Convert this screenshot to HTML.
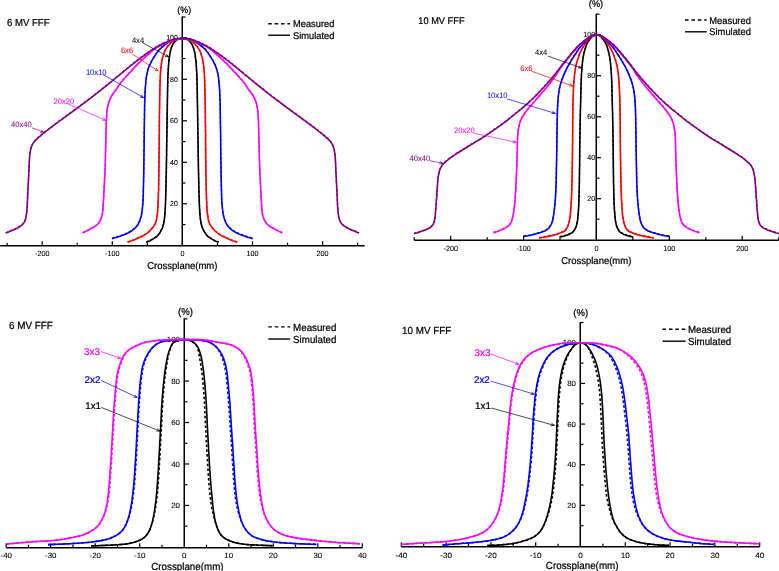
<!DOCTYPE html>
<html><head><meta charset="utf-8"><title>Beam profiles</title>
<style>
html,body{margin:0;padding:0;background:#fff;}
body{width:779px;height:571px;overflow:hidden;}
svg{display:block;}
text{font-family:"Liberation Sans", Arial, Helvetica, sans-serif;text-rendering:geometricPrecision;}
</style></head><body>
<svg width="779" height="571" viewBox="0 0 779 571">
<rect width="779" height="571" fill="#fff"/>
<line x1="182.25" y1="245.75" x2="182.25" y2="16.55" stroke="#000" stroke-width="1.5"/>
<line x1="182.25" y1="224.55" x2="185.5" y2="224.55" stroke="#000" stroke-width="1.2"/>
<line x1="182.25" y1="203.8" x2="187" y2="203.8" stroke="#000" stroke-width="1.2"/>
<line x1="182.25" y1="183.05" x2="185.5" y2="183.05" stroke="#000" stroke-width="1.2"/>
<line x1="182.25" y1="162.3" x2="187" y2="162.3" stroke="#000" stroke-width="1.2"/>
<line x1="182.25" y1="141.55" x2="185.5" y2="141.55" stroke="#000" stroke-width="1.2"/>
<line x1="182.25" y1="120.8" x2="187" y2="120.8" stroke="#000" stroke-width="1.2"/>
<line x1="182.25" y1="100.05" x2="185.5" y2="100.05" stroke="#000" stroke-width="1.2"/>
<line x1="182.25" y1="79.3" x2="187" y2="79.3" stroke="#000" stroke-width="1.2"/>
<line x1="182.25" y1="58.55" x2="185.5" y2="58.55" stroke="#000" stroke-width="1.2"/>
<line x1="182.25" y1="37.8" x2="187" y2="37.8" stroke="#000" stroke-width="1.2"/>
<line x1="182.25" y1="17.05" x2="185.5" y2="17.05" stroke="#000" stroke-width="1.2"/>
<text transform="translate(177.9 206.3) scale(1 1.05)" font-size="7.0" fill="#000" stroke="#000" stroke-width="0.08" text-anchor="end">20</text>
<text transform="translate(177.9 164.8) scale(1 1.05)" font-size="7.0" fill="#000" stroke="#000" stroke-width="0.08" text-anchor="end">40</text>
<text transform="translate(177.9 123.3) scale(1 1.05)" font-size="7.0" fill="#000" stroke="#000" stroke-width="0.08" text-anchor="end">60</text>
<text transform="translate(177.9 81.8) scale(1 1.05)" font-size="7.0" fill="#000" stroke="#000" stroke-width="0.08" text-anchor="end">80</text>
<text transform="translate(177.9 40.3) scale(1 1.05)" font-size="7.0" fill="#000" stroke="#000" stroke-width="0.08" text-anchor="end">100</text>
<line x1="0.14" y1="245.75" x2="364.66" y2="245.75" stroke="#000" stroke-width="1.5"/>
<line x1="42.2" y1="245.75" x2="42.2" y2="241.2" stroke="#000" stroke-width="1.2"/>
<line x1="112.3" y1="245.75" x2="112.3" y2="241.2" stroke="#000" stroke-width="1.2"/>
<line x1="252.5" y1="245.75" x2="252.5" y2="241.2" stroke="#000" stroke-width="1.2"/>
<line x1="322.6" y1="245.75" x2="322.6" y2="241.2" stroke="#000" stroke-width="1.2"/>
<line x1="7.15" y1="245.75" x2="7.15" y2="242.7" stroke="#000" stroke-width="1.2"/>
<line x1="77.25" y1="245.75" x2="77.25" y2="242.7" stroke="#000" stroke-width="1.2"/>
<line x1="147.35" y1="245.75" x2="147.35" y2="242.7" stroke="#000" stroke-width="1.2"/>
<line x1="217.45" y1="245.75" x2="217.45" y2="242.7" stroke="#000" stroke-width="1.2"/>
<line x1="287.55" y1="245.75" x2="287.55" y2="242.7" stroke="#000" stroke-width="1.2"/>
<line x1="357.65" y1="245.75" x2="357.65" y2="242.7" stroke="#000" stroke-width="1.2"/>
<text transform="translate(42.2 255.8) scale(1 1.05)" font-size="7.2" fill="#000" stroke="#000" stroke-width="0.08" text-anchor="middle">-200</text>
<text transform="translate(112.3 255.8) scale(1 1.05)" font-size="7.2" fill="#000" stroke="#000" stroke-width="0.08" text-anchor="middle">-100</text>
<text transform="translate(182.4 255.8) scale(1 1.05)" font-size="7.2" fill="#000" stroke="#000" stroke-width="0.08" text-anchor="middle">0</text>
<text transform="translate(252.5 255.8) scale(1 1.05)" font-size="7.2" fill="#000" stroke="#000" stroke-width="0.08" text-anchor="middle">100</text>
<text transform="translate(322.6 255.8) scale(1 1.05)" font-size="7.2" fill="#000" stroke="#000" stroke-width="0.08" text-anchor="middle">200</text>
<text transform="translate(184.2 12.9) scale(1 1.05)" font-size="8.9" fill="#000" stroke="#000" stroke-width="0.22" text-anchor="middle">(%)</text>
<text transform="translate(182.35 268.8) scale(1 1.05)" font-size="9.5" fill="#000" stroke="#000" stroke-width="0.22" text-anchor="middle">Crossplane(mm)</text>
<text transform="translate(6.9 25.9) scale(1 1.05)" font-size="9.6" fill="#000" stroke="#000" stroke-width="0.22" text-anchor="start">6 MV FFF</text>
<line x1="268.2" y1="23.7" x2="290" y2="23.7" stroke="#000" stroke-width="1.4" stroke-dasharray="3.6,2.8"/>
<text transform="translate(293 27.1) scale(1 1.05)" font-size="9.3" fill="#000" stroke="#000" stroke-width="0.22" text-anchor="start">Measured</text>
<line x1="268.2" y1="35.2" x2="290" y2="35.2" stroke="#000" stroke-width="1.4"/>
<text transform="translate(293 38.6) scale(1 1.05)" font-size="9.3" fill="#000" stroke="#000" stroke-width="0.22" text-anchor="start">Simulated</text>
<path d="M146.1,242.2 147.5,241.7 148.8,241.3 150.2,240.7 151.3,240.1 152.5,239.4 153.6,238.7 154.8,237.9 156.1,237.1 157.2,236.2 158,235.3 158.8,234.3 159.5,233.3 160.2,232.2 160.8,231.1 161.5,229.9 162.1,228.7 162.5,227.6 162.9,226.4 163.3,225.1 163.6,223.8 163.9,222.5 164.1,221.2 164.3,219.8 164.5,218.4 164.6,216.9 164.8,215.3 164.9,213.7 165,212.1 165.1,210.7 165.2,209.4 165.3,207.9 165.3,206.5 165.4,205.0 165.5,203.4 165.5,201.9 165.6,200.3 165.6,198.7 165.7,197.1 165.7,195.5 165.8,194.1 165.8,192.7 165.8,191.2 165.9,189.8 165.9,188.3 166,186.8 166,185.3 166,183.8 166.1,182.2 166.1,180.7 166.1,179.1 166.2,177.5 166.2,175.9 166.2,174.3 166.3,172.7 166.3,171.2 166.3,169.8 166.4,168.3 166.4,166.8 166.4,165.2 166.4,163.7 166.5,162.1 166.5,160.6 166.5,159.0 166.5,157.4 166.6,155.8 166.6,154.2 166.6,152.6 166.6,151.0 166.6,149.4 166.7,147.9 166.7,146.3 166.7,144.7 166.7,143.1 166.8,141.6 166.8,140.0 166.8,138.4 166.8,136.8 166.9,135.3 166.9,133.7 166.9,132.1 166.9,130.5 167,128.9 167,127.4 167,125.8 167,124.2 167.1,122.6 167.1,121.1 167.1,119.5 167.1,118.0 167.2,116.4 167.2,114.9 167.2,113.4 167.2,111.9 167.3,110.4 167.3,108.8 167.3,107.1 167.3,105.5 167.4,103.8 167.4,102.2 167.4,100.6 167.4,99.0 167.5,97.4 167.5,95.8 167.5,94.3 167.5,92.7 167.6,91.2 167.6,89.7 167.6,88.3 167.6,86.9 167.7,85.5 167.7,83.9 167.8,82.3 167.8,80.8 167.8,79.3 167.9,77.8 167.9,76.4 168,75.0 168,73.6 168.1,72.3 168.2,71.0 168.3,69.4 168.4,67.8 168.4,66.3 168.6,64.9 168.7,63.5 168.8,62.1 168.9,60.7 169.1,59.3 169.3,58.0 169.5,56.7 169.6,55.4 169.8,54.1 170.1,52.9 170.3,51.6 170.6,50.5 171,49.1 171.4,47.7 171.9,46.5 172.5,45.2 173.1,44.0 173.8,43.0 174.6,42.0 175.4,41.1 176.2,40.4 177.1,39.7 178.1,39.3 179.2,38.9 180.3,38.7 181.4,38.6 182.4,38.6 183.4,38.6 184.5,38.7 185.6,38.9 186.7,39.3 187.7,39.7 188.6,40.4 189.4,41.1 190.2,42.0 191,43.0 191.7,44.0 192.3,45.2 192.9,46.5 193.4,47.7 193.8,49.1 194.2,50.5 194.5,51.6 194.7,52.9 195,54.1 195.2,55.4 195.3,56.7 195.5,58.0 195.7,59.3 195.9,60.7 196,62.1 196.1,63.5 196.2,64.9 196.4,66.3 196.4,67.8 196.5,69.4 196.6,71.0 196.7,72.3 196.8,73.6 196.8,75.0 196.9,76.4 196.9,77.8 197,79.3 197,80.8 197,82.3 197.1,83.9 197.1,85.5 197.2,86.9 197.2,88.3 197.2,89.7 197.2,91.2 197.3,92.7 197.3,94.3 197.3,95.8 197.3,97.4 197.4,99.0 197.4,100.6 197.4,102.2 197.4,103.8 197.5,105.5 197.5,107.1 197.5,108.8 197.5,110.4 197.6,111.9 197.6,113.4 197.6,114.9 197.6,116.4 197.7,118.0 197.7,119.5 197.7,121.1 197.7,122.6 197.8,124.2 197.8,125.8 197.8,127.4 197.8,128.9 197.9,130.5 197.9,132.1 197.9,133.7 197.9,135.3 198,136.8 198,138.4 198,140.0 198,141.6 198.1,143.1 198.1,144.7 198.1,146.3 198.1,147.9 198.2,149.4 198.2,151.0 198.2,152.6 198.2,154.2 198.2,155.8 198.3,157.4 198.3,159.0 198.3,160.6 198.3,162.1 198.4,163.7 198.4,165.2 198.4,166.8 198.4,168.3 198.5,169.8 198.5,171.2 198.5,172.7 198.6,174.3 198.6,175.9 198.6,177.5 198.7,179.1 198.7,180.7 198.7,182.2 198.8,183.8 198.8,185.3 198.8,186.8 198.9,188.3 198.9,189.8 199,191.2 199,192.7 199,194.1 199.1,195.5 199.1,197.1 199.2,198.7 199.2,200.3 199.3,201.9 199.3,203.4 199.4,205.0 199.5,206.5 199.5,207.9 199.6,209.4 199.7,210.7 199.8,212.1 199.9,213.7 200,215.3 200.2,216.9 200.3,218.4 200.5,219.8 200.7,221.2 200.9,222.5 201.2,223.8 201.5,225.1 201.9,226.4 202.3,227.6 202.7,228.7 203.3,229.9 204,231.1 204.6,232.2 205.3,233.3 206,234.3 206.8,235.3 207.6,236.2 208.7,237.1 210,237.9 211.2,238.7 212.3,239.4 213.5,240.1 214.6,240.7 216,241.3 217.3,241.7 218.7,242.2" fill="none" stroke="#000000" stroke-width="1.6" stroke-linejoin="round"/>
<path d="M146.1,241.7 147.5,241.2 148.8,240.8 150.2,240.2 151.3,239.6 152.5,238.9 153.6,238.2 154.8,237.4 156.1,236.6 157.2,235.7 158,234.8 158.8,233.8 159.5,232.8 160.2,231.7 160.8,230.6 161.5,229.4 162.1,228.2 162.5,227.1 162.9,225.9 163.3,224.6 163.6,223.3 163.9,222.0 164.1,220.7 164.3,219.3 164.5,217.9 164.6,216.4 164.8,214.8 164.9,213.2 165,211.6 165.1,210.2 165.2,208.9 165.3,207.4 165.3,206.0 165.4,204.5 165.5,202.9 165.5,201.4 165.6,199.8 165.6,198.2 165.7,196.6 165.7,195.0 165.8,193.6 165.8,192.2 165.8,190.7 165.9,189.3 165.9,187.8 166,186.3 166,184.8 166,183.3 166.1,181.7 166.1,180.2 166.1,178.6 166.2,177.0 166.2,175.4 166.2,173.8 166.3,172.2 166.3,170.7 166.3,169.3 166.4,167.8 166.4,166.3 166.4,164.7 166.4,163.2 166.5,161.6 166.5,160.1 166.5,158.5 166.5,156.9 166.6,155.3 166.6,153.7 166.6,152.1 166.6,150.5 166.6,148.9 166.7,147.4 166.7,145.8 166.7,144.2 166.7,142.6 166.8,141.1 166.8,139.5 166.8,137.9 166.8,136.3 166.9,134.8 166.9,133.2 166.9,131.6 166.9,130.0 167,128.4 167,126.9 167,125.3 167,123.7 167.1,122.1 167.1,120.6 167.1,119.0 167.1,117.5 167.2,115.9 167.2,114.4 167.2,112.9 167.2,111.4 167.3,109.9 167.3,108.3 167.3,106.6 167.3,105.0 167.4,103.3 167.4,101.7 167.4,100.1 167.4,98.5 167.5,96.9 167.5,95.3 167.5,93.8 167.5,92.2 167.6,90.7 167.6,89.2 167.6,87.8 167.6,86.4 167.7,85.0 167.7,83.4 167.8,81.8 167.8,80.3 167.8,78.8 167.9,77.3 167.9,75.9 168,74.5 168,73.1 168.1,71.8 168.2,70.5 168.3,68.9 168.4,67.3 168.4,65.8 168.6,64.4 168.7,63.0 168.8,61.6 168.9,60.2 169.1,58.8 169.3,57.5 169.5,56.2 169.6,54.9 169.8,53.6 170.1,52.4 170.3,51.1 170.6,50.0 171,48.6 171.4,47.2 171.9,46.0 172.5,44.7 173.1,43.5 173.8,42.5 174.6,41.5 175.4,40.6 176.2,39.9 177.1,39.2 178.1,38.8 179.2,38.4 180.3,38.2 181.4,38.1 182.4,38.1 183.4,38.1 184.5,38.2 185.6,38.4 186.7,38.8 187.7,39.2 188.6,39.9 189.4,40.6 190.2,41.5 191,42.5 191.7,43.5 192.3,44.7 192.9,46.0 193.4,47.2 193.8,48.6 194.2,50.0 194.5,51.1 194.7,52.4 195,53.6 195.2,54.9 195.3,56.2 195.5,57.5 195.7,58.8 195.9,60.2 196,61.6 196.1,63.0 196.2,64.4 196.4,65.8 196.4,67.3 196.5,68.9 196.6,70.5 196.7,71.8 196.8,73.1 196.8,74.5 196.9,75.9 196.9,77.3 197,78.8 197,80.3 197,81.8 197.1,83.4 197.1,85.0 197.2,86.4 197.2,87.8 197.2,89.2 197.2,90.7 197.3,92.2 197.3,93.8 197.3,95.3 197.3,96.9 197.4,98.5 197.4,100.1 197.4,101.7 197.4,103.3 197.5,105.0 197.5,106.6 197.5,108.3 197.5,109.9 197.6,111.4 197.6,112.9 197.6,114.4 197.6,115.9 197.7,117.5 197.7,119.0 197.7,120.6 197.7,122.1 197.8,123.7 197.8,125.3 197.8,126.9 197.8,128.4 197.9,130.0 197.9,131.6 197.9,133.2 197.9,134.8 198,136.3 198,137.9 198,139.5 198,141.1 198.1,142.6 198.1,144.2 198.1,145.8 198.1,147.4 198.2,148.9 198.2,150.5 198.2,152.1 198.2,153.7 198.2,155.3 198.3,156.9 198.3,158.5 198.3,160.1 198.3,161.6 198.4,163.2 198.4,164.7 198.4,166.3 198.4,167.8 198.5,169.3 198.5,170.7 198.5,172.2 198.6,173.8 198.6,175.4 198.6,177.0 198.7,178.6 198.7,180.2 198.7,181.7 198.8,183.3 198.8,184.8 198.8,186.3 198.9,187.8 198.9,189.3 199,190.7 199,192.2 199,193.6 199.1,195.0 199.1,196.6 199.2,198.2 199.2,199.8 199.3,201.4 199.3,202.9 199.4,204.5 199.5,206.0 199.5,207.4 199.6,208.9 199.7,210.2 199.8,211.6 199.9,213.2 200,214.8 200.2,216.4 200.3,217.9 200.5,219.3 200.7,220.7 200.9,222.0 201.2,223.3 201.5,224.6 201.9,225.9 202.3,227.1 202.7,228.2 203.3,229.4 204,230.6 204.6,231.7 205.3,232.8 206,233.8 206.8,234.8 207.6,235.7 208.7,236.6 210,237.4 211.2,238.2 212.3,238.9 213.5,239.6 214.6,240.2 216,240.8 217.3,241.2 218.7,241.7" fill="none" stroke="#000000" stroke-width="1.2" stroke-linejoin="round" stroke-dasharray="2.5,2"/>
<path d="M127.5,242.2 129,241.7 130.4,241.3 131.9,240.8 133.3,240.3 134.7,239.7 136,239.1 137.4,238.5 138.7,237.8 139.9,237.3 141.1,236.7 142.3,236.2 143.4,235.6 144.5,234.9 145.8,234.2 146.9,233.4 148,232.5 149.1,231.6 150.2,230.5 151.3,229.3 152.4,228.1 153.3,226.8 154.1,225.7 154.7,224.6 155.3,223.4 155.8,222.1 156.2,220.9 156.5,219.7 156.7,218.4 156.9,217.0 157.1,215.6 157.3,214.2 157.5,212.8 157.6,211.3 157.7,209.8 157.8,208.3 157.9,206.7 158,205.1 158.1,203.4 158.1,201.7 158.2,200.3 158.3,198.9 158.3,197.4 158.4,195.9 158.4,194.3 158.5,192.8 158.5,191.2 158.6,189.6 158.6,188.0 158.6,186.4 158.7,184.7 158.7,183.1 158.7,181.6 158.8,180.1 158.8,178.7 158.8,177.2 158.8,175.7 158.9,174.1 158.9,172.6 158.9,171.0 158.9,169.5 158.9,167.9 159,166.3 159,164.7 159,163.1 159,161.5 159,159.8 159.1,158.2 159.1,156.7 159.1,155.2 159.1,153.6 159.1,152.1 159.1,150.5 159.1,148.9 159.2,147.4 159.2,145.8 159.2,144.1 159.2,142.5 159.2,140.9 159.2,139.3 159.2,137.6 159.2,136.0 159.2,134.4 159.3,132.8 159.3,131.2 159.3,129.6 159.3,128.0 159.3,126.5 159.3,125.0 159.4,123.4 159.4,121.8 159.4,120.2 159.4,118.6 159.4,117.0 159.4,115.4 159.5,113.9 159.5,112.3 159.5,110.7 159.5,109.2 159.6,107.6 159.6,106.1 159.6,104.6 159.6,103.1 159.6,101.6 159.7,100.2 159.7,98.7 159.7,97.3 159.8,95.9 159.8,94.2 159.8,92.6 159.9,90.9 159.9,89.3 159.9,87.7 160,86.1 160,84.6 160.1,83.1 160.1,81.6 160.1,80.2 160.2,78.8 160.3,77.5 160.3,76.2 160.4,74.4 160.5,72.7 160.6,71.1 160.8,69.6 160.9,68.2 161,66.8 161.2,65.4 161.4,64.1 161.6,62.8 161.8,61.5 162.1,60.0 162.4,58.4 162.8,56.9 163.3,55.4 163.7,54.1 164.2,52.8 164.7,51.5 165.3,50.2 165.9,49.1 166.6,48.1 167.3,47.0 168,46.1 168.8,45.2 169.5,44.4 170.3,43.6 171.1,42.7 172,41.9 172.9,41.1 173.9,40.4 175,39.9 176.2,39.4 177.5,39.1 178.9,38.8 180.1,38.7 181.2,38.6 182.4,38.6 183.6,38.6 184.7,38.7 185.9,38.8 187.3,39.1 188.6,39.4 189.8,39.9 190.9,40.4 191.9,41.1 192.8,41.9 193.7,42.7 194.5,43.6 195.3,44.4 196,45.2 196.8,46.1 197.5,47.0 198.2,48.1 198.9,49.1 199.5,50.2 200.1,51.5 200.6,52.8 201.1,54.1 201.5,55.4 202,56.9 202.4,58.4 202.7,60.0 203,61.5 203.2,62.8 203.4,64.1 203.6,65.4 203.8,66.8 203.9,68.2 204,69.6 204.2,71.1 204.3,72.7 204.4,74.4 204.5,76.2 204.5,77.5 204.6,78.8 204.7,80.2 204.7,81.6 204.7,83.1 204.8,84.6 204.8,86.1 204.9,87.7 204.9,89.3 204.9,90.9 205,92.6 205,94.2 205,95.9 205.1,97.3 205.1,98.7 205.1,100.2 205.2,101.6 205.2,103.1 205.2,104.6 205.2,106.1 205.2,107.6 205.3,109.2 205.3,110.7 205.3,112.3 205.3,113.9 205.4,115.4 205.4,117.0 205.4,118.6 205.4,120.2 205.4,121.8 205.4,123.4 205.5,124.9 205.5,126.5 205.5,128.0 205.5,129.6 205.5,131.2 205.5,132.8 205.6,134.4 205.6,136.0 205.6,137.6 205.6,139.3 205.6,140.9 205.6,142.5 205.6,144.1 205.6,145.8 205.6,147.4 205.7,148.9 205.7,150.5 205.7,152.1 205.7,153.6 205.7,155.2 205.7,156.7 205.7,158.2 205.8,159.8 205.8,161.5 205.8,163.1 205.8,164.7 205.8,166.3 205.9,167.9 205.9,169.5 205.9,171.0 205.9,172.6 205.9,174.1 206,175.7 206,177.2 206,178.7 206,180.1 206.1,181.6 206.1,183.1 206.1,184.7 206.2,186.4 206.2,188.0 206.2,189.6 206.3,191.2 206.3,192.8 206.4,194.3 206.4,195.9 206.5,197.4 206.5,198.9 206.6,200.3 206.7,201.7 206.7,203.4 206.8,205.1 206.9,206.7 207,208.3 207.1,209.8 207.2,211.3 207.3,212.8 207.5,214.2 207.7,215.6 207.9,217.0 208.1,218.4 208.3,219.7 208.6,220.9 209,222.1 209.5,223.4 210.1,224.6 210.7,225.7 211.5,226.8 212.4,228.1 213.5,229.3 214.6,230.5 215.7,231.6 216.8,232.5 217.9,233.4 219,234.2 220.3,234.9 221.4,235.6 222.5,236.2 223.7,236.7 224.9,237.3 226.1,237.8 227.4,238.5 228.8,239.1 230.1,239.7 231.5,240.3 232.9,240.8 234.4,241.3 235.8,241.7 237.3,242.2" fill="none" stroke="#FF0000" stroke-width="1.6" stroke-linejoin="round"/>
<path d="M127.5,241.7 129,241.2 130.4,240.8 131.9,240.3 133.3,239.8 134.7,239.2 136,238.6 137.4,238.0 138.7,237.3 139.9,236.8 141.1,236.2 142.3,235.7 143.4,235.1 144.5,234.4 145.8,233.7 146.9,232.9 148,232.0 149.1,231.1 150.2,230.0 151.3,228.8 152.4,227.6 153.3,226.3 154.1,225.2 154.7,224.1 155.3,222.9 155.8,221.6 156.2,220.4 156.5,219.2 156.7,217.9 156.9,216.5 157.1,215.1 157.3,213.7 157.5,212.3 157.6,210.8 157.7,209.3 157.8,207.8 157.9,206.2 158,204.6 158.1,202.9 158.1,201.2 158.2,199.8 158.3,198.4 158.3,196.9 158.4,195.4 158.4,193.8 158.5,192.3 158.5,190.7 158.6,189.1 158.6,187.5 158.6,185.9 158.7,184.2 158.7,182.6 158.7,181.1 158.8,179.6 158.8,178.2 158.8,176.7 158.8,175.2 158.9,173.6 158.9,172.1 158.9,170.5 158.9,169.0 158.9,167.4 159,165.8 159,164.2 159,162.6 159,161.0 159,159.3 159.1,157.6 159.1,156.2 159.1,154.7 159.1,153.1 159.1,151.6 159.1,150.0 159.1,148.4 159.2,146.9 159.2,145.3 159.2,143.6 159.2,142.0 159.2,140.4 159.2,138.8 159.2,137.1 159.2,135.5 159.2,133.9 159.3,132.3 159.3,130.7 159.3,129.1 159.3,127.5 159.3,126.0 159.3,124.5 159.4,122.9 159.4,121.3 159.4,119.7 159.4,118.1 159.4,116.5 159.4,114.9 159.5,113.4 159.5,111.8 159.5,110.2 159.5,108.7 159.6,107.1 159.6,105.6 159.6,104.1 159.6,102.6 159.6,101.1 159.7,99.7 159.7,98.2 159.7,96.8 159.8,95.4 159.8,93.7 159.8,92.1 159.9,90.4 159.9,88.8 159.9,87.2 160,85.6 160,84.1 160.1,82.6 160.1,81.1 160.1,79.7 160.2,78.3 160.3,77.0 160.3,75.7 160.4,73.9 160.5,72.2 160.6,70.6 160.8,69.1 160.9,67.7 161,66.3 161.2,64.9 161.4,63.6 161.6,62.3 161.8,61.0 162.1,59.5 162.4,57.9 162.8,56.4 163.3,54.9 163.7,53.6 164.2,52.3 164.7,51.0 165.3,49.8 165.9,48.6 166.6,47.6 167.3,46.5 168,45.6 168.8,44.7 169.5,43.9 170.3,43.1 171.1,42.2 172,41.4 172.9,40.6 173.9,39.9 175,39.4 176.2,38.9 177.5,38.6 178.9,38.3 180.1,38.2 181.2,38.1 182.4,38.1 183.6,38.1 184.7,38.2 185.9,38.3 187.3,38.6 188.6,38.9 189.8,39.4 190.9,39.9 191.9,40.6 192.8,41.4 193.7,42.2 194.5,43.1 195.3,43.9 196,44.7 196.8,45.6 197.5,46.5 198.2,47.6 198.9,48.6 199.5,49.8 200.1,51.0 200.6,52.3 201.1,53.6 201.5,54.9 202,56.4 202.4,57.9 202.7,59.5 203,61.0 203.2,62.3 203.4,63.6 203.6,64.9 203.8,66.3 203.9,67.7 204,69.1 204.2,70.6 204.3,72.2 204.4,73.9 204.5,75.7 204.5,77.0 204.6,78.3 204.7,79.7 204.7,81.1 204.7,82.6 204.8,84.1 204.8,85.6 204.9,87.2 204.9,88.8 204.9,90.4 205,92.1 205,93.7 205,95.4 205.1,96.8 205.1,98.2 205.1,99.7 205.2,101.1 205.2,102.6 205.2,104.1 205.2,105.6 205.2,107.1 205.3,108.7 205.3,110.2 205.3,111.8 205.3,113.4 205.4,114.9 205.4,116.5 205.4,118.1 205.4,119.7 205.4,121.3 205.4,122.9 205.5,124.5 205.5,126.0 205.5,127.5 205.5,129.1 205.5,130.7 205.5,132.3 205.6,133.9 205.6,135.5 205.6,137.1 205.6,138.8 205.6,140.4 205.6,142.0 205.6,143.6 205.6,145.3 205.6,146.9 205.7,148.4 205.7,150.0 205.7,151.6 205.7,153.1 205.7,154.7 205.7,156.2 205.7,157.7 205.8,159.3 205.8,161.0 205.8,162.6 205.8,164.2 205.8,165.8 205.9,167.4 205.9,169.0 205.9,170.5 205.9,172.1 205.9,173.6 206,175.2 206,176.7 206,178.2 206,179.6 206.1,181.1 206.1,182.6 206.1,184.2 206.2,185.9 206.2,187.5 206.2,189.1 206.3,190.7 206.3,192.3 206.4,193.8 206.4,195.4 206.5,196.9 206.5,198.4 206.6,199.8 206.7,201.2 206.7,202.9 206.8,204.6 206.9,206.2 207,207.8 207.1,209.3 207.2,210.8 207.3,212.3 207.5,213.7 207.7,215.1 207.9,216.5 208.1,217.9 208.3,219.2 208.6,220.4 209,221.6 209.5,222.9 210.1,224.1 210.7,225.2 211.5,226.3 212.4,227.6 213.5,228.8 214.6,230.0 215.7,231.1 216.8,232.0 217.9,232.9 219,233.7 220.3,234.4 221.4,235.1 222.5,235.7 223.7,236.2 224.9,236.8 226.1,237.3 227.4,238.0 228.8,238.6 230.1,239.2 231.5,239.8 232.9,240.3 234.4,240.8 235.8,241.2 237.3,241.7" fill="none" stroke="#FF0000" stroke-width="1.2" stroke-linejoin="round" stroke-dasharray="2.5,2"/>
<path d="M111.9,238.7 113.3,238.2 114.8,237.8 116.3,237.4 117.8,236.9 119.3,236.4 120.6,235.9 121.9,235.5 123.3,234.9 124.7,234.4 126,233.9 127.4,233.3 128.7,232.7 129.8,232.0 131,231.3 132.2,230.5 133.3,229.6 134.3,228.8 135.3,227.9 136.1,227.0 137,226.0 137.7,225.0 138.3,223.9 138.9,222.7 139.5,221.4 140.1,219.9 140.5,218.4 141,216.9 141.4,215.2 141.7,213.9 141.9,212.6 142.1,211.2 142.2,209.8 142.4,208.4 142.5,206.9 142.7,205.3 142.8,203.8 142.9,202.4 143,201.0 143.1,199.6 143.1,198.1 143.2,196.6 143.2,195.1 143.3,193.5 143.3,192.0 143.3,190.4 143.4,188.8 143.4,187.2 143.5,185.7 143.5,184.2 143.5,182.7 143.6,181.1 143.6,179.5 143.6,177.9 143.7,176.3 143.7,174.7 143.7,173.1 143.7,171.5 143.8,169.9 143.8,168.2 143.8,166.6 143.8,165.0 143.9,163.5 143.9,161.9 143.9,160.4 143.9,158.8 143.9,157.3 144,155.7 144,154.1 144,152.6 144,151.0 144,149.4 144.1,147.9 144.1,146.3 144.1,144.7 144.1,143.1 144.1,141.6 144.1,140.0 144.2,138.4 144.2,136.9 144.2,135.3 144.2,133.7 144.2,132.1 144.3,130.5 144.3,128.9 144.3,127.3 144.3,125.8 144.4,124.2 144.4,122.6 144.4,121.1 144.4,119.6 144.5,118.1 144.5,116.7 144.5,115.0 144.5,113.3 144.5,111.7 144.6,110.1 144.6,108.5 144.6,106.9 144.6,105.4 144.7,103.8 144.7,102.3 144.7,100.8 144.8,99.4 144.8,98.0 144.9,96.3 145,94.7 145,93.1 145.1,91.5 145.2,90.0 145.3,88.5 145.4,87.0 145.5,85.5 145.7,84.0 145.8,82.5 145.9,81.1 146.1,79.6 146.2,78.2 146.4,76.9 146.6,75.6 146.9,74.1 147.3,72.6 147.6,71.2 148,69.8 148.4,68.5 148.9,67.0 149.5,65.6 150.2,64.1 150.9,62.7 151.5,61.5 152.1,60.3 152.8,59.1 153.6,57.9 154.4,56.7 155.1,55.5 155.9,54.3 156.7,53.1 157.5,52.0 158.4,50.9 159.3,49.8 160.2,48.9 161.2,48.0 162.1,47.1 163.1,46.3 164.2,45.5 165.2,44.6 166.3,43.8 167.5,43.0 168.6,42.2 169.8,41.5 171,40.9 172.2,40.3 173.5,39.8 174.8,39.4 176.1,39.0 177.7,38.8 179.2,38.7 180.8,38.6 182.4,38.6 184,38.6 185.6,38.7 187.1,38.8 188.7,39.0 190,39.4 191.3,39.8 192.6,40.3 193.8,40.9 195,41.5 196.2,42.2 197.3,43.0 198.5,43.8 199.6,44.6 200.6,45.5 201.7,46.3 202.7,47.1 203.6,48.0 204.6,48.9 205.5,49.8 206.4,50.9 207.3,52.0 208.1,53.1 208.9,54.3 209.7,55.5 210.4,56.7 211.2,57.9 212,59.1 212.7,60.3 213.3,61.5 213.9,62.7 214.6,64.1 215.3,65.6 215.9,67.0 216.4,68.5 216.8,69.8 217.2,71.2 217.5,72.6 217.9,74.1 218.2,75.6 218.4,76.9 218.6,78.2 218.7,79.6 218.9,81.1 219,82.5 219.1,84.0 219.3,85.5 219.4,87.0 219.5,88.5 219.6,90.0 219.7,91.5 219.8,93.1 219.8,94.7 219.9,96.3 220,98.0 220,99.4 220.1,100.8 220.1,102.3 220.1,103.8 220.2,105.4 220.2,106.9 220.2,108.5 220.2,110.1 220.3,111.7 220.3,113.3 220.3,115.0 220.3,116.7 220.3,118.1 220.4,119.6 220.4,121.1 220.4,122.6 220.4,124.2 220.5,125.8 220.5,127.3 220.5,128.9 220.5,130.5 220.6,132.1 220.6,133.7 220.6,135.3 220.6,136.9 220.6,138.4 220.7,140.0 220.7,141.6 220.7,143.1 220.7,144.7 220.7,146.3 220.7,147.9 220.8,149.4 220.8,151.0 220.8,152.6 220.8,154.1 220.8,155.7 220.9,157.3 220.9,158.8 220.9,160.4 220.9,161.9 220.9,163.5 221,165.0 221,166.6 221,168.2 221,169.9 221.1,171.5 221.1,173.1 221.1,174.7 221.1,176.3 221.2,177.9 221.2,179.5 221.2,181.1 221.3,182.7 221.3,184.2 221.3,185.7 221.4,187.2 221.4,188.8 221.5,190.4 221.5,192.0 221.5,193.5 221.6,195.1 221.6,196.6 221.7,198.1 221.7,199.6 221.8,201.0 221.9,202.4 222,203.8 222.1,205.3 222.3,206.9 222.4,208.4 222.6,209.8 222.7,211.2 222.9,212.6 223.1,213.9 223.4,215.2 223.8,216.9 224.3,218.4 224.7,219.9 225.3,221.4 225.9,222.7 226.5,223.9 227.1,225.0 227.8,226.0 228.7,227.0 229.5,227.9 230.5,228.8 231.5,229.6 232.6,230.5 233.8,231.3 235,232.0 236.1,232.7 237.4,233.3 238.8,233.9 240.1,234.4 241.5,234.9 242.9,235.5 244.2,235.9 245.5,236.4 247,236.9 248.5,237.4 250,237.8 251.5,238.2 252.9,238.7" fill="none" stroke="#0000FF" stroke-width="1.6" stroke-linejoin="round"/>
<path d="M111.9,238.2 113.3,237.7 114.8,237.3 116.3,236.9 117.8,236.4 119.3,235.9 120.6,235.4 121.9,235.0 123.3,234.4 124.7,233.9 126,233.4 127.4,232.8 128.7,232.2 129.8,231.5 131,230.8 132.2,230.0 133.3,229.1 134.3,228.3 135.3,227.4 136.1,226.5 137,225.5 137.7,224.5 138.3,223.4 138.9,222.2 139.5,220.9 140.1,219.4 140.5,217.9 141,216.4 141.4,214.7 141.7,213.4 141.9,212.1 142.1,210.7 142.2,209.3 142.4,207.9 142.5,206.4 142.7,204.8 142.8,203.3 142.9,201.9 143,200.5 143.1,199.1 143.1,197.6 143.2,196.1 143.2,194.6 143.3,193.0 143.3,191.5 143.3,189.9 143.4,188.3 143.4,186.7 143.5,185.2 143.5,183.7 143.5,182.2 143.6,180.6 143.6,179.0 143.6,177.4 143.7,175.8 143.7,174.2 143.7,172.6 143.7,171.0 143.8,169.4 143.8,167.7 143.8,166.1 143.8,164.5 143.9,163.0 143.9,161.4 143.9,159.9 143.9,158.3 143.9,156.8 144,155.2 144,153.6 144,152.1 144,150.5 144,148.9 144.1,147.4 144.1,145.8 144.1,144.2 144.1,142.6 144.1,141.1 144.1,139.5 144.2,137.9 144.2,136.4 144.2,134.8 144.2,133.2 144.2,131.6 144.3,130.0 144.3,128.4 144.3,126.8 144.3,125.3 144.4,123.7 144.4,122.1 144.4,120.6 144.4,119.1 144.5,117.6 144.5,116.2 144.5,114.5 144.5,112.8 144.5,111.2 144.6,109.6 144.6,108.0 144.6,106.4 144.6,104.9 144.7,103.3 144.7,101.8 144.7,100.3 144.8,98.9 144.8,97.5 144.9,95.8 145,94.2 145,92.6 145.1,91.0 145.2,89.5 145.3,88.0 145.4,86.5 145.5,85.0 145.7,83.5 145.8,82.0 145.9,80.6 146.1,79.1 146.2,77.7 146.4,76.4 146.6,75.1 146.9,73.6 147.3,72.1 147.6,70.7 148,69.3 148.4,68.0 148.9,66.5 149.5,65.1 150.2,63.6 150.9,62.2 151.5,61.0 152.1,59.8 152.8,58.6 153.6,57.4 154.4,56.2 155.1,55.0 155.9,53.8 156.7,52.6 157.5,51.5 158.4,50.4 159.3,49.3 160.2,48.4 161.2,47.5 162.1,46.6 163.1,45.8 164.2,45.0 165.2,44.1 166.3,43.3 167.5,42.5 168.6,41.7 169.8,41.0 171,40.4 172.2,39.8 173.5,39.3 174.8,38.9 176.1,38.5 177.7,38.3 179.2,38.2 180.8,38.1 182.4,38.1 184,38.1 185.6,38.2 187.1,38.3 188.7,38.5 190,38.9 191.3,39.3 192.6,39.8 193.8,40.4 195,41.0 196.2,41.7 197.3,42.5 198.5,43.3 199.6,44.1 200.6,45.0 201.7,45.8 202.7,46.6 203.6,47.5 204.6,48.4 205.5,49.3 206.4,50.4 207.3,51.5 208.1,52.6 208.9,53.8 209.7,55.0 210.4,56.2 211.2,57.4 212,58.6 212.7,59.8 213.3,61.0 213.9,62.2 214.6,63.6 215.3,65.1 215.9,66.5 216.4,68.0 216.8,69.3 217.2,70.7 217.5,72.1 217.9,73.6 218.2,75.1 218.4,76.4 218.6,77.7 218.7,79.1 218.9,80.6 219,82.0 219.1,83.5 219.3,85.0 219.4,86.5 219.5,88.0 219.6,89.5 219.7,91.0 219.8,92.6 219.8,94.2 219.9,95.8 220,97.5 220,98.9 220.1,100.3 220.1,101.8 220.1,103.3 220.2,104.9 220.2,106.4 220.2,108.0 220.2,109.6 220.3,111.2 220.3,112.8 220.3,114.5 220.3,116.2 220.3,117.6 220.4,119.1 220.4,120.6 220.4,122.1 220.4,123.7 220.5,125.3 220.5,126.8 220.5,128.4 220.5,130.0 220.6,131.6 220.6,133.2 220.6,134.8 220.6,136.4 220.6,137.9 220.7,139.5 220.7,141.1 220.7,142.6 220.7,144.2 220.7,145.8 220.7,147.4 220.8,148.9 220.8,150.5 220.8,152.1 220.8,153.6 220.8,155.2 220.9,156.8 220.9,158.3 220.9,159.9 220.9,161.4 220.9,163.0 221,164.5 221,166.1 221,167.7 221,169.4 221.1,171.0 221.1,172.6 221.1,174.2 221.1,175.8 221.2,177.4 221.2,179.0 221.2,180.6 221.3,182.2 221.3,183.7 221.3,185.2 221.4,186.7 221.4,188.3 221.5,189.9 221.5,191.5 221.5,193.0 221.6,194.6 221.6,196.1 221.7,197.6 221.7,199.1 221.8,200.5 221.9,201.9 222,203.3 222.1,204.8 222.3,206.4 222.4,207.9 222.6,209.3 222.7,210.7 222.9,212.1 223.1,213.4 223.4,214.7 223.8,216.4 224.3,217.9 224.7,219.4 225.3,220.9 225.9,222.2 226.5,223.4 227.1,224.5 227.8,225.5 228.7,226.5 229.5,227.4 230.5,228.3 231.5,229.1 232.6,230.0 233.8,230.8 235,231.5 236.1,232.2 237.4,232.8 238.8,233.4 240.1,233.9 241.5,234.4 242.9,235.0 244.2,235.4 245.5,235.9 247,236.4 248.5,236.9 250,237.3 251.5,237.7 252.9,238.2" fill="none" stroke="#0000FF" stroke-width="1.2" stroke-linejoin="round" stroke-dasharray="2.5,2"/>
<path d="M82.6,233.1 83.9,232.4 85.1,231.8 86.4,231.1 87.7,230.5 89,229.8 90.2,229.1 91.6,228.3 93.1,227.5 94.5,226.7 95.8,225.9 96.9,225.0 97.8,224.0 98.7,223.0 99.4,221.9 100,220.8 100.7,219.6 101.2,218.3 101.7,216.9 102.1,215.2 102.4,214.0 102.6,212.7 102.7,211.3 102.9,209.7 103,208.2 103.1,206.6 103.2,204.9 103.3,203.3 103.4,201.7 103.5,200.1 103.6,198.6 103.7,197.0 103.8,195.5 103.8,193.9 103.9,192.4 104,190.8 104.1,189.3 104.2,187.7 104.2,186.1 104.3,184.6 104.4,183.1 104.5,181.5 104.5,180.0 104.6,178.6 104.7,177.1 104.8,175.6 104.8,174.1 104.9,172.6 105,171.1 105,169.6 105.1,168.0 105.1,166.4 105.2,164.9 105.3,163.3 105.3,161.7 105.4,160.1 105.4,158.5 105.4,156.8 105.5,155.2 105.5,153.5 105.6,151.9 105.6,150.3 105.6,148.7 105.7,147.2 105.7,145.7 105.7,144.1 105.8,142.6 105.8,141.1 105.9,139.6 105.9,138.2 105.9,136.7 106,135.3 106,133.9 106,132.5 106.1,131.2 106.1,129.7 106.1,128.2 106.2,126.7 106.2,125.3 106.3,123.9 106.3,122.5 106.3,121.1 106.4,119.8 106.5,118.2 106.6,116.7 106.7,115.1 106.8,113.7 106.9,112.2 107,110.8 107.2,109.5 107.4,108.2 107.7,106.9 107.9,105.6 108.2,104.4 108.6,103.0 109.1,101.6 109.6,100.2 110.2,98.8 110.8,97.6 111.4,96.5 112,95.3 112.7,94.2 113.4,93.2 114.2,92.0 115.1,91.0 116,89.9 116.7,88.9 117.4,87.8 118.1,86.7 118.8,85.6 119.5,84.5 120.5,83.2 121.5,81.9 122.5,80.7 123.5,79.5 124.4,78.5 125.3,77.5 126.2,76.4 127.2,75.4 128.2,74.4 129.2,73.3 130.2,72.2 131.3,71.1 132.3,70.0 133.3,68.9 134.4,67.8 135.4,66.7 136.3,65.7 137.3,64.6 138.4,63.5 139.4,62.6 140.4,61.6 141.4,60.6 142.5,59.6 143.5,58.6 144.5,57.7 145.6,56.8 146.6,55.9 147.6,55.1 148.6,54.2 149.6,53.4 150.5,52.5 151.5,51.6 152.4,50.7 153.4,49.9 154.4,49.1 155.4,48.3 156.5,47.7 157.7,47.0 158.8,46.4 160,45.8 161.4,45.1 162.8,44.4 164.2,43.7 165.6,43.1 167,42.5 168.4,42.0 169.8,41.5 171.2,41.0 172.6,40.6 174,40.3 175.4,39.9 176.8,39.6 178.2,39.3 179.6,39.0 181,38.7 182.4,38.6 183.8,38.7 185.2,39.0 186.6,39.3 188,39.6 189.4,39.9 190.8,40.3 192.2,40.6 193.6,41.0 195,41.5 196.4,42.0 197.8,42.5 199.2,43.1 200.6,43.7 202,44.4 203.4,45.1 204.8,45.8 206,46.4 207.1,47.0 208.3,47.7 209.4,48.3 210.4,49.1 211.4,49.9 212.4,50.7 213.3,51.6 214.3,52.5 215.2,53.4 216.2,54.2 217.2,55.1 218.2,55.9 219.2,56.8 220.3,57.7 221.3,58.6 222.3,59.6 223.4,60.6 224.4,61.6 225.4,62.6 226.4,63.5 227.5,64.6 228.5,65.7 229.4,66.7 230.4,67.8 231.5,68.9 232.5,70.0 233.5,71.1 234.6,72.2 235.6,73.3 236.6,74.4 237.6,75.4 238.6,76.4 239.5,77.5 240.4,78.5 241.3,79.5 242.3,80.7 243.3,81.9 244.3,83.2 245.3,84.5 246,85.6 246.7,86.7 247.4,87.8 248.1,88.9 248.8,89.9 249.7,91.0 250.6,92.0 251.4,93.2 252.1,94.2 252.8,95.3 253.4,96.5 254,97.6 254.6,98.8 255.2,100.2 255.7,101.6 256.2,103.0 256.6,104.4 256.9,105.6 257.1,106.9 257.4,108.2 257.6,109.5 257.8,110.8 257.9,112.2 258,113.7 258.1,115.1 258.2,116.7 258.3,118.2 258.4,119.8 258.5,121.1 258.5,122.5 258.5,123.9 258.6,125.3 258.6,126.7 258.7,128.2 258.7,129.7 258.7,131.2 258.8,132.5 258.8,133.9 258.8,135.3 258.9,136.7 258.9,138.2 258.9,139.6 259,141.1 259,142.6 259.1,144.1 259.1,145.7 259.1,147.2 259.2,148.7 259.2,150.3 259.2,151.9 259.3,153.5 259.3,155.2 259.4,156.8 259.4,158.5 259.4,160.1 259.5,161.7 259.5,163.3 259.6,164.9 259.7,166.4 259.7,168.0 259.8,169.6 259.8,171.1 259.9,172.6 260,174.1 260,175.6 260.1,177.1 260.2,178.6 260.3,180.0 260.3,181.5 260.4,183.1 260.5,184.6 260.6,186.1 260.6,187.7 260.7,189.3 260.8,190.8 260.9,192.4 261,193.9 261,195.5 261.1,197.0 261.2,198.6 261.3,200.1 261.4,201.7 261.5,203.3 261.6,204.9 261.7,206.6 261.8,208.2 261.9,209.7 262.1,211.3 262.2,212.7 262.4,214.0 262.7,215.2 263.1,216.9 263.6,218.3 264.1,219.6 264.8,220.8 265.4,221.9 266.1,223.0 267,224.0 267.9,225.0 269,225.9 270.3,226.7 271.7,227.5 273.2,228.3 274.6,229.1 275.8,229.8 277.1,230.5 278.4,231.1 279.7,231.8 280.9,232.4 282.2,233.1" fill="none" stroke="#FF00FF" stroke-width="1.6" stroke-linejoin="round"/>
<path d="M82.6,232.6 83.9,231.9 85.1,231.3 86.4,230.6 87.7,230.0 89,229.3 90.2,228.6 91.6,227.8 93.1,227.0 94.5,226.2 95.8,225.4 96.9,224.5 97.8,223.5 98.7,222.5 99.4,221.4 100,220.3 100.7,219.1 101.2,217.8 101.7,216.4 102.1,214.7 102.4,213.5 102.6,212.2 102.7,210.8 102.9,209.2 103,207.7 103.1,206.1 103.2,204.4 103.3,202.8 103.4,201.2 103.5,199.6 103.6,198.1 103.7,196.5 103.8,195.0 103.8,193.4 103.9,191.9 104,190.3 104.1,188.8 104.2,187.2 104.2,185.6 104.3,184.1 104.4,182.6 104.5,181.0 104.5,179.5 104.6,178.1 104.7,176.6 104.8,175.1 104.8,173.6 104.9,172.1 105,170.6 105,169.1 105.1,167.5 105.1,165.9 105.2,164.4 105.3,162.8 105.3,161.2 105.4,159.6 105.4,158.0 105.4,156.3 105.5,154.7 105.5,153.0 105.6,151.4 105.6,149.8 105.6,148.2 105.7,146.7 105.7,145.2 105.7,143.6 105.8,142.1 105.8,140.6 105.9,139.1 105.9,137.7 105.9,136.2 106,134.8 106,133.4 106,132.0 106.1,130.7 106.1,129.2 106.1,127.7 106.2,126.2 106.2,124.8 106.3,123.4 106.3,122.0 106.3,120.6 106.4,119.3 106.5,117.7 106.6,116.2 106.7,114.6 106.8,113.2 106.9,111.7 107,110.3 107.2,109.0 107.4,107.7 107.7,106.4 107.9,105.1 108.2,103.9 108.6,102.5 109.1,101.1 109.6,99.7 110.2,98.3 110.8,97.1 111.4,96.0 112,94.8 112.7,93.7 113.4,92.7 114.2,91.5 115.1,90.5 116,89.4 116.7,88.4 117.4,87.3 118.1,86.2 118.8,85.1 119.5,84.0 120.5,82.7 121.5,81.4 122.5,80.2 123.5,79.0 124.4,78.0 125.3,77.0 126.2,75.9 127.2,74.9 128.2,73.9 129.2,72.8 130.2,71.7 131.3,70.6 132.3,69.5 133.3,68.4 134.4,67.3 135.4,66.2 136.3,65.2 137.3,64.1 138.4,63.0 139.4,62.1 140.4,61.1 141.4,60.1 142.5,59.1 143.5,58.1 144.5,57.2 145.6,56.3 146.6,55.4 147.6,54.6 148.6,53.7 149.6,52.9 150.5,52.0 151.5,51.1 152.4,50.2 153.4,49.4 154.4,48.6 155.4,47.8 156.5,47.2 157.7,46.5 158.8,45.9 160,45.3 161.4,44.6 162.8,43.9 164.2,43.2 165.6,42.6 167,42.0 168.4,41.5 169.8,41.0 171.2,40.5 172.6,40.1 174,39.8 175.4,39.4 176.8,39.1 178.2,38.8 179.6,38.5 181,38.2 182.4,38.1 183.8,38.2 185.2,38.5 186.6,38.8 188,39.1 189.4,39.4 190.8,39.8 192.2,40.1 193.6,40.5 195,41.0 196.4,41.5 197.8,42.0 199.2,42.6 200.6,43.2 202,43.9 203.4,44.6 204.8,45.3 206,45.9 207.1,46.5 208.3,47.2 209.4,47.8 210.4,48.6 211.4,49.4 212.4,50.2 213.3,51.1 214.3,52.0 215.2,52.9 216.2,53.7 217.2,54.6 218.2,55.4 219.2,56.3 220.3,57.2 221.3,58.1 222.3,59.1 223.4,60.1 224.4,61.1 225.4,62.1 226.4,63.0 227.5,64.1 228.5,65.2 229.4,66.2 230.4,67.3 231.5,68.4 232.5,69.5 233.5,70.6 234.6,71.7 235.6,72.8 236.6,73.9 237.6,74.9 238.6,75.9 239.5,77.0 240.4,78.0 241.3,79.0 242.3,80.2 243.3,81.4 244.3,82.7 245.3,84.0 246,85.1 246.7,86.2 247.4,87.3 248.1,88.4 248.8,89.4 249.7,90.5 250.6,91.5 251.4,92.7 252.1,93.7 252.8,94.8 253.4,96.0 254,97.1 254.6,98.3 255.2,99.7 255.7,101.1 256.2,102.5 256.6,103.9 256.9,105.1 257.1,106.4 257.4,107.7 257.6,109.0 257.8,110.3 257.9,111.7 258,113.2 258.1,114.6 258.2,116.2 258.3,117.7 258.4,119.3 258.5,120.6 258.5,122.0 258.5,123.4 258.6,124.8 258.6,126.2 258.7,127.7 258.7,129.2 258.7,130.7 258.8,132.0 258.8,133.4 258.8,134.8 258.9,136.2 258.9,137.7 258.9,139.1 259,140.6 259,142.1 259.1,143.6 259.1,145.2 259.1,146.7 259.2,148.2 259.2,149.8 259.2,151.4 259.3,153.0 259.3,154.7 259.4,156.3 259.4,158.0 259.4,159.6 259.5,161.2 259.5,162.8 259.6,164.4 259.7,165.9 259.7,167.5 259.8,169.1 259.8,170.6 259.9,172.1 260,173.6 260,175.1 260.1,176.6 260.2,178.1 260.3,179.5 260.3,181.0 260.4,182.6 260.5,184.1 260.6,185.6 260.6,187.2 260.7,188.8 260.8,190.3 260.9,191.9 261,193.4 261,195.0 261.1,196.5 261.2,198.1 261.3,199.6 261.4,201.2 261.5,202.8 261.6,204.4 261.7,206.1 261.8,207.7 261.9,209.2 262.1,210.8 262.2,212.2 262.4,213.5 262.7,214.7 263.1,216.4 263.6,217.8 264.1,219.1 264.8,220.3 265.4,221.4 266.1,222.5 267,223.5 267.9,224.5 269,225.4 270.3,226.2 271.7,227.0 273.2,227.8 274.6,228.6 275.8,229.3 277.1,230.0 278.4,230.6 279.7,231.3 280.9,231.9 282.2,232.6" fill="none" stroke="#FF00FF" stroke-width="1.2" stroke-linejoin="round" stroke-dasharray="2.5,2"/>
<path d="M5.7,233.1 7.2,232.5 8.6,231.9 10,231.3 11.4,230.8 12.7,230.2 14.1,229.7 15.4,229.1 16.7,228.5 18,227.8 19.2,227.0 20.4,226.2 21.5,225.4 22.6,224.4 23.5,223.3 24.3,222.1 24.9,220.9 25.4,219.6 25.7,218.2 26.1,216.7 26.3,215.4 26.5,214.0 26.7,212.5 26.8,211.1 26.9,209.5 27.1,208.0 27.2,206.5 27.3,205.0 27.3,203.4 27.4,201.9 27.5,200.3 27.5,198.7 27.6,197.1 27.7,195.5 27.8,193.9 27.8,192.4 27.9,190.8 28,189.3 28.1,187.7 28.2,186.2 28.2,184.6 28.3,183.1 28.4,181.6 28.5,180.1 28.5,178.7 28.6,177.2 28.7,175.7 28.7,174.3 28.8,172.8 28.9,171.4 29,170.0 29,168.4 29.1,166.7 29.1,165.1 29.2,163.6 29.3,162.0 29.4,160.6 29.4,159.2 29.5,157.8 29.7,156.5 29.8,155.2 29.9,154.0 30.1,152.8 30.3,151.4 30.5,150.2 30.8,149.0 31.1,147.8 31.6,146.3 32.2,145.0 32.9,143.6 33.7,142.5 34.6,141.4 35.6,140.3 36.6,139.2 37.6,138.3 38.7,137.3 39.9,136.3 41,135.4 42.2,134.4 43.3,133.5 44.4,132.6 45.6,131.7 46.7,130.8 47.8,129.9 48.9,129.1 50,128.2 51.2,127.3 52.3,126.5 53.4,125.6 54.5,124.8 55.7,123.9 56.8,123.1 57.9,122.3 59,121.4 60.1,120.6 61.3,119.8 62.4,119.0 63.5,118.2 64.6,117.3 65.8,116.5 66.9,115.7 68,114.9 69.1,114.1 70.2,113.3 71.4,112.5 72.5,111.6 73.6,110.8 74.7,110.0 75.8,109.2 77,108.4 78.1,107.5 79.2,106.7 80.3,105.9 81.5,105.0 82.6,104.2 83.7,103.4 84.8,102.5 85.9,101.7 87.1,100.8 88.2,100.0 89.3,99.1 90.4,98.3 91.6,97.4 92.7,96.6 93.8,95.7 94.9,94.8 96,93.9 97.2,93.1 98.3,92.2 99.4,91.3 100.5,90.4 101.6,89.5 102.8,88.6 103.9,87.7 105,86.8 106.1,85.9 107.3,85.0 108.4,84.1 109.5,83.2 110.6,82.3 111.7,81.3 112.9,80.4 114,79.5 115.1,78.6 116.2,77.7 117.3,76.7 118.5,75.8 119.6,74.9 120.7,74.0 121.8,73.0 123,72.1 124.1,71.2 125.2,70.3 126.3,69.4 127.4,68.4 128.6,67.5 129.7,66.6 130.8,65.7 131.9,64.8 133,63.9 134.2,63.0 135.3,62.1 136.4,61.2 137.5,60.4 138.7,59.5 139.8,58.6 140.9,57.8 142,57.0 143.1,56.1 144.3,55.3 145.4,54.5 146.5,53.7 147.6,52.9 148.8,52.1 149.9,51.4 151,50.6 152.1,49.9 153.2,49.1 154.4,48.4 155.5,47.8 156.6,47.1 157.7,46.4 158.8,45.8 160,45.2 161.4,44.5 162.8,43.8 164.2,43.1 165.6,42.5 167,41.9 168.4,41.3 169.8,40.8 171.2,40.4 172.6,40.0 174,39.6 175.4,39.3 176.8,39.0 178.2,38.8 179.6,38.7 181,38.7 182.4,38.6 183.8,38.7 185.2,38.7 186.6,38.8 188,39.0 189.4,39.3 190.8,39.6 192.2,40.0 193.6,40.4 195,40.8 196.4,41.3 197.8,41.9 199.2,42.5 200.6,43.1 202,43.8 203.4,44.5 204.8,45.2 206,45.8 207.1,46.4 208.2,47.1 209.3,47.8 210.4,48.4 211.6,49.1 212.7,49.9 213.8,50.6 214.9,51.4 216,52.1 217.2,52.9 218.3,53.7 219.4,54.5 220.5,55.3 221.7,56.1 222.8,57.0 223.9,57.8 225,58.6 226.1,59.5 227.3,60.4 228.4,61.2 229.5,62.1 230.6,63.0 231.8,63.9 232.9,64.8 234,65.7 235.1,66.6 236.2,67.5 237.4,68.4 238.5,69.4 239.6,70.3 240.7,71.2 241.8,72.1 243,73.0 244.1,74.0 245.2,74.9 246.3,75.8 247.5,76.7 248.6,77.7 249.7,78.6 250.8,79.5 251.9,80.4 253.1,81.3 254.2,82.3 255.3,83.2 256.4,84.1 257.5,85.0 258.7,85.9 259.8,86.8 260.9,87.7 262,88.6 263.2,89.5 264.3,90.4 265.4,91.3 266.5,92.2 267.6,93.1 268.8,93.9 269.9,94.8 271,95.7 272.1,96.6 273.2,97.4 274.4,98.3 275.5,99.1 276.6,100.0 277.7,100.8 278.9,101.7 280,102.5 281.1,103.4 282.2,104.2 283.3,105.0 284.5,105.9 285.6,106.7 286.7,107.5 287.8,108.4 289,109.2 290.1,110.0 291.2,110.8 292.3,111.6 293.4,112.5 294.6,113.3 295.7,114.1 296.8,114.9 297.9,115.7 299,116.5 300.2,117.3 301.3,118.2 302.4,119.0 303.5,119.8 304.7,120.6 305.8,121.4 306.9,122.3 308,123.1 309.1,123.9 310.3,124.8 311.4,125.6 312.5,126.5 313.6,127.3 314.8,128.2 315.9,129.1 317,129.9 318.1,130.8 319.2,131.7 320.4,132.6 321.5,133.5 322.6,134.4 323.8,135.4 324.9,136.3 326.1,137.3 327.2,138.3 328.2,139.2 329.2,140.3 330.2,141.4 331.1,142.5 331.9,143.6 332.6,145.0 333.2,146.3 333.7,147.8 334,149.0 334.3,150.2 334.5,151.4 334.7,152.8 334.9,154.0 335,155.2 335.1,156.5 335.3,157.8 335.4,159.2 335.4,160.6 335.5,162.0 335.6,163.6 335.7,165.1 335.7,166.7 335.8,168.4 335.8,170.0 335.9,171.4 336,172.8 336.1,174.3 336.1,175.7 336.2,177.2 336.3,178.7 336.3,180.1 336.4,181.6 336.5,183.1 336.6,184.6 336.6,186.2 336.7,187.7 336.8,189.3 336.9,190.8 337,192.4 337,193.9 337.1,195.5 337.2,197.1 337.3,198.7 337.3,200.3 337.4,201.9 337.5,203.4 337.5,205.0 337.6,206.5 337.7,208.0 337.9,209.5 338,211.1 338.1,212.5 338.3,214.0 338.5,215.4 338.7,216.7 339.1,218.2 339.4,219.6 339.9,220.9 340.5,222.1 341.3,223.3 342.2,224.4 343.3,225.4 344.4,226.2 345.6,227.0 346.8,227.8 348.1,228.5 349.4,229.1 350.7,229.7 352.1,230.2 353.4,230.8 354.8,231.3 356.2,231.9 357.6,232.5 359.1,233.1" fill="none" stroke="#800080" stroke-width="1.6" stroke-linejoin="round"/>
<path d="M5.7,232.6 7.2,232.0 8.6,231.4 10,230.8 11.4,230.3 12.7,229.7 14.1,229.2 15.4,228.6 16.7,228.0 18,227.3 19.2,226.5 20.4,225.7 21.5,224.9 22.6,223.9 23.5,222.8 24.3,221.6 24.9,220.4 25.4,219.1 25.7,217.7 26.1,216.2 26.3,214.9 26.5,213.5 26.7,212.0 26.8,210.6 26.9,209.0 27.1,207.5 27.2,206.0 27.3,204.5 27.3,202.9 27.4,201.4 27.5,199.8 27.5,198.2 27.6,196.6 27.7,195.0 27.8,193.4 27.8,191.9 27.9,190.3 28,188.8 28.1,187.2 28.2,185.7 28.2,184.1 28.3,182.6 28.4,181.1 28.5,179.6 28.5,178.2 28.6,176.7 28.7,175.2 28.7,173.8 28.8,172.3 28.9,170.9 29,169.5 29,167.9 29.1,166.2 29.1,164.6 29.2,163.1 29.3,161.5 29.4,160.1 29.4,158.7 29.5,157.3 29.7,156.0 29.8,154.7 29.9,153.5 30.1,152.3 30.3,150.9 30.5,149.7 30.8,148.5 31.1,147.3 31.6,145.8 32.2,144.5 32.9,143.1 33.7,142.0 34.6,140.9 35.6,139.8 36.6,138.7 37.6,137.8 38.7,136.8 39.9,135.8 41,134.9 42.2,133.9 43.3,133.0 44.4,132.1 45.6,131.2 46.7,130.3 47.8,129.4 48.9,128.6 50,127.7 51.2,126.8 52.3,126.0 53.4,125.1 54.5,124.3 55.7,123.4 56.8,122.6 57.9,121.8 59,120.9 60.1,120.1 61.3,119.3 62.4,118.5 63.5,117.7 64.6,116.8 65.8,116.0 66.9,115.2 68,114.4 69.1,113.6 70.2,112.8 71.4,112.0 72.5,111.1 73.6,110.3 74.7,109.5 75.8,108.7 77,107.9 78.1,107.0 79.2,106.2 80.3,105.4 81.5,104.5 82.6,103.7 83.7,102.9 84.8,102.0 85.9,101.2 87.1,100.3 88.2,99.5 89.3,98.6 90.4,97.8 91.6,96.9 92.7,96.1 93.8,95.2 94.9,94.3 96,93.4 97.2,92.6 98.3,91.7 99.4,90.8 100.5,89.9 101.6,89.0 102.8,88.1 103.9,87.2 105,86.3 106.1,85.4 107.3,84.5 108.4,83.6 109.5,82.7 110.6,81.8 111.7,80.8 112.9,79.9 114,79.0 115.1,78.1 116.2,77.2 117.3,76.2 118.5,75.3 119.6,74.4 120.7,73.5 121.8,72.5 123,71.6 124.1,70.7 125.2,69.8 126.3,68.9 127.4,67.9 128.6,67.0 129.7,66.1 130.8,65.2 131.9,64.3 133,63.4 134.2,62.5 135.3,61.6 136.4,60.7 137.5,59.9 138.7,59.0 139.8,58.1 140.9,57.3 142,56.5 143.1,55.6 144.3,54.8 145.4,54.0 146.5,53.2 147.6,52.4 148.8,51.6 149.9,50.9 151,50.1 152.1,49.4 153.2,48.6 154.4,47.9 155.5,47.3 156.6,46.6 157.7,45.9 158.8,45.3 160,44.7 161.4,44.0 162.8,43.3 164.2,42.6 165.6,42.0 167,41.4 168.4,40.8 169.8,40.3 171.2,39.9 172.6,39.5 174,39.1 175.4,38.8 176.8,38.5 178.2,38.3 179.6,38.2 181,38.2 182.4,38.1 183.8,38.2 185.2,38.2 186.6,38.3 188,38.5 189.4,38.8 190.8,39.1 192.2,39.5 193.6,39.9 195,40.3 196.4,40.8 197.8,41.4 199.2,42.0 200.6,42.6 202,43.3 203.4,44.0 204.8,44.7 206,45.3 207.1,45.9 208.2,46.6 209.3,47.3 210.4,47.9 211.6,48.6 212.7,49.4 213.8,50.1 214.9,50.9 216,51.6 217.2,52.4 218.3,53.2 219.4,54.0 220.5,54.8 221.7,55.6 222.8,56.5 223.9,57.3 225,58.1 226.1,59.0 227.3,59.9 228.4,60.7 229.5,61.6 230.6,62.5 231.8,63.4 232.9,64.3 234,65.2 235.1,66.1 236.2,67.0 237.4,67.9 238.5,68.9 239.6,69.8 240.7,70.7 241.8,71.6 243,72.5 244.1,73.5 245.2,74.4 246.3,75.3 247.5,76.2 248.6,77.2 249.7,78.1 250.8,79.0 251.9,79.9 253.1,80.8 254.2,81.8 255.3,82.7 256.4,83.6 257.5,84.5 258.7,85.4 259.8,86.3 260.9,87.2 262,88.1 263.2,89.0 264.3,89.9 265.4,90.8 266.5,91.7 267.6,92.6 268.8,93.4 269.9,94.3 271,95.2 272.1,96.1 273.2,96.9 274.4,97.8 275.5,98.6 276.6,99.5 277.7,100.3 278.9,101.2 280,102.0 281.1,102.9 282.2,103.7 283.3,104.5 284.5,105.4 285.6,106.2 286.7,107.0 287.8,107.9 289,108.7 290.1,109.5 291.2,110.3 292.3,111.1 293.4,112.0 294.6,112.8 295.7,113.6 296.8,114.4 297.9,115.2 299,116.0 300.2,116.8 301.3,117.7 302.4,118.5 303.5,119.3 304.7,120.1 305.8,120.9 306.9,121.8 308,122.6 309.1,123.4 310.3,124.3 311.4,125.1 312.5,126.0 313.6,126.8 314.8,127.7 315.9,128.6 317,129.4 318.1,130.3 319.2,131.2 320.4,132.1 321.5,133.0 322.6,133.9 323.8,134.9 324.9,135.8 326.1,136.8 327.2,137.8 328.2,138.7 329.2,139.8 330.2,140.9 331.1,142.0 331.9,143.1 332.6,144.5 333.2,145.8 333.7,147.3 334,148.5 334.3,149.7 334.5,150.9 334.7,152.3 334.9,153.5 335,154.7 335.1,156.0 335.3,157.3 335.4,158.7 335.4,160.1 335.5,161.5 335.6,163.1 335.7,164.6 335.7,166.2 335.8,167.9 335.8,169.5 335.9,170.9 336,172.3 336.1,173.8 336.1,175.2 336.2,176.7 336.3,178.2 336.3,179.6 336.4,181.1 336.5,182.6 336.6,184.1 336.6,185.7 336.7,187.2 336.8,188.8 336.9,190.3 337,191.9 337,193.4 337.1,195.0 337.2,196.6 337.3,198.2 337.3,199.8 337.4,201.4 337.5,202.9 337.5,204.5 337.6,206.0 337.7,207.5 337.9,209.0 338,210.6 338.1,212.0 338.3,213.5 338.5,214.9 338.7,216.2 339.1,217.7 339.4,219.1 339.9,220.4 340.5,221.6 341.3,222.8 342.2,223.9 343.3,224.9 344.4,225.7 345.6,226.5 346.8,227.3 348.1,228.0 349.4,228.6 350.7,229.2 352.1,229.7 353.4,230.3 354.8,230.8 356.2,231.4 357.6,232.0 359.1,232.6" fill="none" stroke="#800080" stroke-width="1.2" stroke-linejoin="round" stroke-dasharray="2.5,2"/>
<text transform="translate(131.9 42.5) scale(1 1.05)" font-size="7.6" fill="#000000" stroke="#000000" stroke-width="0.05" text-anchor="start">4x4</text>
<line x1="142.1" y1="42.5" x2="168.7" y2="56.9" stroke="#000000" stroke-width="0.7"/>
<path d="M165.09,56.42 L168.7,56.9 L166.33,54.14" fill="none" stroke="#000000" stroke-width="0.8"/>
<text transform="translate(120.9 52.5) scale(1 1.05)" font-size="7.6" fill="#FF0000" stroke="#FF0000" stroke-width="0.05" text-anchor="start">6x6</text>
<line x1="132.3" y1="54.2" x2="158.2" y2="70.9" stroke="#FF0000" stroke-width="0.7"/>
<path d="M154.64,70.15 L158.2,70.9 L156.05,67.96" fill="none" stroke="#FF0000" stroke-width="0.8"/>
<text transform="translate(85.9 74.5) scale(1 1.05)" font-size="7.6" fill="#0000FF" stroke="#0000FF" stroke-width="0.05" text-anchor="start">10x10</text>
<line x1="102.9" y1="74.5" x2="143.5" y2="97.6" stroke="#0000FF" stroke-width="0.7"/>
<path d="M139.9,97.05 L143.5,97.6 L141.19,94.79" fill="none" stroke="#0000FF" stroke-width="0.8"/>
<text transform="translate(53.6 104) scale(1 1.05)" font-size="7.6" fill="#FF00FF" stroke="#FF00FF" stroke-width="0.05" text-anchor="start">20x20</text>
<line x1="67.6" y1="103.8" x2="105.8" y2="120.3" stroke="#FF00FF" stroke-width="0.7"/>
<path d="M102.16,120.15 L105.8,120.3 L103.19,117.76" fill="none" stroke="#FF00FF" stroke-width="0.8"/>
<text transform="translate(11 127.4) scale(1 1.05)" font-size="7.6" fill="#800080" stroke="#800080" stroke-width="0.05" text-anchor="start">40x40</text>
<line x1="32.1" y1="127.9" x2="43.8" y2="132.3" stroke="#800080" stroke-width="0.7"/>
<path d="M40.16,132.32 L43.8,132.3 L41.08,129.89" fill="none" stroke="#800080" stroke-width="0.8"/>
<line x1="596.25" y1="240.25" x2="596.25" y2="13.7" stroke="#000" stroke-width="1.5"/>
<line x1="596.25" y1="219.2" x2="599.5" y2="219.2" stroke="#000" stroke-width="1.2"/>
<line x1="596.25" y1="198.7" x2="601" y2="198.7" stroke="#000" stroke-width="1.2"/>
<line x1="596.25" y1="178.2" x2="599.5" y2="178.2" stroke="#000" stroke-width="1.2"/>
<line x1="596.25" y1="157.7" x2="601" y2="157.7" stroke="#000" stroke-width="1.2"/>
<line x1="596.25" y1="137.2" x2="599.5" y2="137.2" stroke="#000" stroke-width="1.2"/>
<line x1="596.25" y1="116.7" x2="601" y2="116.7" stroke="#000" stroke-width="1.2"/>
<line x1="596.25" y1="96.2" x2="599.5" y2="96.2" stroke="#000" stroke-width="1.2"/>
<line x1="596.25" y1="75.7" x2="601" y2="75.7" stroke="#000" stroke-width="1.2"/>
<line x1="596.25" y1="55.2" x2="599.5" y2="55.2" stroke="#000" stroke-width="1.2"/>
<line x1="596.25" y1="34.7" x2="601" y2="34.7" stroke="#000" stroke-width="1.2"/>
<line x1="596.25" y1="14.2" x2="599.5" y2="14.2" stroke="#000" stroke-width="1.2"/>
<text transform="translate(595.2 201.2) scale(1 1.05)" font-size="7.1" fill="#000" stroke="#000" stroke-width="0.08" text-anchor="end">20</text>
<text transform="translate(595.2 160.2) scale(1 1.05)" font-size="7.1" fill="#000" stroke="#000" stroke-width="0.08" text-anchor="end">40</text>
<text transform="translate(595.2 119.2) scale(1 1.05)" font-size="7.1" fill="#000" stroke="#000" stroke-width="0.08" text-anchor="end">60</text>
<text transform="translate(595.2 78.2) scale(1 1.05)" font-size="7.1" fill="#000" stroke="#000" stroke-width="0.08" text-anchor="end">80</text>
<text transform="translate(595.2 37.2) scale(1 1.05)" font-size="7.1" fill="#000" stroke="#000" stroke-width="0.08" text-anchor="end">100</text>
<line x1="414.25" y1="240.25" x2="778.65" y2="240.25" stroke="#000" stroke-width="1.5"/>
<line x1="450.69" y1="240.25" x2="450.69" y2="235.7" stroke="#000" stroke-width="1.2"/>
<line x1="523.57" y1="240.25" x2="523.57" y2="235.7" stroke="#000" stroke-width="1.2"/>
<line x1="669.33" y1="240.25" x2="669.33" y2="235.7" stroke="#000" stroke-width="1.2"/>
<line x1="742.21" y1="240.25" x2="742.21" y2="235.7" stroke="#000" stroke-width="1.2"/>
<line x1="414.25" y1="240.25" x2="414.25" y2="237.2" stroke="#000" stroke-width="1.2"/>
<line x1="487.13" y1="240.25" x2="487.13" y2="237.2" stroke="#000" stroke-width="1.2"/>
<line x1="560.01" y1="240.25" x2="560.01" y2="237.2" stroke="#000" stroke-width="1.2"/>
<line x1="632.89" y1="240.25" x2="632.89" y2="237.2" stroke="#000" stroke-width="1.2"/>
<line x1="705.77" y1="240.25" x2="705.77" y2="237.2" stroke="#000" stroke-width="1.2"/>
<line x1="778.65" y1="240.25" x2="778.65" y2="237.2" stroke="#000" stroke-width="1.2"/>
<text transform="translate(450.69 250.8) scale(1 1.05)" font-size="7.2" fill="#000" stroke="#000" stroke-width="0.08" text-anchor="middle">-200</text>
<text transform="translate(523.57 250.8) scale(1 1.05)" font-size="7.2" fill="#000" stroke="#000" stroke-width="0.08" text-anchor="middle">-100</text>
<text transform="translate(596.45 250.8) scale(1 1.05)" font-size="7.2" fill="#000" stroke="#000" stroke-width="0.08" text-anchor="middle">0</text>
<text transform="translate(669.33 250.8) scale(1 1.05)" font-size="7.2" fill="#000" stroke="#000" stroke-width="0.08" text-anchor="middle">100</text>
<text transform="translate(742.21 250.8) scale(1 1.05)" font-size="7.2" fill="#000" stroke="#000" stroke-width="0.08" text-anchor="middle">200</text>
<text transform="translate(595.95 7.2) scale(1 1.05)" font-size="9.1" fill="#000" stroke="#000" stroke-width="0.22" text-anchor="middle">(%)</text>
<text transform="translate(596.25 264.1) scale(1 1.05)" font-size="9.5" fill="#000" stroke="#000" stroke-width="0.22" text-anchor="middle">Crossplane(mm)</text>
<text transform="translate(418.3 23.6) scale(1 1.05)" font-size="9.25" fill="#000" stroke="#000" stroke-width="0.22" text-anchor="start">10 MV FFF</text>
<line x1="685" y1="20" x2="706.7" y2="20" stroke="#000" stroke-width="1.4" stroke-dasharray="3.6,2.8"/>
<text transform="translate(709.3 24) scale(1 1.05)" font-size="9.35" fill="#000" stroke="#000" stroke-width="0.22" text-anchor="start">Measured</text>
<line x1="685" y1="31.8" x2="706.7" y2="31.8" stroke="#000" stroke-width="1.4"/>
<text transform="translate(709.3 35.4) scale(1 1.05)" font-size="9.35" fill="#000" stroke="#000" stroke-width="0.22" text-anchor="start">Simulated</text>
<path d="M559.7,237.0 561.3,236.7 562.8,236.4 564.4,236.0 565.9,235.5 567.3,235.0 568.8,234.4 569.9,233.9 571.1,233.3 572.2,232.7 573.1,231.9 573.9,230.9 574.6,229.8 575.2,228.6 575.8,227.4 576.3,226.0 576.7,224.5 577,222.9 577.4,221.2 577.6,219.9 577.7,218.6 577.9,217.2 578,215.7 578.1,214.2 578.3,212.6 578.4,211.0 578.5,209.7 578.6,208.3 578.6,206.9 578.7,205.5 578.8,204.0 578.8,202.5 578.9,201.0 578.9,199.5 579,197.9 579.1,196.3 579.1,194.6 579.1,193.2 579.2,191.8 579.2,190.3 579.2,188.8 579.3,187.2 579.3,185.7 579.3,184.1 579.4,182.5 579.4,180.9 579.4,179.2 579.4,177.6 579.4,176.0 579.5,174.4 579.5,172.7 579.5,171.1 579.5,169.5 579.5,167.9 579.6,166.4 579.6,164.8 579.6,163.2 579.6,161.7 579.6,160.1 579.6,158.5 579.7,156.9 579.7,155.3 579.7,153.8 579.7,152.2 579.7,150.6 579.7,149.1 579.8,147.5 579.8,145.9 579.8,144.4 579.8,142.8 579.8,141.3 579.9,139.7 579.9,138.2 579.9,136.6 579.9,135.0 580,133.5 580,131.9 580,130.3 580,128.8 580.1,127.3 580.1,125.7 580.1,124.2 580.1,122.7 580.2,121.2 580.2,119.7 580.2,118.2 580.3,116.7 580.3,115.1 580.3,113.4 580.4,111.8 580.4,110.2 580.5,108.6 580.5,107.0 580.5,105.4 580.6,103.9 580.6,102.3 580.7,100.8 580.7,99.2 580.7,97.7 580.8,96.2 580.8,94.6 580.9,92.9 580.9,91.3 580.9,89.7 581,88.1 581,86.5 581.1,84.9 581.1,83.4 581.2,81.9 581.2,80.4 581.3,79.0 581.4,77.4 581.4,75.9 581.5,74.4 581.6,73.0 581.7,71.6 581.8,70.2 581.9,68.9 582,67.5 582.2,65.9 582.3,64.3 582.4,62.8 582.6,61.3 582.8,59.8 583,58.3 583.3,56.7 583.6,55.1 583.9,53.5 584.3,52.0 584.7,50.5 585.1,49.1 585.6,47.4 586.1,45.9 586.7,44.4 587.3,43.1 588,41.8 588.8,40.7 589.6,39.6 590.6,38.4 591.6,37.1 592.8,36.1 594,35.4 595.2,34.9 596.5,34.7 597.7,34.9 598.9,35.4 600.1,36.1 601.3,37.1 602.3,38.4 603.3,39.6 604.1,40.7 604.9,41.8 605.6,43.1 606.2,44.4 606.8,45.9 607.3,47.4 607.8,49.1 608.2,50.5 608.6,52.0 609,53.5 609.3,55.1 609.6,56.7 609.9,58.3 610.1,59.8 610.3,61.3 610.5,62.8 610.6,64.3 610.7,65.9 610.9,67.5 611,68.9 611.1,70.2 611.2,71.6 611.3,73.0 611.4,74.4 611.5,75.9 611.5,77.4 611.6,79.0 611.7,80.4 611.7,81.9 611.8,83.4 611.8,84.9 611.9,86.5 611.9,88.1 612,89.7 612,91.3 612,92.9 612.1,94.6 612.1,96.2 612.2,97.7 612.2,99.2 612.2,100.8 612.3,102.3 612.3,103.9 612.4,105.4 612.4,107.0 612.4,108.6 612.5,110.2 612.5,111.8 612.6,113.4 612.6,115.1 612.6,116.7 612.7,118.2 612.7,119.7 612.7,121.2 612.8,122.7 612.8,124.2 612.8,125.7 612.8,127.3 612.9,128.8 612.9,130.3 612.9,131.9 612.9,133.5 613,135.0 613,136.6 613,138.2 613,139.7 613.1,141.3 613.1,142.8 613.1,144.4 613.1,145.9 613.1,147.5 613.2,149.1 613.2,150.6 613.2,152.2 613.2,153.8 613.2,155.3 613.2,156.9 613.3,158.5 613.3,160.1 613.3,161.7 613.3,163.2 613.3,164.8 613.3,166.4 613.4,167.9 613.4,169.5 613.4,171.1 613.4,172.7 613.4,174.4 613.5,176.0 613.5,177.6 613.5,179.2 613.5,180.9 613.5,182.5 613.6,184.1 613.6,185.7 613.6,187.2 613.7,188.8 613.7,190.3 613.7,191.8 613.8,193.2 613.8,194.6 613.8,196.3 613.9,197.9 614,199.5 614,201.0 614.1,202.5 614.1,204.0 614.2,205.5 614.3,206.9 614.3,208.3 614.4,209.7 614.5,211.0 614.6,212.6 614.8,214.2 614.9,215.7 615,217.2 615.2,218.6 615.3,219.9 615.5,221.2 615.9,222.9 616.2,224.5 616.6,226.0 617.1,227.4 617.7,228.6 618.3,229.8 619,230.9 619.8,231.9 620.7,232.7 621.8,233.3 623,233.9 624.1,234.4 625.6,235.0 627,235.5 628.5,236.0 630.1,236.4 631.6,236.7 633.2,237.0" fill="none" stroke="#000000" stroke-width="1.6" stroke-linejoin="round"/>
<path d="M559.7,236.5 561.3,236.2 562.8,235.9 564.4,235.5 565.9,235.0 567.3,234.5 568.8,233.9 569.9,233.4 571.1,232.8 572.2,232.2 573.1,231.4 573.9,230.4 574.6,229.3 575.2,228.1 575.8,226.9 576.3,225.5 576.7,224.0 577,222.4 577.4,220.8 577.6,219.4 577.7,218.1 577.9,216.7 578,215.2 578.1,213.7 578.3,212.1 578.4,210.5 578.5,209.2 578.6,207.8 578.6,206.4 578.7,205.0 578.8,203.5 578.8,202.0 578.9,200.5 578.9,199.0 579,197.4 579.1,195.8 579.1,194.1 579.1,192.7 579.2,191.3 579.2,189.8 579.2,188.3 579.3,186.7 579.3,185.2 579.3,183.6 579.4,182.0 579.4,180.4 579.4,178.7 579.4,177.1 579.4,175.5 579.5,173.9 579.5,172.2 579.5,170.6 579.5,169.0 579.5,167.4 579.6,165.9 579.6,164.3 579.6,162.7 579.6,161.2 579.6,159.6 579.6,158.0 579.7,156.4 579.7,154.8 579.7,153.3 579.7,151.7 579.7,150.1 579.7,148.6 579.8,147.0 579.8,145.4 579.8,143.9 579.8,142.3 579.8,140.8 579.9,139.2 579.9,137.7 579.9,136.1 579.9,134.5 580,133.0 580,131.4 580,129.8 580,128.3 580.1,126.8 580.1,125.2 580.1,123.7 580.1,122.2 580.2,120.7 580.2,119.2 580.2,117.7 580.3,116.2 580.3,114.6 580.3,112.9 580.4,111.3 580.4,109.7 580.5,108.1 580.5,106.5 580.5,104.9 580.6,103.4 580.6,101.8 580.7,100.3 580.7,98.7 580.7,97.2 580.8,95.7 580.8,94.1 580.9,92.4 580.9,90.8 580.9,89.2 581,87.6 581,86.0 581.1,84.4 581.1,82.9 581.2,81.4 581.2,79.9 581.3,78.5 581.4,76.9 581.4,75.4 581.5,73.9 581.6,72.5 581.7,71.1 581.8,69.7 581.9,68.4 582,67.0 582.2,65.4 582.3,63.8 582.4,62.3 582.6,60.8 582.8,59.3 583,57.8 583.3,56.2 583.6,54.6 583.9,53.0 584.3,51.5 584.7,50.0 585.1,48.6 585.6,46.9 586.1,45.4 586.7,43.9 587.3,42.6 588,41.3 588.8,40.2 589.6,39.1 590.6,37.9 591.6,36.6 592.8,35.6 594,34.9 595.2,34.4 596.5,34.2 597.7,34.4 598.9,34.9 600.1,35.6 601.3,36.6 602.3,37.9 603.3,39.1 604.1,40.2 604.9,41.3 605.6,42.6 606.2,43.9 606.8,45.4 607.3,46.9 607.8,48.6 608.2,50.0 608.6,51.5 609,53.0 609.3,54.6 609.6,56.2 609.9,57.8 610.1,59.3 610.3,60.8 610.5,62.3 610.6,63.8 610.7,65.4 610.9,67.0 611,68.4 611.1,69.7 611.2,71.1 611.3,72.5 611.4,73.9 611.5,75.4 611.5,76.9 611.6,78.5 611.7,79.9 611.7,81.4 611.8,82.9 611.8,84.4 611.9,86.0 611.9,87.6 612,89.2 612,90.8 612,92.4 612.1,94.1 612.1,95.7 612.2,97.2 612.2,98.7 612.2,100.3 612.3,101.8 612.3,103.4 612.4,104.9 612.4,106.5 612.4,108.1 612.5,109.7 612.5,111.3 612.6,112.9 612.6,114.6 612.6,116.2 612.7,117.7 612.7,119.2 612.7,120.7 612.8,122.2 612.8,123.7 612.8,125.2 612.8,126.8 612.9,128.3 612.9,129.8 612.9,131.4 612.9,133.0 613,134.5 613,136.1 613,137.7 613,139.2 613.1,140.8 613.1,142.3 613.1,143.9 613.1,145.4 613.1,147.0 613.2,148.6 613.2,150.1 613.2,151.7 613.2,153.3 613.2,154.8 613.2,156.4 613.3,158.0 613.3,159.6 613.3,161.2 613.3,162.7 613.3,164.3 613.3,165.9 613.4,167.4 613.4,169.0 613.4,170.6 613.4,172.2 613.4,173.9 613.5,175.5 613.5,177.1 613.5,178.7 613.5,180.4 613.5,182.0 613.6,183.6 613.6,185.2 613.6,186.7 613.7,188.3 613.7,189.8 613.7,191.3 613.8,192.7 613.8,194.1 613.8,195.8 613.9,197.4 614,199.0 614,200.5 614.1,202.0 614.1,203.5 614.2,205.0 614.3,206.4 614.3,207.8 614.4,209.2 614.5,210.5 614.6,212.1 614.8,213.7 614.9,215.2 615,216.7 615.2,218.1 615.3,219.4 615.5,220.8 615.9,222.4 616.2,224.0 616.6,225.5 617.1,226.9 617.7,228.1 618.3,229.3 619,230.4 619.8,231.4 620.7,232.2 621.8,232.8 623,233.4 624.1,233.9 625.6,234.5 627,235.0 628.5,235.5 630.1,235.9 631.6,236.2 633.2,236.5" fill="none" stroke="#000000" stroke-width="1.2" stroke-linejoin="round" stroke-dasharray="2.5,2"/>
<path d="M539.1,238.1 540.7,237.8 542.2,237.5 543.8,237.2 545.4,236.9 546.9,236.6 548.4,236.4 549.8,236.1 551.3,235.8 552.7,235.5 554.1,235.2 555.6,234.7 557.1,234.3 558.6,233.7 560,233.1 561.4,232.6 562.8,232.0 564.1,231.3 565.2,230.5 566.1,229.4 566.9,228.2 567.6,226.8 568.2,225.3 568.6,224.0 569,222.5 569.4,221.0 569.7,219.4 569.9,217.8 570.1,216.3 570.3,214.8 570.5,213.3 570.6,211.7 570.7,210.1 570.8,208.5 570.9,206.9 571,205.4 571.1,203.9 571.2,202.4 571.3,200.9 571.4,199.4 571.5,197.8 571.5,196.2 571.6,194.6 571.7,193.2 571.7,191.8 571.7,190.3 571.8,188.9 571.8,187.4 571.9,185.9 571.9,184.4 571.9,182.9 572,181.3 572,179.8 572,178.2 572.1,176.7 572.1,175.2 572.1,173.6 572.2,172.1 572.2,170.5 572.2,168.9 572.2,167.3 572.3,165.7 572.3,164.1 572.3,162.5 572.4,160.9 572.4,159.3 572.4,157.7 572.4,156.1 572.4,154.6 572.5,153.0 572.5,151.5 572.5,149.9 572.5,148.3 572.5,146.8 572.5,145.2 572.6,143.6 572.6,142.1 572.6,140.5 572.6,138.8 572.6,137.2 572.6,135.7 572.6,134.2 572.7,132.7 572.7,131.1 572.7,129.6 572.7,128.0 572.7,126.4 572.7,124.8 572.7,123.2 572.7,121.7 572.7,120.1 572.8,118.6 572.8,117.0 572.8,115.5 572.8,114.0 572.8,112.6 572.9,111.0 572.9,109.3 572.9,107.7 572.9,106.1 573,104.6 573,103.0 573,101.5 573.1,100.0 573.1,98.5 573.2,97.0 573.2,95.6 573.3,94.2 573.3,92.6 573.4,91.0 573.5,89.5 573.5,88.0 573.6,86.5 573.7,85.1 573.8,83.6 573.9,82.2 574,80.8 574.1,79.3 574.3,77.8 574.4,76.3 574.5,74.8 574.7,73.4 574.9,72.0 575.1,70.6 575.4,69.0 575.6,67.5 575.9,66.0 576.3,64.6 576.6,63.2 577,61.8 577.4,60.3 577.9,58.8 578.4,57.4 578.8,56.1 579.3,54.8 579.9,53.3 580.5,51.9 581.2,50.5 581.9,49.2 582.6,47.9 583.3,46.6 584.1,45.4 584.7,44.3 585.4,43.3 586.1,42.3 586.8,41.3 587.7,40.2 588.7,39.1 589.6,38.1 590.6,37.2 591.7,36.3 592.8,35.6 593.9,35.1 595.2,34.8 596.5,34.7 597.7,34.8 599,35.1 600.1,35.6 601.2,36.3 602.3,37.2 603.3,38.1 604.2,39.1 605.2,40.2 606.1,41.3 606.8,42.3 607.5,43.3 608.2,44.3 608.8,45.4 609.6,46.6 610.3,47.9 611,49.2 611.7,50.5 612.4,51.9 613,53.3 613.6,54.8 614.1,56.1 614.5,57.4 615,58.8 615.5,60.3 615.9,61.8 616.3,63.2 616.6,64.6 617,66.0 617.3,67.5 617.5,69.0 617.8,70.6 618,72.0 618.2,73.4 618.4,74.8 618.5,76.3 618.6,77.8 618.8,79.3 618.9,80.8 619,82.2 619.1,83.6 619.2,85.1 619.3,86.5 619.4,88.0 619.4,89.5 619.5,91.0 619.6,92.6 619.6,94.2 619.7,95.6 619.7,97.0 619.8,98.5 619.8,100.0 619.9,101.5 619.9,103.0 619.9,104.6 620,106.1 620,107.7 620,109.3 620,111.0 620.1,112.6 620.1,114.0 620.1,115.5 620.1,117.0 620.1,118.6 620.2,120.1 620.2,121.7 620.2,123.2 620.2,124.8 620.2,126.4 620.2,128.0 620.2,129.6 620.2,131.1 620.2,132.7 620.3,134.2 620.3,135.7 620.3,137.2 620.3,138.8 620.3,140.5 620.3,142.1 620.3,143.6 620.4,145.2 620.4,146.8 620.4,148.3 620.4,149.9 620.4,151.5 620.4,153.0 620.5,154.6 620.5,156.1 620.5,157.7 620.5,159.3 620.5,160.9 620.6,162.5 620.6,164.1 620.6,165.7 620.7,167.3 620.7,168.9 620.7,170.5 620.7,172.1 620.8,173.6 620.8,175.2 620.8,176.7 620.9,178.2 620.9,179.8 620.9,181.3 621,182.9 621,184.4 621,185.9 621.1,187.4 621.1,188.9 621.2,190.3 621.2,191.8 621.2,193.2 621.3,194.6 621.4,196.2 621.4,197.8 621.5,199.4 621.6,200.9 621.7,202.4 621.8,203.9 621.9,205.4 622,206.9 622.1,208.5 622.2,210.1 622.3,211.7 622.4,213.3 622.6,214.8 622.8,216.3 623,217.8 623.2,219.4 623.5,221.0 623.9,222.5 624.3,224.0 624.7,225.3 625.3,226.8 626,228.2 626.8,229.4 627.7,230.5 628.8,231.3 630.1,232.0 631.5,232.6 632.9,233.1 634.3,233.7 635.8,234.3 637.3,234.7 638.8,235.2 640.2,235.5 641.6,235.8 643.1,236.1 644.5,236.4 646,236.6 647.5,236.9 649.1,237.2 650.7,237.5 652.2,237.8 653.8,238.1" fill="none" stroke="#FF0000" stroke-width="1.6" stroke-linejoin="round"/>
<path d="M539.1,237.6 540.7,237.3 542.2,237.0 543.8,236.7 545.4,236.4 546.9,236.1 548.4,235.9 549.8,235.6 551.3,235.3 552.7,235.0 554.1,234.7 555.6,234.2 557.1,233.8 558.6,233.2 560,232.6 561.4,232.1 562.8,231.5 564.1,230.8 565.2,230.0 566.1,228.9 566.9,227.7 567.6,226.3 568.2,224.8 568.6,223.5 569,222.0 569.4,220.5 569.7,218.9 569.9,217.3 570.1,215.8 570.3,214.3 570.5,212.8 570.6,211.2 570.7,209.6 570.8,208.0 570.9,206.4 571,204.9 571.1,203.4 571.2,201.9 571.3,200.4 571.4,198.9 571.5,197.3 571.5,195.7 571.6,194.1 571.7,192.7 571.7,191.3 571.7,189.8 571.8,188.4 571.8,186.9 571.9,185.4 571.9,183.9 571.9,182.4 572,180.8 572,179.3 572,177.7 572.1,176.2 572.1,174.7 572.1,173.1 572.2,171.6 572.2,170.0 572.2,168.4 572.2,166.8 572.3,165.2 572.3,163.6 572.3,162.0 572.4,160.4 572.4,158.8 572.4,157.2 572.4,155.6 572.4,154.1 572.5,152.5 572.5,151.0 572.5,149.4 572.5,147.8 572.5,146.3 572.5,144.7 572.6,143.1 572.6,141.6 572.6,140.0 572.6,138.3 572.6,136.7 572.6,135.2 572.6,133.7 572.7,132.2 572.7,130.6 572.7,129.1 572.7,127.5 572.7,125.9 572.7,124.3 572.7,122.7 572.7,121.2 572.7,119.6 572.8,118.1 572.8,116.5 572.8,115.0 572.8,113.5 572.8,112.1 572.9,110.5 572.9,108.8 572.9,107.2 572.9,105.6 573,104.1 573,102.5 573,101.0 573.1,99.5 573.1,98.0 573.2,96.5 573.2,95.1 573.3,93.7 573.3,92.1 573.4,90.5 573.5,89.0 573.5,87.5 573.6,86.0 573.7,84.6 573.8,83.1 573.9,81.7 574,80.3 574.1,78.8 574.3,77.3 574.4,75.8 574.5,74.3 574.7,72.9 574.9,71.5 575.1,70.1 575.4,68.5 575.6,67.0 575.9,65.5 576.3,64.1 576.6,62.7 577,61.3 577.4,59.8 577.9,58.3 578.4,56.9 578.8,55.6 579.3,54.3 579.9,52.8 580.5,51.4 581.2,50.0 581.9,48.7 582.6,47.4 583.3,46.1 584.1,44.9 584.7,43.8 585.4,42.8 586.1,41.8 586.8,40.8 587.7,39.7 588.7,38.6 589.6,37.6 590.6,36.7 591.7,35.8 592.8,35.1 593.9,34.6 595.2,34.3 596.5,34.2 597.7,34.3 599,34.6 600.1,35.1 601.2,35.8 602.3,36.7 603.3,37.6 604.2,38.6 605.2,39.7 606.1,40.8 606.8,41.8 607.5,42.8 608.2,43.8 608.8,44.9 609.6,46.1 610.3,47.4 611,48.7 611.7,50.0 612.4,51.4 613,52.8 613.6,54.3 614.1,55.6 614.5,56.9 615,58.3 615.5,59.8 615.9,61.3 616.3,62.7 616.6,64.1 617,65.5 617.3,67.0 617.5,68.5 617.8,70.1 618,71.5 618.2,72.9 618.4,74.3 618.5,75.8 618.6,77.3 618.8,78.8 618.9,80.3 619,81.7 619.1,83.1 619.2,84.6 619.3,86.0 619.4,87.5 619.4,89.0 619.5,90.5 619.6,92.1 619.6,93.7 619.7,95.1 619.7,96.5 619.8,98.0 619.8,99.5 619.9,101.0 619.9,102.5 619.9,104.1 620,105.6 620,107.2 620,108.8 620,110.5 620.1,112.1 620.1,113.5 620.1,115.0 620.1,116.5 620.1,118.1 620.2,119.6 620.2,121.2 620.2,122.7 620.2,124.3 620.2,125.9 620.2,127.5 620.2,129.1 620.2,130.6 620.2,132.2 620.3,133.7 620.3,135.2 620.3,136.7 620.3,138.3 620.3,140.0 620.3,141.6 620.3,143.1 620.4,144.7 620.4,146.3 620.4,147.8 620.4,149.4 620.4,151.0 620.4,152.5 620.5,154.1 620.5,155.6 620.5,157.2 620.5,158.8 620.5,160.4 620.6,162.0 620.6,163.6 620.6,165.2 620.7,166.8 620.7,168.4 620.7,170.0 620.7,171.6 620.8,173.1 620.8,174.7 620.8,176.2 620.9,177.7 620.9,179.3 620.9,180.8 621,182.4 621,183.9 621,185.4 621.1,186.9 621.1,188.4 621.2,189.8 621.2,191.3 621.2,192.7 621.3,194.1 621.4,195.7 621.4,197.3 621.5,198.9 621.6,200.4 621.7,201.9 621.8,203.4 621.9,204.9 622,206.4 622.1,208.0 622.2,209.6 622.3,211.2 622.4,212.8 622.6,214.3 622.8,215.8 623,217.3 623.2,218.9 623.5,220.5 623.9,222.0 624.3,223.5 624.7,224.8 625.3,226.3 626,227.7 626.8,228.9 627.7,230.0 628.8,230.8 630.1,231.5 631.5,232.1 632.9,232.6 634.3,233.2 635.8,233.8 637.3,234.2 638.8,234.7 640.2,235.0 641.6,235.3 643.1,235.6 644.5,235.9 646,236.1 647.5,236.4 649.1,236.7 650.7,237.0 652.2,237.3 653.8,237.6" fill="none" stroke="#FF0000" stroke-width="1.2" stroke-linejoin="round" stroke-dasharray="2.5,2"/>
<path d="M523.8,236.4 525.2,236.2 526.6,236.0 528,235.7 529.4,235.5 530.9,235.2 532.3,234.8 533.9,234.5 535.5,234.0 537,233.6 538.5,233.2 539.9,232.7 541.4,232.3 542.8,231.8 544.2,231.3 545.4,230.7 546.5,230.0 547.6,229.2 548.6,228.4 549.4,227.4 550.2,226.3 550.8,225.2 551.4,223.9 551.9,222.6 552.4,221.2 552.8,219.8 553.1,218.3 553.3,216.7 553.6,215.1 553.8,213.5 554,212.0 554.2,210.6 554.4,209.1 554.6,207.6 554.7,206.0 554.9,204.4 555.1,202.8 555.2,201.3 555.3,199.8 555.4,198.3 555.5,196.7 555.6,195.1 555.7,193.5 555.8,191.9 555.9,190.2 555.9,188.4 556,187.0 556,185.5 556.1,184.0 556.1,182.4 556.2,180.8 556.2,179.2 556.2,177.6 556.3,176.0 556.3,174.4 556.3,172.8 556.4,171.1 556.4,169.5 556.4,167.9 556.5,166.4 556.5,164.8 556.5,163.2 556.6,161.6 556.6,160.1 556.6,158.5 556.6,156.9 556.7,155.3 556.7,153.8 556.7,152.2 556.8,150.6 556.8,149.0 556.8,147.4 556.8,145.9 556.9,144.3 556.9,142.7 556.9,141.1 556.9,139.5 556.9,137.9 557,136.3 557,134.7 557,133.2 557,131.6 557,130.0 557.1,128.5 557.1,127.0 557.1,125.4 557.1,123.9 557.2,122.3 557.2,120.8 557.2,119.2 557.2,117.7 557.3,116.2 557.3,114.7 557.3,113.3 557.4,111.9 557.4,110.5 557.5,109.1 557.5,107.5 557.6,105.9 557.7,104.4 557.8,102.9 557.9,101.5 558,100.0 558.1,98.6 558.3,97.2 558.4,95.6 558.6,94.0 558.8,92.5 559,90.9 559.3,89.4 559.6,88.0 559.9,86.5 560.3,85.1 560.7,83.6 561.1,82.2 561.6,80.8 562.1,79.4 562.7,77.9 563.2,76.5 563.8,75.0 564.4,73.7 564.9,72.4 565.5,71.3 566,70.1 566.6,68.9 567.2,67.7 567.9,66.4 568.6,65.1 569.4,63.8 570.2,62.5 570.9,61.2 571.7,59.9 572.5,58.6 573.2,57.4 574,56.2 574.8,55.0 575.6,53.8 576.4,52.6 577.2,51.3 578,50.1 578.8,49.0 579.7,47.8 580.5,46.7 581.4,45.7 582.2,44.7 583.1,43.7 584,42.7 585.1,41.5 586.2,40.4 587.3,39.4 588.4,38.4 589.5,37.6 590.6,36.8 591.7,36.1 592.8,35.5 594,35.1 595.2,34.8 596.5,34.7 597.7,34.8 598.9,35.1 600.1,35.5 601.2,36.1 602.3,36.8 603.4,37.6 604.5,38.4 605.6,39.4 606.7,40.4 607.8,41.5 608.9,42.7 609.8,43.7 610.7,44.7 611.5,45.7 612.4,46.7 613.2,47.8 614.1,49.0 614.9,50.1 615.7,51.3 616.5,52.6 617.3,53.8 618.1,55.0 618.9,56.2 619.7,57.4 620.4,58.6 621.2,59.9 622,61.2 622.7,62.5 623.5,63.8 624.3,65.1 625,66.4 625.7,67.7 626.3,68.9 626.9,70.1 627.4,71.3 628,72.4 628.5,73.7 629.1,75.0 629.7,76.5 630.2,77.9 630.8,79.4 631.3,80.8 631.8,82.2 632.2,83.6 632.6,85.1 633,86.5 633.3,88.0 633.6,89.4 633.9,90.9 634.1,92.5 634.3,94.0 634.5,95.6 634.6,97.2 634.8,98.6 634.9,100.0 635,101.5 635.1,102.9 635.2,104.4 635.3,105.9 635.4,107.5 635.4,109.1 635.5,110.5 635.5,111.9 635.6,113.3 635.6,114.7 635.6,116.2 635.7,117.7 635.7,119.2 635.7,120.8 635.7,122.3 635.8,123.9 635.8,125.4 635.8,127.0 635.8,128.5 635.9,130.0 635.9,131.6 635.9,133.2 635.9,134.7 635.9,136.3 636,137.9 636,139.5 636,141.1 636,142.7 636,144.3 636.1,145.9 636.1,147.4 636.1,149.0 636.1,150.6 636.2,152.2 636.2,153.8 636.2,155.3 636.3,156.9 636.3,158.5 636.3,160.1 636.3,161.6 636.4,163.2 636.4,164.8 636.4,166.4 636.5,167.9 636.5,169.5 636.5,171.1 636.6,172.8 636.6,174.4 636.6,176.0 636.7,177.6 636.7,179.2 636.7,180.8 636.8,182.4 636.8,184.0 636.9,185.5 636.9,187.0 637,188.4 637,190.2 637.1,191.9 637.2,193.5 637.3,195.1 637.4,196.7 637.5,198.3 637.6,199.8 637.7,201.3 637.8,202.8 638,204.4 638.2,206.0 638.3,207.6 638.5,209.1 638.7,210.6 638.9,212.0 639.1,213.5 639.3,215.1 639.6,216.7 639.8,218.3 640.1,219.8 640.5,221.2 641,222.6 641.5,223.9 642.1,225.2 642.7,226.3 643.5,227.4 644.3,228.4 645.3,229.2 646.4,230.0 647.5,230.7 648.7,231.3 650.1,231.8 651.5,232.3 653,232.7 654.4,233.2 655.9,233.6 657.4,234.0 659,234.5 660.6,234.8 662,235.2 663.5,235.5 664.9,235.7 666.3,236.0 667.7,236.2 669.1,236.4" fill="none" stroke="#0000FF" stroke-width="1.6" stroke-linejoin="round"/>
<path d="M523.8,235.9 525.2,235.7 526.6,235.5 528,235.2 529.4,235.0 530.9,234.7 532.3,234.3 533.9,234.0 535.5,233.5 537,233.1 538.5,232.7 539.9,232.2 541.4,231.8 542.8,231.3 544.2,230.8 545.4,230.2 546.5,229.5 547.6,228.7 548.6,227.9 549.4,226.9 550.2,225.8 550.8,224.7 551.4,223.4 551.9,222.1 552.4,220.8 552.8,219.3 553.1,217.8 553.3,216.2 553.6,214.6 553.8,213.0 554,211.5 554.2,210.1 554.4,208.6 554.6,207.1 554.7,205.5 554.9,203.9 555.1,202.3 555.2,200.8 555.3,199.3 555.4,197.8 555.5,196.2 555.6,194.6 555.7,193.0 555.8,191.4 555.9,189.7 555.9,187.9 556,186.5 556,185.0 556.1,183.5 556.1,181.9 556.2,180.3 556.2,178.7 556.2,177.1 556.3,175.5 556.3,173.9 556.3,172.3 556.4,170.6 556.4,169.0 556.4,167.4 556.5,165.9 556.5,164.3 556.5,162.7 556.6,161.1 556.6,159.6 556.6,158.0 556.6,156.4 556.7,154.8 556.7,153.3 556.7,151.7 556.8,150.1 556.8,148.5 556.8,146.9 556.8,145.4 556.9,143.8 556.9,142.2 556.9,140.6 556.9,139.0 556.9,137.4 557,135.8 557,134.2 557,132.7 557,131.1 557,129.5 557.1,128.0 557.1,126.5 557.1,124.9 557.1,123.4 557.2,121.8 557.2,120.3 557.2,118.7 557.2,117.2 557.3,115.7 557.3,114.2 557.3,112.8 557.4,111.4 557.4,110.0 557.5,108.6 557.5,107.0 557.6,105.4 557.7,103.9 557.8,102.4 557.9,101.0 558,99.5 558.1,98.1 558.3,96.7 558.4,95.1 558.6,93.5 558.8,92.0 559,90.4 559.3,88.9 559.6,87.5 559.9,86.0 560.3,84.6 560.7,83.1 561.1,81.7 561.6,80.3 562.1,78.9 562.7,77.4 563.2,76.0 563.8,74.5 564.4,73.2 564.9,71.9 565.5,70.8 566,69.6 566.6,68.4 567.2,67.2 567.9,65.9 568.6,64.6 569.4,63.3 570.2,62.0 570.9,60.7 571.7,59.4 572.5,58.1 573.2,56.9 574,55.7 574.8,54.5 575.6,53.3 576.4,52.1 577.2,50.8 578,49.6 578.8,48.5 579.7,47.3 580.5,46.2 581.4,45.2 582.2,44.2 583.1,43.2 584,42.2 585.1,41.0 586.2,39.9 587.3,38.9 588.4,37.9 589.5,37.1 590.6,36.3 591.7,35.6 592.8,35.0 594,34.6 595.2,34.3 596.5,34.2 597.7,34.3 598.9,34.6 600.1,35.0 601.2,35.6 602.3,36.3 603.4,37.1 604.5,37.9 605.6,38.9 606.7,39.9 607.8,41.0 608.9,42.2 609.8,43.2 610.7,44.2 611.5,45.2 612.4,46.2 613.2,47.3 614.1,48.5 614.9,49.6 615.7,50.8 616.5,52.1 617.3,53.3 618.1,54.5 618.9,55.7 619.7,56.9 620.4,58.1 621.2,59.4 622,60.7 622.7,62.0 623.5,63.3 624.3,64.6 625,65.9 625.7,67.2 626.3,68.4 626.9,69.6 627.4,70.8 628,71.9 628.5,73.2 629.1,74.5 629.7,76.0 630.2,77.4 630.8,78.9 631.3,80.3 631.8,81.7 632.2,83.1 632.6,84.6 633,86.0 633.3,87.5 633.6,88.9 633.9,90.4 634.1,92.0 634.3,93.5 634.5,95.1 634.6,96.7 634.8,98.1 634.9,99.5 635,101.0 635.1,102.4 635.2,103.9 635.3,105.4 635.4,107.0 635.4,108.6 635.5,110.0 635.5,111.4 635.6,112.8 635.6,114.2 635.6,115.7 635.7,117.2 635.7,118.7 635.7,120.3 635.7,121.8 635.8,123.4 635.8,124.9 635.8,126.5 635.8,128.0 635.9,129.5 635.9,131.1 635.9,132.7 635.9,134.2 635.9,135.8 636,137.4 636,139.0 636,140.6 636,142.2 636,143.8 636.1,145.4 636.1,146.9 636.1,148.5 636.1,150.1 636.2,151.7 636.2,153.3 636.2,154.8 636.3,156.4 636.3,158.0 636.3,159.6 636.3,161.1 636.4,162.7 636.4,164.3 636.4,165.9 636.5,167.4 636.5,169.0 636.5,170.6 636.6,172.3 636.6,173.9 636.6,175.5 636.7,177.1 636.7,178.7 636.7,180.3 636.8,181.9 636.8,183.5 636.9,185.0 636.9,186.5 637,187.9 637,189.7 637.1,191.4 637.2,193.0 637.3,194.6 637.4,196.2 637.5,197.8 637.6,199.3 637.7,200.8 637.8,202.3 638,203.9 638.2,205.5 638.3,207.1 638.5,208.6 638.7,210.1 638.9,211.5 639.1,213.0 639.3,214.6 639.6,216.2 639.8,217.8 640.1,219.3 640.5,220.8 641,222.1 641.5,223.4 642.1,224.7 642.7,225.8 643.5,226.9 644.3,227.9 645.3,228.7 646.4,229.5 647.5,230.2 648.7,230.8 650.1,231.3 651.5,231.8 653,232.2 654.4,232.7 655.9,233.1 657.4,233.5 659,234.0 660.6,234.3 662,234.7 663.5,235.0 664.9,235.2 666.3,235.5 667.7,235.7 669.1,235.9" fill="none" stroke="#0000FF" stroke-width="1.2" stroke-linejoin="round" stroke-dasharray="2.5,2"/>
<path d="M493.4,232.7 494.6,232.4 495.8,232.0 496.9,231.7 498.1,231.3 499.4,230.8 500.7,230.3 502.1,229.7 503.3,229.1 504.5,228.5 505.7,227.9 506.8,227.2 508,226.3 509.1,225.3 510.1,224.1 510.7,223.1 511.2,222.0 511.7,220.8 512.1,219.5 512.5,218.2 512.8,216.9 513.1,215.7 513.3,214.3 513.5,213.0 513.7,211.5 513.9,210.0 514.1,208.6 514.3,207.2 514.5,205.7 514.6,204.2 514.8,202.6 514.9,201.0 515,199.4 515.2,197.8 515.3,196.2 515.4,194.6 515.5,193.1 515.6,191.6 515.7,190.1 515.8,188.6 515.9,187.1 515.9,185.5 516,184.0 516.1,182.5 516.2,181.0 516.2,179.6 516.3,178.2 516.4,176.6 516.4,175.0 516.5,173.5 516.6,172.1 516.6,170.6 516.7,169.1 516.7,167.5 516.8,165.9 516.8,164.5 516.9,163.0 516.9,161.5 517,160.0 517,158.5 517.1,156.9 517.1,155.4 517.2,153.9 517.2,152.4 517.3,150.9 517.3,149.5 517.3,147.9 517.4,146.2 517.4,144.6 517.4,143.0 517.4,141.5 517.5,140.0 517.5,138.6 517.6,137.2 517.7,135.6 517.8,134.2 518,132.8 518.1,131.4 518.3,130.0 518.6,128.4 518.9,126.9 519.2,125.4 519.6,123.9 519.9,122.5 520.4,121.2 520.8,120.0 521.4,118.8 522,117.6 522.7,116.4 523.5,115.3 524.3,114.0 525.1,112.9 525.9,111.8 526.8,110.6 527.7,109.4 528.6,108.3 529.4,107.3 530.3,106.2 531.2,105.2 532.1,104.2 533,103.2 534,102.1 535,100.9 536,99.7 537,98.6 538,97.4 538.9,96.4 539.8,95.4 540.7,94.4 541.6,93.4 542.5,92.3 543.5,91.1 544.6,90.0 545.6,88.8 546.6,87.6 547.6,86.4 548.5,85.2 549.4,84.1 550.3,82.9 551.1,81.8 552,80.6 552.9,79.4 553.8,78.3 554.7,77.1 555.5,75.9 556.4,74.7 557.1,73.5 557.8,72.4 558.5,71.2 559.2,70.0 560,68.7 560.8,67.6 561.6,66.5 562.5,65.3 563.5,64.1 564.4,62.9 565.4,61.7 566.4,60.5 567.3,59.3 568.2,58.2 569.2,57.0 570.1,55.8 571.1,54.6 572,53.5 572.9,52.4 573.8,51.4 574.6,50.5 575.6,49.4 576.5,48.4 577.3,47.5 578.2,46.6 579.1,45.7 580,44.9 580.9,44.0 581.9,43.1 583,42.2 584.2,41.2 585.5,40.2 586.8,39.2 588,38.3 589.2,37.6 590.4,36.7 591.6,36.1 592.8,35.5 594,35.1 595.2,34.8 596.5,34.7 597.7,34.8 598.9,35.1 600.1,35.5 601.3,36.1 602.5,36.7 603.7,37.6 604.9,38.3 606.1,39.2 607.4,40.2 608.7,41.2 609.9,42.2 611,43.1 612,44.0 612.9,44.9 613.8,45.7 614.7,46.6 615.6,47.5 616.4,48.4 617.3,49.4 618.3,50.5 619.1,51.4 620,52.4 620.9,53.5 621.8,54.6 622.8,55.8 623.7,57.0 624.7,58.2 625.6,59.3 626.5,60.5 627.5,61.7 628.5,62.9 629.4,64.1 630.4,65.3 631.3,66.5 632.1,67.6 632.9,68.7 633.7,70.0 634.4,71.2 635.1,72.4 635.8,73.5 636.5,74.7 637.4,75.9 638.2,77.1 639.1,78.3 640,79.4 640.9,80.6 641.8,81.8 642.6,82.9 643.5,84.1 644.4,85.2 645.3,86.4 646.3,87.6 647.3,88.8 648.3,90.0 649.4,91.1 650.4,92.3 651.3,93.4 652.2,94.4 653.1,95.4 654,96.4 654.9,97.4 655.9,98.6 656.9,99.7 657.9,100.9 658.9,102.1 659.9,103.2 660.8,104.2 661.7,105.2 662.6,106.2 663.5,107.3 664.3,108.3 665.2,109.4 666.1,110.6 667,111.8 667.8,112.9 668.6,114.0 669.4,115.3 670.2,116.4 670.9,117.6 671.5,118.7 672.1,120.0 672.5,121.2 673,122.5 673.3,123.9 673.7,125.4 674,126.9 674.3,128.4 674.6,130.0 674.8,131.4 674.9,132.8 675.1,134.2 675.2,135.6 675.3,137.2 675.4,138.6 675.4,140.0 675.5,141.5 675.5,143.0 675.5,144.6 675.5,146.2 675.6,147.9 675.6,149.5 675.6,150.9 675.7,152.4 675.7,153.9 675.8,155.4 675.8,156.9 675.9,158.5 675.9,160.0 676,161.5 676,163.0 676.1,164.5 676.1,165.9 676.2,167.5 676.2,169.1 676.3,170.6 676.3,172.1 676.4,173.5 676.5,175.0 676.5,176.6 676.6,178.2 676.7,179.6 676.7,181.0 676.8,182.5 676.9,184.0 677,185.5 677,187.1 677.1,188.6 677.2,190.1 677.3,191.6 677.4,193.1 677.5,194.6 677.6,196.2 677.7,197.8 677.9,199.4 678,201.0 678.1,202.6 678.3,204.2 678.4,205.7 678.6,207.2 678.8,208.6 679,210.0 679.2,211.5 679.4,213.0 679.6,214.3 679.8,215.7 680.1,216.9 680.4,218.2 680.8,219.5 681.2,220.8 681.7,222.0 682.2,223.1 682.8,224.1 683.8,225.3 684.9,226.3 686.1,227.2 687.2,227.9 688.4,228.5 689.6,229.1 690.8,229.7 692.2,230.3 693.5,230.8 694.8,231.3 696,231.7 697.1,232.0 698.3,232.4 699.5,232.7" fill="none" stroke="#FF00FF" stroke-width="1.6" stroke-linejoin="round"/>
<path d="M493.4,232.2 494.6,231.9 495.8,231.5 496.9,231.2 498.1,230.8 499.4,230.3 500.7,229.8 502.1,229.2 503.3,228.6 504.5,228.0 505.7,227.4 506.8,226.7 508,225.8 509.1,224.8 510.1,223.6 510.7,222.6 511.2,221.5 511.7,220.3 512.1,219.0 512.5,217.7 512.8,216.4 513.1,215.2 513.3,213.8 513.5,212.5 513.7,211.0 513.9,209.5 514.1,208.1 514.3,206.7 514.5,205.2 514.6,203.7 514.8,202.1 514.9,200.5 515,198.9 515.2,197.3 515.3,195.7 515.4,194.1 515.5,192.6 515.6,191.1 515.7,189.6 515.8,188.1 515.9,186.6 515.9,185.0 516,183.5 516.1,182.0 516.2,180.5 516.2,179.1 516.3,177.7 516.4,176.1 516.4,174.5 516.5,173.0 516.6,171.6 516.6,170.1 516.7,168.6 516.7,167.0 516.8,165.4 516.8,164.0 516.9,162.5 516.9,161.0 517,159.5 517,158.0 517.1,156.4 517.1,154.9 517.2,153.4 517.2,151.9 517.3,150.4 517.3,149.0 517.3,147.4 517.4,145.7 517.4,144.1 517.4,142.5 517.4,141.0 517.5,139.5 517.5,138.1 517.6,136.7 517.7,135.1 517.8,133.7 518,132.3 518.1,130.9 518.3,129.5 518.6,127.9 518.9,126.4 519.2,124.9 519.6,123.4 519.9,122.0 520.4,120.7 520.8,119.5 521.4,118.2 522,117.1 522.7,115.9 523.5,114.8 524.3,113.5 525.1,112.4 525.9,111.3 526.8,110.1 527.7,108.9 528.6,107.8 529.4,106.8 530.3,105.7 531.2,104.7 532.1,103.7 533,102.7 534,101.6 535,100.4 536,99.2 537,98.1 538,96.9 538.9,95.9 539.8,94.9 540.7,93.9 541.6,92.9 542.5,91.8 543.5,90.6 544.6,89.5 545.6,88.3 546.6,87.1 547.6,85.9 548.5,84.7 549.4,83.6 550.3,82.4 551.1,81.3 552,80.1 552.9,78.9 553.8,77.8 554.7,76.6 555.5,75.4 556.4,74.2 557.1,73.0 557.8,71.9 558.5,70.7 559.2,69.5 560,68.2 560.8,67.1 561.6,66.0 562.5,64.8 563.5,63.6 564.4,62.4 565.4,61.2 566.4,60.0 567.3,58.8 568.2,57.7 569.2,56.5 570.1,55.3 571.1,54.1 572,53.0 572.9,51.9 573.8,50.9 574.6,50.0 575.6,48.9 576.5,47.9 577.3,47.0 578.2,46.1 579.1,45.2 580,44.4 580.9,43.5 581.9,42.6 583,41.7 584.2,40.7 585.5,39.7 586.8,38.7 588,37.8 589.2,37.1 590.4,36.2 591.6,35.6 592.8,35.0 594,34.6 595.2,34.3 596.5,34.2 597.7,34.3 598.9,34.6 600.1,35.0 601.3,35.6 602.5,36.2 603.7,37.1 604.9,37.8 606.1,38.7 607.4,39.7 608.7,40.7 609.9,41.7 611,42.6 612,43.5 612.9,44.4 613.8,45.2 614.7,46.1 615.6,47.0 616.4,47.9 617.3,48.9 618.3,50.0 619.1,50.9 620,51.9 620.9,53.0 621.8,54.1 622.8,55.3 623.7,56.5 624.7,57.7 625.6,58.8 626.5,60.0 627.5,61.2 628.5,62.4 629.4,63.6 630.4,64.8 631.3,66.0 632.1,67.1 632.9,68.2 633.7,69.5 634.4,70.7 635.1,71.9 635.8,73.0 636.5,74.2 637.4,75.4 638.2,76.6 639.1,77.8 640,78.9 640.9,80.1 641.8,81.3 642.6,82.4 643.5,83.6 644.4,84.7 645.3,85.9 646.3,87.1 647.3,88.3 648.3,89.5 649.4,90.6 650.4,91.8 651.3,92.9 652.2,93.9 653.1,94.9 654,95.9 654.9,96.9 655.9,98.1 656.9,99.2 657.9,100.4 658.9,101.6 659.9,102.7 660.8,103.7 661.7,104.7 662.6,105.7 663.5,106.8 664.3,107.8 665.2,108.9 666.1,110.1 667,111.3 667.8,112.4 668.6,113.5 669.4,114.8 670.2,115.9 670.9,117.1 671.5,118.2 672.1,119.5 672.5,120.7 673,122.0 673.3,123.4 673.7,124.9 674,126.4 674.3,127.9 674.6,129.5 674.8,130.9 674.9,132.3 675.1,133.7 675.2,135.1 675.3,136.7 675.4,138.1 675.4,139.5 675.5,141.0 675.5,142.5 675.5,144.1 675.5,145.7 675.6,147.4 675.6,149.0 675.6,150.4 675.7,151.9 675.7,153.4 675.8,154.9 675.8,156.4 675.9,158.0 675.9,159.5 676,161.0 676,162.5 676.1,164.0 676.1,165.4 676.2,167.0 676.2,168.6 676.3,170.1 676.3,171.6 676.4,173.0 676.5,174.5 676.5,176.1 676.6,177.7 676.7,179.1 676.7,180.5 676.8,182.0 676.9,183.5 677,185.0 677,186.6 677.1,188.1 677.2,189.6 677.3,191.1 677.4,192.6 677.5,194.1 677.6,195.7 677.7,197.3 677.9,198.9 678,200.5 678.1,202.1 678.3,203.7 678.4,205.2 678.6,206.7 678.8,208.1 679,209.5 679.2,211.0 679.4,212.5 679.6,213.8 679.8,215.2 680.1,216.4 680.4,217.7 680.8,219.0 681.2,220.3 681.7,221.5 682.2,222.6 682.8,223.6 683.8,224.8 684.9,225.8 686.1,226.7 687.2,227.4 688.4,228.0 689.6,228.6 690.8,229.2 692.2,229.8 693.5,230.3 694.8,230.8 696,231.2 697.1,231.5 698.3,231.9 699.5,232.2" fill="none" stroke="#FF00FF" stroke-width="1.2" stroke-linejoin="round" stroke-dasharray="2.5,2"/>
<path d="M414,233.8 415.4,233.3 416.9,232.9 418.3,232.4 419.7,232.0 421,231.5 422.5,231.0 424,230.5 425.4,230.0 426.6,229.4 427.8,228.9 428.8,228.4 429.8,227.8 430.9,227.0 432,226.0 432.8,224.9 433.4,223.9 433.8,222.8 434.2,221.6 434.5,220.2 434.8,219.0 435,217.7 435.1,216.3 435.3,214.9 435.4,213.4 435.5,211.9 435.7,210.4 435.8,209.0 435.9,207.5 436,206.1 436.1,204.6 436.2,203.1 436.3,201.7 436.4,200.2 436.6,198.7 436.7,197.2 436.8,195.6 436.8,194.1 436.9,192.5 437,190.9 437.1,189.4 437.2,187.9 437.4,186.4 437.5,184.9 437.6,183.3 437.7,181.8 437.9,180.3 438,178.9 438.2,177.5 438.4,176.1 438.6,174.7 438.9,173.3 439.2,172.0 439.5,170.8 439.9,169.6 440.4,168.4 441,167.2 441.6,166.1 442.3,165.1 443.2,164.0 444.2,163.1 445.3,162.1 446.3,161.2 447.4,160.3 448.4,159.4 449.5,158.6 450.7,157.7 451.8,156.9 453,156.1 454.2,155.3 455.5,154.4 456.7,153.6 458,152.8 459.2,152.0 460.4,151.3 461.6,150.5 462.8,149.8 464.1,149.0 465.3,148.3 466.5,147.5 467.7,146.8 468.9,146.0 470.1,145.3 471.3,144.5 472.6,143.8 473.8,143.0 475,142.3 476.2,141.6 477.4,140.9 478.6,140.2 479.8,139.5 481.1,138.7 482.3,137.9 483.5,137.1 484.7,136.4 485.9,135.5 487.1,134.7 488.4,133.9 489.6,133.1 490.8,132.2 492,131.3 493.2,130.5 494.4,129.6 495.6,128.8 496.9,127.9 498.1,127.1 499.3,126.2 500.5,125.4 501.7,124.5 502.9,123.6 504.1,122.7 505.4,121.8 506.6,120.8 507.8,119.9 509,119.0 510.2,118.0 511.4,117.0 512.6,116.0 513.9,115.0 515.1,114.0 516.3,113.0 517.5,112.0 518.7,111.0 519.9,110.1 521.2,109.1 522.4,108.1 523.6,107.1 524.6,106.2 525.7,105.2 526.7,104.3 527.8,103.4 528.8,102.4 529.8,101.5 530.9,100.5 531.9,99.5 533,98.5 534,97.5 535,96.5 536.1,95.4 537.1,94.4 538.1,93.3 539.2,92.2 540.2,91.2 541.3,90.0 542.3,88.9 543.4,87.8 544.4,86.7 545.4,85.5 546.5,84.4 547.5,83.2 548.6,82.0 549.6,80.8 550.7,79.6 551.7,78.4 552.7,77.1 553.6,76.0 554.6,74.9 555.5,73.7 556.4,72.6 557.3,71.4 558.2,70.2 559.1,69.1 560,67.9 560.9,66.8 561.8,65.6 562.7,64.4 563.6,63.3 564.6,62.1 565.5,61.0 566.4,59.8 567.3,58.7 568.2,57.5 569.2,56.4 570.1,55.2 571.1,54.0 572,52.9 572.9,51.8 573.8,50.8 574.6,49.9 575.6,48.8 576.5,47.8 577.3,46.9 578.2,46.0 579.1,45.1 580,44.3 580.9,43.5 581.9,42.7 583,41.8 584.2,40.9 585.5,39.9 586.8,39.0 588,38.1 589.2,37.4 590.4,36.5 591.6,35.8 592.8,35.3 594,35.0 595.2,34.8 596.5,34.7 597.7,34.8 598.9,35.0 600.1,35.3 601.3,35.8 602.5,36.5 603.7,37.4 604.9,38.1 606.1,39.0 607.4,39.9 608.7,40.9 609.9,41.8 611,42.7 612,43.5 612.9,44.3 613.8,45.1 614.7,46.0 615.6,46.9 616.4,47.8 617.3,48.8 618.3,49.9 619.1,50.8 620,51.8 620.9,52.9 621.8,54.0 622.8,55.2 623.7,56.4 624.7,57.5 625.6,58.7 626.5,59.8 627.4,61.0 628.3,62.1 629.3,63.3 630.2,64.4 631.1,65.6 632,66.8 632.9,67.9 633.8,69.1 634.7,70.2 635.6,71.4 636.5,72.6 637.4,73.7 638.3,74.9 639.3,76.0 640.2,77.1 641.2,78.4 642.2,79.6 643.3,80.8 644.3,82.0 645.4,83.2 646.4,84.4 647.5,85.5 648.5,86.7 649.5,87.8 650.6,88.9 651.6,90.0 652.7,91.2 653.7,92.2 654.8,93.3 655.8,94.4 656.8,95.4 657.9,96.5 658.9,97.5 659.9,98.5 661,99.5 662,100.5 663.1,101.5 664.1,102.4 665.1,103.4 666.2,104.3 667.2,105.2 668.3,106.2 669.3,107.1 670.5,108.1 671.7,109.1 673,110.1 674.2,111.0 675.4,112.0 676.6,113.0 677.8,114.0 679,115.0 680.3,116.0 681.5,117.0 682.7,118.0 683.9,119.0 685.1,119.9 686.3,120.8 687.5,121.8 688.8,122.7 690,123.6 691.2,124.5 692.4,125.4 693.6,126.2 694.8,127.1 696,127.9 697.3,128.8 698.5,129.6 699.7,130.5 700.9,131.3 702.1,132.2 703.3,133.1 704.5,133.9 705.8,134.7 707,135.5 708.2,136.4 709.4,137.1 710.6,137.9 711.8,138.7 713.1,139.5 714.3,140.2 715.5,140.9 716.7,141.6 717.9,142.3 719.1,143.0 720.3,143.8 721.6,144.5 722.8,145.3 724,146.0 725.2,146.8 726.4,147.5 727.6,148.3 728.8,149.0 730.1,149.8 731.3,150.5 732.5,151.3 733.7,152.0 734.9,152.8 736.2,153.6 737.4,154.4 738.7,155.3 739.9,156.1 741.1,156.9 742.2,157.7 743.4,158.6 744.5,159.4 745.5,160.3 746.6,161.2 747.6,162.1 748.7,163.1 749.7,164.0 750.6,165.1 751.3,166.1 751.9,167.2 752.5,168.4 753,169.6 753.4,170.8 753.7,172.0 754,173.3 754.3,174.7 754.5,176.1 754.7,177.5 754.9,178.9 755,180.3 755.2,181.8 755.3,183.3 755.4,184.9 755.5,186.4 755.7,187.9 755.8,189.4 755.9,190.9 756,192.5 756.1,194.1 756.1,195.6 756.2,197.2 756.3,198.7 756.5,200.2 756.6,201.7 756.7,203.1 756.8,204.6 756.9,206.1 757,207.5 757.1,209.0 757.2,210.4 757.4,211.9 757.5,213.4 757.6,214.9 757.8,216.3 757.9,217.7 758.1,219.0 758.4,220.2 758.7,221.6 759.1,222.8 759.5,223.9 760.1,224.9 760.9,226.0 762,227.0 763.1,227.8 764.1,228.4 765.1,228.9 766.3,229.4 767.5,230.0 768.9,230.5 770.4,231.0 771.9,231.5 773.2,232.0 774.6,232.4 776,232.9 777.5,233.3 778.9,233.8" fill="none" stroke="#800080" stroke-width="1.6" stroke-linejoin="round"/>
<path d="M414,233.3 415.4,232.8 416.9,232.4 418.3,231.9 419.7,231.5 421,231.0 422.5,230.5 424,230.0 425.4,229.5 426.6,228.9 427.8,228.4 428.8,227.9 429.8,227.3 430.9,226.5 432,225.5 432.8,224.4 433.4,223.4 433.8,222.3 434.2,221.1 434.5,219.7 434.8,218.5 435,217.2 435.1,215.8 435.3,214.4 435.4,212.9 435.5,211.4 435.7,209.9 435.8,208.5 435.9,207.0 436,205.6 436.1,204.1 436.2,202.6 436.3,201.2 436.4,199.7 436.6,198.2 436.7,196.7 436.8,195.1 436.8,193.6 436.9,192.0 437,190.4 437.1,188.9 437.2,187.4 437.4,185.9 437.5,184.4 437.6,182.8 437.7,181.3 437.9,179.8 438,178.4 438.2,177.0 438.4,175.6 438.6,174.2 438.9,172.8 439.2,171.5 439.5,170.3 439.9,169.1 440.4,167.9 441,166.7 441.6,165.6 442.3,164.6 443.2,163.5 444.2,162.6 445.3,161.6 446.3,160.7 447.4,159.8 448.4,158.9 449.5,158.1 450.7,157.2 451.8,156.4 453,155.6 454.2,154.8 455.5,153.9 456.7,153.1 458,152.3 459.2,151.5 460.4,150.8 461.6,150.0 462.8,149.3 464.1,148.5 465.3,147.8 466.5,147.0 467.7,146.3 468.9,145.5 470.1,144.8 471.3,144.0 472.6,143.3 473.8,142.5 475,141.8 476.2,141.1 477.4,140.4 478.6,139.7 479.8,139.0 481.1,138.2 482.3,137.4 483.5,136.6 484.7,135.9 485.9,135.0 487.1,134.2 488.4,133.4 489.6,132.6 490.8,131.7 492,130.8 493.2,130.0 494.4,129.1 495.6,128.3 496.9,127.4 498.1,126.6 499.3,125.7 500.5,124.9 501.7,124.0 502.9,123.1 504.1,122.2 505.4,121.3 506.6,120.3 507.8,119.4 509,118.5 510.2,117.5 511.4,116.5 512.6,115.5 513.9,114.5 515.1,113.5 516.3,112.5 517.5,111.5 518.7,110.5 519.9,109.6 521.2,108.6 522.4,107.6 523.6,106.6 524.6,105.7 525.7,104.7 526.7,103.8 527.8,102.9 528.8,101.9 529.8,101.0 530.9,100.0 531.9,99.0 533,98.0 534,97.0 535,96.0 536.1,94.9 537.1,93.9 538.1,92.8 539.2,91.7 540.2,90.7 541.3,89.5 542.3,88.4 543.4,87.3 544.4,86.2 545.4,85.0 546.5,83.9 547.5,82.7 548.6,81.5 549.6,80.3 550.7,79.1 551.7,77.9 552.7,76.6 553.6,75.5 554.6,74.4 555.5,73.2 556.4,72.1 557.3,70.9 558.2,69.7 559.1,68.6 560,67.4 560.9,66.3 561.8,65.1 562.7,63.9 563.6,62.8 564.6,61.6 565.5,60.5 566.4,59.3 567.3,58.2 568.2,57.0 569.2,55.9 570.1,54.7 571.1,53.5 572,52.4 572.9,51.3 573.8,50.3 574.6,49.4 575.6,48.3 576.5,47.3 577.3,46.4 578.2,45.5 579.1,44.6 580,43.8 580.9,43.0 581.9,42.2 583,41.3 584.2,40.4 585.5,39.4 586.8,38.5 588,37.6 589.2,36.9 590.4,36.0 591.6,35.3 592.8,34.8 594,34.5 595.2,34.3 596.5,34.2 597.7,34.3 598.9,34.5 600.1,34.8 601.3,35.3 602.5,36.0 603.7,36.9 604.9,37.6 606.1,38.5 607.4,39.4 608.7,40.4 609.9,41.3 611,42.2 612,43.0 612.9,43.8 613.8,44.6 614.7,45.5 615.6,46.4 616.4,47.3 617.3,48.3 618.3,49.4 619.1,50.3 620,51.3 620.9,52.4 621.8,53.5 622.8,54.7 623.7,55.9 624.7,57.0 625.6,58.2 626.5,59.3 627.4,60.5 628.3,61.6 629.3,62.8 630.2,63.9 631.1,65.1 632,66.3 632.9,67.4 633.8,68.6 634.7,69.7 635.6,70.9 636.5,72.1 637.4,73.2 638.3,74.4 639.3,75.5 640.2,76.6 641.2,77.9 642.2,79.1 643.3,80.3 644.3,81.5 645.4,82.7 646.4,83.9 647.5,85.0 648.5,86.2 649.5,87.3 650.6,88.4 651.6,89.5 652.7,90.7 653.7,91.7 654.8,92.8 655.8,93.9 656.8,94.9 657.9,96.0 658.9,97.0 659.9,98.0 661,99.0 662,100.0 663.1,101.0 664.1,101.9 665.1,102.9 666.2,103.8 667.2,104.7 668.3,105.7 669.3,106.6 670.5,107.6 671.7,108.6 673,109.6 674.2,110.5 675.4,111.5 676.6,112.5 677.8,113.5 679,114.5 680.3,115.5 681.5,116.5 682.7,117.5 683.9,118.5 685.1,119.4 686.3,120.3 687.5,121.3 688.8,122.2 690,123.1 691.2,124.0 692.4,124.9 693.6,125.7 694.8,126.6 696,127.4 697.3,128.3 698.5,129.1 699.7,130.0 700.9,130.8 702.1,131.7 703.3,132.6 704.5,133.4 705.8,134.2 707,135.0 708.2,135.9 709.4,136.6 710.6,137.4 711.8,138.2 713.1,139.0 714.3,139.7 715.5,140.4 716.7,141.1 717.9,141.8 719.1,142.5 720.3,143.3 721.6,144.0 722.8,144.8 724,145.5 725.2,146.3 726.4,147.0 727.6,147.8 728.8,148.5 730.1,149.3 731.3,150.0 732.5,150.8 733.7,151.5 734.9,152.3 736.2,153.1 737.4,153.9 738.7,154.8 739.9,155.6 741.1,156.4 742.2,157.2 743.4,158.1 744.5,158.9 745.5,159.8 746.6,160.7 747.6,161.6 748.7,162.6 749.7,163.5 750.6,164.6 751.3,165.6 751.9,166.7 752.5,167.9 753,169.1 753.4,170.3 753.7,171.5 754,172.8 754.3,174.2 754.5,175.6 754.7,177.0 754.9,178.4 755,179.8 755.2,181.3 755.3,182.8 755.4,184.4 755.5,185.9 755.7,187.4 755.8,188.9 755.9,190.4 756,192.0 756.1,193.6 756.1,195.1 756.2,196.7 756.3,198.2 756.5,199.7 756.6,201.2 756.7,202.6 756.8,204.1 756.9,205.6 757,207.0 757.1,208.5 757.2,209.9 757.4,211.4 757.5,212.9 757.6,214.4 757.8,215.8 757.9,217.2 758.1,218.5 758.4,219.7 758.7,221.1 759.1,222.3 759.5,223.4 760.1,224.4 760.9,225.5 762,226.5 763.1,227.3 764.1,227.9 765.1,228.4 766.3,228.9 767.5,229.5 768.9,230.0 770.4,230.5 771.9,231.0 773.2,231.5 774.6,231.9 776,232.4 777.5,232.8 778.9,233.3" fill="none" stroke="#800080" stroke-width="1.2" stroke-linejoin="round" stroke-dasharray="2.5,2"/>
<text transform="translate(535 54.6) scale(1 1.05)" font-size="7.6" fill="#000000" stroke="#000000" stroke-width="0.05" text-anchor="start">4x4</text>
<line x1="548.2" y1="56.2" x2="581.5" y2="67.9" stroke="#000000" stroke-width="0.7"/>
<path d="M577.86,68 L581.5,67.9 L578.72,65.55" fill="none" stroke="#000000" stroke-width="0.8"/>
<text transform="translate(520.3 70.9) scale(1 1.05)" font-size="7.6" fill="#FF0000" stroke="#FF0000" stroke-width="0.05" text-anchor="start">6x6</text>
<line x1="531.8" y1="71.3" x2="572.8" y2="86" stroke="#FF0000" stroke-width="0.7"/>
<path d="M569.16,86.08 L572.8,86 L570.04,83.63" fill="none" stroke="#FF0000" stroke-width="0.8"/>
<text transform="translate(486.9 97.9) scale(1 1.05)" font-size="7.6" fill="#0000FF" stroke="#0000FF" stroke-width="0.05" text-anchor="start">10x10</text>
<line x1="507.2" y1="98.9" x2="555.3" y2="113.4" stroke="#0000FF" stroke-width="0.7"/>
<path d="M551.67,113.66 L555.3,113.4 L552.42,111.17" fill="none" stroke="#0000FF" stroke-width="0.8"/>
<text transform="translate(454 132.9) scale(1 1.05)" font-size="7.6" fill="#FF00FF" stroke="#FF00FF" stroke-width="0.05" text-anchor="start">20x20</text>
<line x1="473.8" y1="133.2" x2="516.3" y2="142.3" stroke="#FF00FF" stroke-width="0.7"/>
<path d="M512.7,142.86 L516.3,142.3 L513.25,140.32" fill="none" stroke="#FF00FF" stroke-width="0.8"/>
<text transform="translate(409.6 161) scale(1 1.05)" font-size="7.6" fill="#800080" stroke="#800080" stroke-width="0.05" text-anchor="start">40x40</text>
<line x1="429.8" y1="160.7" x2="442.9" y2="163.3" stroke="#800080" stroke-width="0.7"/>
<path d="M439.31,163.91 L442.9,163.3 L439.82,161.36" fill="none" stroke="#800080" stroke-width="0.8"/>
<line x1="184.25" y1="547.75" x2="184.25" y2="318.37" stroke="#000" stroke-width="1.5"/>
<line x1="184.25" y1="526.17" x2="187.5" y2="526.17" stroke="#000" stroke-width="1.2"/>
<line x1="184.25" y1="505.44" x2="189" y2="505.44" stroke="#000" stroke-width="1.2"/>
<line x1="184.25" y1="484.71" x2="187.5" y2="484.71" stroke="#000" stroke-width="1.2"/>
<line x1="184.25" y1="463.98" x2="189" y2="463.98" stroke="#000" stroke-width="1.2"/>
<line x1="184.25" y1="443.25" x2="187.5" y2="443.25" stroke="#000" stroke-width="1.2"/>
<line x1="184.25" y1="422.52" x2="189" y2="422.52" stroke="#000" stroke-width="1.2"/>
<line x1="184.25" y1="401.79" x2="187.5" y2="401.79" stroke="#000" stroke-width="1.2"/>
<line x1="184.25" y1="381.06" x2="189" y2="381.06" stroke="#000" stroke-width="1.2"/>
<line x1="184.25" y1="360.33" x2="187.5" y2="360.33" stroke="#000" stroke-width="1.2"/>
<line x1="184.25" y1="339.6" x2="189" y2="339.6" stroke="#000" stroke-width="1.2"/>
<line x1="184.25" y1="318.87" x2="187.5" y2="318.87" stroke="#000" stroke-width="1.2"/>
<text transform="translate(180 508.04) scale(1.1 1.05)" font-size="7.2" fill="#000" stroke="#000" stroke-width="0.08" text-anchor="end">20</text>
<text transform="translate(180 466.58) scale(1.1 1.05)" font-size="7.2" fill="#000" stroke="#000" stroke-width="0.08" text-anchor="end">40</text>
<text transform="translate(180 425.12) scale(1.1 1.05)" font-size="7.2" fill="#000" stroke="#000" stroke-width="0.08" text-anchor="end">60</text>
<text transform="translate(180 383.66) scale(1.1 1.05)" font-size="7.2" fill="#000" stroke="#000" stroke-width="0.08" text-anchor="end">80</text>
<text transform="translate(180 342.2) scale(1.1 1.05)" font-size="7.2" fill="#000" stroke="#000" stroke-width="0.08" text-anchor="end">100</text>
<line x1="6.21" y1="547.75" x2="362.29" y2="547.75" stroke="#000" stroke-width="1.5"/>
<line x1="6.21" y1="547.75" x2="6.21" y2="543.2" stroke="#000" stroke-width="1.2"/>
<line x1="50.72" y1="547.75" x2="50.72" y2="543.2" stroke="#000" stroke-width="1.2"/>
<line x1="95.23" y1="547.75" x2="95.23" y2="543.2" stroke="#000" stroke-width="1.2"/>
<line x1="139.74" y1="547.75" x2="139.74" y2="543.2" stroke="#000" stroke-width="1.2"/>
<line x1="228.76" y1="547.75" x2="228.76" y2="543.2" stroke="#000" stroke-width="1.2"/>
<line x1="273.27" y1="547.75" x2="273.27" y2="543.2" stroke="#000" stroke-width="1.2"/>
<line x1="317.78" y1="547.75" x2="317.78" y2="543.2" stroke="#000" stroke-width="1.2"/>
<line x1="362.29" y1="547.75" x2="362.29" y2="543.2" stroke="#000" stroke-width="1.2"/>
<line x1="28.47" y1="547.75" x2="28.47" y2="544.7" stroke="#000" stroke-width="1.2"/>
<line x1="72.98" y1="547.75" x2="72.98" y2="544.7" stroke="#000" stroke-width="1.2"/>
<line x1="117.48" y1="547.75" x2="117.48" y2="544.7" stroke="#000" stroke-width="1.2"/>
<line x1="162" y1="547.75" x2="162" y2="544.7" stroke="#000" stroke-width="1.2"/>
<line x1="206.5" y1="547.75" x2="206.5" y2="544.7" stroke="#000" stroke-width="1.2"/>
<line x1="251.01" y1="547.75" x2="251.01" y2="544.7" stroke="#000" stroke-width="1.2"/>
<line x1="295.52" y1="547.75" x2="295.52" y2="544.7" stroke="#000" stroke-width="1.2"/>
<line x1="340.03" y1="547.75" x2="340.03" y2="544.7" stroke="#000" stroke-width="1.2"/>
<text transform="translate(6.21 557.7) scale(1.1 1.05)" font-size="7.2" fill="#000" stroke="#000" stroke-width="0.08" text-anchor="middle">-40</text>
<text transform="translate(50.72 557.7) scale(1.1 1.05)" font-size="7.2" fill="#000" stroke="#000" stroke-width="0.08" text-anchor="middle">-30</text>
<text transform="translate(95.23 557.7) scale(1.1 1.05)" font-size="7.2" fill="#000" stroke="#000" stroke-width="0.08" text-anchor="middle">-20</text>
<text transform="translate(139.74 557.7) scale(1.1 1.05)" font-size="7.2" fill="#000" stroke="#000" stroke-width="0.08" text-anchor="middle">-10</text>
<text transform="translate(184.25 557.7) scale(1.1 1.05)" font-size="7.2" fill="#000" stroke="#000" stroke-width="0.08" text-anchor="middle">0</text>
<text transform="translate(228.76 557.7) scale(1.1 1.05)" font-size="7.2" fill="#000" stroke="#000" stroke-width="0.08" text-anchor="middle">10</text>
<text transform="translate(273.27 557.7) scale(1.1 1.05)" font-size="7.2" fill="#000" stroke="#000" stroke-width="0.08" text-anchor="middle">20</text>
<text transform="translate(317.78 557.7) scale(1.1 1.05)" font-size="7.2" fill="#000" stroke="#000" stroke-width="0.08" text-anchor="middle">30</text>
<text transform="translate(362.29 557.7) scale(1.1 1.05)" font-size="7.2" fill="#000" stroke="#000" stroke-width="0.08" text-anchor="middle">40</text>
<text transform="translate(185.55 314.6) scale(1 1.05)" font-size="9.6" fill="#000" stroke="#000" stroke-width="0.22" text-anchor="middle">(%)</text>
<text transform="translate(187.4 570) scale(1 1.05)" font-size="9.8" fill="#000" stroke="#000" stroke-width="0.22" text-anchor="middle">Crossplane(mm)</text>
<text transform="translate(9 328.6) scale(1 1.05)" font-size="9.9" fill="#000" stroke="#000" stroke-width="0.22" text-anchor="start">6 MV FFF</text>
<line x1="268.3" y1="326.9" x2="290.2" y2="326.9" stroke="#000" stroke-width="1.4" stroke-dasharray="3.6,2.8"/>
<text transform="translate(293.1 331) scale(1 1.05)" font-size="9.75" fill="#000" stroke="#000" stroke-width="0.22" text-anchor="start">Measured</text>
<line x1="268.3" y1="339" x2="290.2" y2="339" stroke="#000" stroke-width="1.4"/>
<text transform="translate(293.1 343.1) scale(1 1.05)" font-size="9.75" fill="#000" stroke="#000" stroke-width="0.22" text-anchor="start">Simulated</text>
<path d="M91.2,545.9 92.8,545.8 94.4,545.8 96,545.7 97.6,545.7 99.2,545.6 100.8,545.5 102.4,545.5 104,545.4 105.6,545.4 107.1,545.3 108.6,545.2 110.2,545.2 111.7,545.1 113.3,545.0 114.8,544.9 116.4,544.8 117.8,544.7 119.3,544.6 120.6,544.5 121.9,544.4 123.6,544.2 125.1,544.1 126.6,543.9 128,543.7 129.5,543.4 131,543.0 132.6,542.7 134.1,542.3 135.6,541.8 137.1,541.3 138.4,540.8 139.7,540.2 141,539.6 142.2,539.0 143.3,538.2 144.3,537.4 145.3,536.5 146.1,535.6 147,534.5 147.8,533.4 148.5,532.3 149.1,531.1 149.7,529.8 150.3,528.4 150.8,527.0 151.3,525.5 151.7,524.2 152.1,522.8 152.5,521.4 152.8,519.9 153.1,518.4 153.4,516.9 153.7,515.3 154,513.7 154.2,512.3 154.5,510.9 154.7,509.5 154.9,508.0 155.1,506.5 155.3,505.0 155.5,503.5 155.7,501.9 155.9,500.4 156,498.8 156.2,497.1 156.4,495.7 156.5,494.3 156.6,492.8 156.8,491.3 156.9,489.8 157,488.3 157.1,486.8 157.2,485.2 157.4,483.6 157.5,482.1 157.6,480.5 157.7,479.0 157.8,477.4 157.9,475.9 158,474.3 158.1,472.8 158.2,471.3 158.3,469.8 158.4,468.3 158.5,466.8 158.6,465.3 158.6,463.8 158.7,462.3 158.8,460.7 158.9,459.2 159,457.7 159.1,456.2 159.2,454.6 159.2,453.1 159.3,451.5 159.4,450.0 159.5,448.5 159.6,446.9 159.7,445.4 159.7,443.8 159.8,442.3 159.9,440.7 160,439.2 160.1,437.6 160.2,436.0 160.2,434.5 160.3,432.9 160.4,431.3 160.5,429.8 160.6,428.2 160.7,426.7 160.7,425.1 160.8,423.5 160.9,422.0 161,420.4 161.1,418.8 161.1,417.2 161.2,415.7 161.3,414.1 161.4,412.5 161.4,411.0 161.5,409.4 161.6,407.8 161.7,406.3 161.8,404.8 161.9,403.3 162,401.8 162.1,400.2 162.2,398.7 162.3,397.2 162.4,395.7 162.6,394.1 162.7,392.6 162.8,391.2 162.9,389.7 163.1,388.2 163.2,386.8 163.3,385.3 163.5,383.9 163.6,382.5 163.8,381.1 164,379.5 164.1,377.9 164.3,376.4 164.5,374.8 164.7,373.3 164.9,371.8 165.1,370.3 165.3,368.8 165.5,367.4 165.7,365.9 166,364.5 166.3,362.9 166.6,361.3 166.9,359.7 167.2,358.2 167.5,356.6 167.9,355.1 168.3,353.7 168.7,352.3 169.1,351.0 169.7,349.5 170.2,348.0 170.9,346.6 171.5,345.3 172.3,344.1 173.1,343.1 174.1,342.2 175.3,341.5 176.5,340.9 177.7,340.4 178.9,340.0 180.2,339.7 181.6,339.6 182.9,339.6 184.3,339.6 185.7,339.7 187.2,339.9 188.7,340.2 190,340.6 191.2,341.1 192.4,341.7 193.5,342.4 194.5,343.1 195.5,344.1 196.4,345.2 197.3,346.3 198,347.5 198.6,348.6 199,349.7 199.4,350.8 199.8,352.0 200.3,353.4 200.7,354.8 201.1,356.3 201.5,357.8 201.8,359.3 202,360.8 202.3,362.4 202.5,364.0 202.7,365.5 202.9,366.9 203.1,368.3 203.3,369.6 203.5,371.0 203.7,372.6 203.9,374.0 204,375.5 204.2,377.0 204.3,378.6 204.5,380.3 204.7,381.9 204.8,383.6 204.9,385.2 205.1,386.7 205.2,388.1 205.3,389.5 205.4,391.0 205.6,392.4 205.7,394.0 205.8,395.5 205.9,397.2 206,398.9 206.1,400.2 206.2,401.6 206.3,403.0 206.3,404.4 206.4,405.9 206.5,407.5 206.6,409.1 206.6,410.6 206.7,412.3 206.8,413.9 206.9,415.5 206.9,417.2 207,418.8 207.1,420.4 207.2,422.0 207.2,423.6 207.3,425.1 207.4,426.7 207.5,428.3 207.6,429.8 207.6,431.4 207.7,433.0 207.8,434.6 207.9,436.1 208,437.7 208.1,439.3 208.1,440.8 208.2,442.4 208.3,443.9 208.4,445.4 208.5,447.0 208.6,448.5 208.6,450.0 208.7,451.5 208.8,453.1 208.9,454.6 209,456.2 209.1,457.7 209.2,459.3 209.2,460.8 209.3,462.3 209.4,463.8 209.5,465.4 209.6,466.9 209.7,468.4 209.8,469.9 209.9,471.4 210,472.9 210.1,474.3 210.2,475.9 210.3,477.4 210.4,478.9 210.5,480.4 210.7,481.9 210.8,483.4 210.9,484.9 211,486.4 211.2,487.9 211.3,489.4 211.4,490.8 211.6,492.2 211.7,493.7 211.8,495.1 212,496.7 212.1,498.2 212.3,499.8 212.4,501.3 212.6,502.8 212.7,504.4 212.9,505.9 213,507.3 213.2,508.8 213.4,510.2 213.6,511.7 213.9,513.2 214.1,514.8 214.4,516.3 214.6,517.9 214.9,519.4 215.2,520.8 215.6,522.2 215.9,523.6 216.3,524.9 216.8,526.5 217.3,528.0 217.9,529.4 218.5,530.8 219.2,532.0 219.9,533.2 220.7,534.5 221.7,535.6 222.7,536.6 223.9,537.6 224.9,538.3 226,539.0 227.2,539.6 228.4,540.2 229.7,540.8 231,541.3 232.3,541.8 233.6,542.2 234.9,542.6 236.3,542.9 237.8,543.2 239.2,543.5 240.8,543.8 242.1,544.0 243.5,544.2 244.9,544.3 246.4,544.5 247.9,544.6 249.4,544.7 250.9,544.8 252.4,544.9 253.9,544.9 255.5,545.0 257,545.1 258.5,545.2 260,545.3 261.5,545.3 263.1,545.4 264.6,545.4 266.2,545.5 267.7,545.5 269.3,545.6 270.8,545.6 272.4,545.7" fill="none" stroke="#000000" stroke-width="1.6" stroke-linejoin="round"/>
<path d="M91.2,545.9 92.8,545.8 94.4,545.8 96,545.7 97.6,545.7 99.2,545.6 100.8,545.5 102.4,545.5 104,545.4 105.6,545.4 107.1,545.3 108.6,545.2 110.2,545.2 111.7,545.1 113.3,545.0 114.8,544.9 116.4,544.8 117.8,544.7 119.3,544.6 120.6,544.5 121.9,544.4 123.6,544.2 125.1,544.1 126.6,543.9 128,543.7 129.5,543.4 131,543.0 132.6,542.7 134.1,542.3 135.6,541.8 137.1,541.3 138.4,540.8 139.7,540.2 141,539.6 142.2,539.0 143.3,538.2 144.3,537.4 145.3,536.5 146.1,535.6 147,534.5 147.8,533.4 148.5,532.3 149.1,531.1 149.7,529.8 150.3,528.4 150.8,527.0 151.3,525.5 151.8,524.2 152.2,522.8 152.6,521.4 153,519.9 153.4,518.4 153.7,516.9 154,515.3 154.4,513.7 154.7,512.3 154.9,510.9 155.2,509.5 155.5,508.0 155.7,506.5 155.9,505.0 156.2,503.5 156.4,501.9 156.6,500.4 156.8,498.8 157,497.1 157.2,495.7 157.3,494.3 157.5,492.8 157.6,491.3 157.7,489.8 157.8,488.3 158,486.8 158.1,485.2 158.2,483.6 158.3,482.1 158.4,480.5 158.5,479.0 158.6,477.4 158.7,475.9 158.8,474.3 158.9,472.8 159,471.3 159.1,469.8 159.2,468.3 159.3,466.8 159.4,465.3 159.4,463.8 159.5,462.3 159.6,460.7 159.7,459.2 159.8,457.7 159.9,456.2 160,454.6 160,453.1 160.1,451.5 160.2,450.0 160.3,448.5 160.4,446.9 160.5,445.4 160.5,443.8 160.6,442.3 160.7,440.7 160.8,439.2 160.9,437.6 161,436.0 161,434.5 161.1,432.9 161.2,431.3 161.3,429.8 161.4,428.2 161.5,426.7 161.5,425.1 161.6,423.5 161.7,422.0 161.8,420.4 161.9,418.8 161.9,417.2 162,415.7 162.1,414.1 162.2,412.5 162.2,411.0 162.3,409.4 162.4,407.8 162.5,406.3 162.6,404.8 162.7,403.3 162.8,401.8 162.9,400.2 163,398.7 163.1,397.2 163.2,395.7 163.4,394.1 163.5,392.6 163.6,391.2 163.7,389.7 163.9,388.2 164,386.8 164.1,385.3 164.3,383.9 164.4,382.5 164.6,381.1 164.8,379.5 164.9,377.9 165.1,376.4 165.3,374.8 165.5,373.3 165.7,371.8 165.9,370.3 166.1,368.8 166.3,367.4 166.6,365.9 166.8,364.5 167.1,362.9 167.3,361.3 167.6,359.7 167.9,358.2 168.2,356.6 168.5,355.1 168.8,353.7 169.2,352.3 169.6,351.0 170.1,349.5 170.6,348.0 171.1,346.6 171.7,345.3 172.3,344.1 173.1,343.1 174.1,342.2 175.2,341.5 176.5,340.9 177.7,340.4 178.9,340.0 180.2,339.7 181.6,339.6 182.9,339.6 184.3,339.6 185.7,339.7 187.2,339.9 188.7,340.2 190,340.6 191.2,341.1 192.4,341.7 193.5,342.3 194.5,343.1 195.4,344.1 196.2,345.2 197,346.3 197.5,347.5 198,348.9 198.3,350.5 198.6,352.0 198.8,353.4 199.1,354.8 199.4,356.3 199.7,357.8 199.9,359.3 200.2,360.8 200.4,362.4 200.7,364.0 200.9,365.5 201.1,366.9 201.3,368.3 201.5,369.6 201.7,371.0 201.9,372.6 202.1,374.0 202.2,375.5 202.4,377.0 202.5,378.6 202.7,380.3 202.9,381.9 203,383.6 203.1,385.2 203.3,386.7 203.4,388.1 203.5,389.5 203.6,391.0 203.8,392.4 203.9,394.0 204,395.5 204.1,397.2 204.2,398.9 204.3,400.2 204.4,401.6 204.5,403.0 204.5,404.4 204.6,405.9 204.7,407.5 204.8,409.1 204.8,410.6 204.9,412.3 205,413.9 205.1,415.5 205.1,417.2 205.2,418.8 205.3,420.4 205.4,422.0 205.4,423.6 205.5,425.1 205.6,426.7 205.7,428.3 205.8,429.8 205.8,431.4 205.9,433.0 206,434.6 206.1,436.1 206.2,437.7 206.3,439.3 206.3,440.8 206.4,442.4 206.5,443.9 206.6,445.4 206.7,447.0 206.8,448.5 206.8,450.0 206.9,451.5 207,453.1 207.1,454.6 207.2,456.2 207.3,457.7 207.4,459.3 207.4,460.8 207.5,462.3 207.6,463.8 207.7,465.4 207.8,466.9 207.9,468.4 208,469.9 208.1,471.4 208.2,472.9 208.3,474.3 208.4,475.9 208.5,477.4 208.6,478.9 208.7,480.4 208.8,481.9 208.9,483.4 209.1,484.9 209.2,486.4 209.3,487.9 209.4,489.4 209.6,490.8 209.7,492.2 209.9,493.7 210,495.1 210.2,496.7 210.4,498.2 210.6,499.8 210.8,501.3 211,502.9 211.3,504.4 211.5,505.9 211.8,507.3 212,508.8 212.3,510.2 212.6,511.7 212.9,513.2 213.3,514.8 213.7,516.3 214.1,517.9 214.5,519.4 214.9,520.8 215.3,522.2 215.8,523.6 216.2,524.9 216.8,526.5 217.3,528.0 217.9,529.4 218.5,530.8 219.2,532.0 219.9,533.2 220.7,534.5 221.7,535.6 222.7,536.6 223.9,537.6 224.9,538.3 226,539.0 227.2,539.6 228.4,540.2 229.7,540.8 231,541.3 232.3,541.8 233.6,542.2 234.9,542.6 236.3,542.9 237.8,543.2 239.2,543.5 240.8,543.8 242.1,544.0 243.5,544.2 244.9,544.3 246.4,544.5 247.9,544.6 249.4,544.7 250.9,544.8 252.4,544.9 253.9,544.9 255.5,545.0 257,545.1 258.5,545.2 260,545.3 261.5,545.3 263.1,545.4 264.6,545.4 266.2,545.5 267.7,545.5 269.3,545.6 270.8,545.6 272.4,545.7" fill="none" stroke="#000000" stroke-width="1.6" stroke-linejoin="round" stroke-dasharray="2.6,2.2"/>
<path d="M48,544.6 49.6,544.6 51.2,544.5 52.8,544.4 54.4,544.4 56,544.3 57.6,544.3 59.2,544.2 60.8,544.1 62.3,544.1 63.9,544.0 65.5,543.9 67,543.9 68.5,543.8 70.1,543.7 71.6,543.6 73.1,543.5 74.6,543.4 76.1,543.3 77.6,543.3 79.1,543.2 80.6,543.0 82,542.9 83.5,542.8 84.9,542.7 86.3,542.5 88,542.4 89.7,542.2 91.3,542.0 92.9,541.8 94.5,541.6 96.1,541.4 97.6,541.2 99.1,540.9 100.6,540.7 102.1,540.4 103.6,540.1 105,539.8 106.4,539.4 107.7,539.1 109.1,538.7 110.4,538.2 111.8,537.6 113.2,537.0 114.6,536.3 115.9,535.6 117.2,534.9 118.4,534.0 119.6,533.1 120.7,532.1 121.8,531.0 122.8,529.9 123.7,528.7 124.5,527.4 125.3,526.0 125.9,524.6 126.6,523.1 127.1,521.5 127.7,520.0 128.1,518.7 128.5,517.4 128.9,516.1 129.3,514.7 129.6,513.3 129.9,511.9 130.3,510.5 130.5,509.0 130.8,507.5 131.1,506.1 131.3,504.7 131.6,503.2 131.8,501.7 132,500.3 132.2,498.7 132.4,497.2 132.5,495.7 132.7,494.1 132.9,492.5 133.1,490.9 133.2,489.5 133.4,488.1 133.5,486.7 133.6,485.2 133.8,483.7 133.9,482.3 134,480.8 134.2,479.3 134.3,477.8 134.4,476.3 134.5,474.8 134.6,473.2 134.7,471.7 134.8,470.2 134.9,468.7 135,467.2 135.1,465.7 135.2,464.2 135.3,462.7 135.4,461.2 135.5,459.7 135.6,458.2 135.7,456.6 135.8,455.1 135.8,453.6 135.9,452.0 136,450.5 136.1,448.9 136.2,447.4 136.3,445.9 136.3,444.3 136.4,442.8 136.5,441.2 136.6,439.7 136.7,438.1 136.8,436.5 136.8,435.0 136.9,433.4 137,431.8 137.1,430.3 137.2,428.7 137.3,427.1 137.3,425.6 137.4,424.0 137.5,422.5 137.6,421.0 137.7,419.4 137.8,417.9 137.8,416.4 137.9,414.8 138,413.3 138.1,411.8 138.2,410.3 138.3,408.8 138.4,407.3 138.4,405.8 138.5,404.3 138.6,402.7 138.7,401.2 138.8,399.7 139,398.2 139.1,396.6 139.2,395.1 139.3,393.5 139.4,391.9 139.5,390.4 139.7,388.8 139.8,387.2 139.9,385.7 140.1,384.2 140.2,382.7 140.4,381.2 140.5,379.8 140.7,378.4 140.9,377.1 141.1,375.5 141.3,373.9 141.5,372.4 141.7,371.0 142,369.5 142.2,368.2 142.5,366.8 142.8,365.5 143.2,364.3 143.6,362.8 144.1,361.5 144.6,360.2 145.1,359.0 145.6,357.8 146.2,356.6 146.9,355.3 147.7,354.0 148.5,352.7 149.3,351.5 150.2,350.4 151,349.3 151.9,348.2 152.8,347.2 153.8,346.3 154.8,345.4 156,344.5 157.4,343.6 158.8,342.9 160.2,342.3 161.6,341.8 163.1,341.4 164.7,341.1 166.3,340.8 167.7,340.6 169.2,340.4 170.7,340.2 172.3,340.1 173.8,339.9 175.3,339.8 176.8,339.7 178.3,339.7 179.8,339.6 181.3,339.6 182.8,339.6 184.2,339.6 185.7,339.6 187.1,339.6 188.6,339.6 190,339.7 191.5,339.7 193.2,339.8 194.6,339.9 196.2,340.0 197.9,340.1 199.6,340.2 201.3,340.4 202.9,340.6 204.5,340.8 206,341.1 207.4,341.5 208.8,342.0 210.1,342.5 211.3,343.2 212.4,343.9 213.5,344.6 214.5,345.4 215.7,346.4 216.8,347.5 217.9,348.7 218.9,349.9 219.9,351.2 220.6,352.4 221.4,353.7 222.1,355.0 222.7,356.4 223.3,357.8 223.9,359.3 224.3,360.7 224.8,362.1 225.2,363.5 225.6,365.0 225.9,366.5 226.2,368.0 226.5,369.7 226.8,371.1 227,372.5 227.2,374.0 227.4,375.5 227.5,377.1 227.7,378.7 227.8,380.3 228,381.9 228.2,383.5 228.3,385.2 228.5,386.6 228.6,388.0 228.7,389.4 228.9,390.9 229,392.4 229.1,393.9 229.3,395.4 229.4,396.9 229.5,398.4 229.6,399.9 229.7,401.4 229.9,402.9 230,404.4 230.1,405.9 230.2,407.5 230.3,409.1 230.4,410.7 230.5,412.3 230.6,413.9 230.7,415.5 230.8,417.1 230.9,418.7 231,420.3 231.1,421.9 231.2,423.5 231.3,425.1 231.4,426.7 231.5,428.3 231.6,429.9 231.7,431.4 231.8,433.0 231.9,434.6 232,436.2 232.1,437.8 232.3,439.4 232.4,441.0 232.5,442.6 232.6,444.2 232.7,445.8 232.8,447.4 232.9,449.0 233,450.6 233.1,452.2 233.2,453.8 233.3,455.4 233.4,457.0 233.5,458.6 233.6,460.2 233.7,461.8 233.8,463.4 233.9,465.0 234,466.6 234.1,468.1 234.2,469.7 234.3,471.3 234.4,472.9 234.5,474.4 234.6,476.0 234.7,477.5 234.8,479.1 234.9,480.6 235,482.1 235.2,483.7 235.3,485.2 235.4,486.8 235.6,488.3 235.7,489.9 235.9,491.5 236.1,493.1 236.2,494.7 236.4,496.3 236.6,497.9 236.8,499.5 237,501.0 237.2,502.5 237.4,504.0 237.7,505.4 238,507.1 238.3,508.7 238.6,510.2 238.9,511.8 239.2,513.3 239.6,514.8 240,516.2 240.4,517.6 240.8,518.9 241.3,520.5 241.8,522.0 242.4,523.4 243,524.8 243.6,526.1 244.3,527.4 245.1,528.6 245.9,529.8 246.8,531.0 247.7,532.1 248.7,533.1 249.7,534.0 250.7,534.9 251.8,535.7 253,536.4 254.2,537.0 255.5,537.6 256.8,538.1 258.2,538.6 259.7,539.1 261.2,539.5 262.8,539.9 264.4,540.3 265.7,540.6 267,540.8 268.4,541.1 269.8,541.3 271.2,541.5 272.7,541.8 274.2,542.0 275.7,542.2 277.3,542.3 278.7,542.5 280.1,542.6 281.6,542.8 283.1,542.9 284.6,543.0 286.1,543.1 287.7,543.2 289.2,543.3 290.8,543.3 292.4,543.4 293.9,543.5 295.5,543.6 297,543.7 298.4,543.7 299.9,543.8 301.4,543.9 302.9,543.9 304.4,544.0 305.9,544.0 307.4,544.1 308.9,544.1 310.4,544.2 311.9,544.2 313.4,544.3 314.9,544.4 316.4,544.4" fill="none" stroke="#0000FF" stroke-width="1.6" stroke-linejoin="round"/>
<path d="M48,544.6 49.6,544.6 51.2,544.5 52.8,544.4 54.4,544.4 56,544.3 57.6,544.3 59.2,544.2 60.8,544.1 62.3,544.1 63.9,544.0 65.5,543.9 67,543.9 68.5,543.8 70.1,543.7 71.6,543.6 73.1,543.5 74.6,543.4 76.1,543.3 77.6,543.3 79.1,543.2 80.6,543.0 82,542.9 83.5,542.8 84.9,542.7 86.3,542.5 88,542.4 89.7,542.2 91.3,542.0 92.9,541.8 94.5,541.6 96.1,541.4 97.6,541.2 99.1,540.9 100.6,540.7 102.1,540.4 103.6,540.1 105,539.8 106.4,539.4 107.7,539.1 109.1,538.7 110.4,538.2 111.8,537.6 113.2,537.0 114.6,536.3 115.9,535.6 117.2,534.9 118.4,534.0 119.6,533.1 120.7,532.1 121.8,531.0 122.8,529.9 123.7,528.7 124.4,527.6 125.1,526.4 125.7,525.2 126.3,524.0 126.8,522.7 127.4,521.3 127.9,520.0 128.4,518.7 128.8,517.4 129.2,516.1 129.6,514.7 130,513.3 130.4,511.9 130.7,510.5 131,509.0 131.4,507.5 131.6,506.1 131.9,504.7 132.2,503.2 132.4,501.8 132.6,500.3 132.8,498.7 133,497.2 133.2,495.7 133.4,494.1 133.6,492.5 133.8,490.9 133.9,489.5 134.1,488.1 134.2,486.7 134.4,485.2 134.5,483.7 134.6,482.3 134.7,480.8 134.9,479.3 135,477.8 135.1,476.3 135.2,474.8 135.3,473.2 135.4,471.7 135.5,470.2 135.6,468.7 135.7,467.2 135.8,465.7 135.9,464.2 136,462.7 136.1,461.2 136.2,459.7 136.3,458.2 136.4,456.6 136.5,455.1 136.5,453.6 136.6,452.0 136.7,450.5 136.8,448.9 136.9,447.4 137,445.9 137,444.3 137.1,442.8 137.2,441.2 137.3,439.7 137.4,438.1 137.5,436.5 137.5,435.0 137.6,433.4 137.7,431.8 137.8,430.3 137.9,428.7 138,427.1 138,425.6 138.1,424.0 138.2,422.5 138.3,421.0 138.4,419.4 138.5,417.9 138.5,416.4 138.6,414.8 138.7,413.3 138.8,411.8 138.9,410.3 139,408.8 139.1,407.3 139.1,405.8 139.2,404.3 139.3,402.7 139.4,401.2 139.5,399.7 139.7,398.2 139.8,396.6 139.9,395.1 140,393.5 140.1,391.9 140.2,390.4 140.4,388.8 140.5,387.2 140.6,385.7 140.8,384.2 140.9,382.7 141.1,381.2 141.2,379.8 141.4,378.4 141.6,377.1 141.8,375.5 142,373.9 142.2,372.4 142.4,371.0 142.7,369.5 142.9,368.2 143.2,366.8 143.5,365.5 143.9,364.3 144.3,362.8 144.8,361.5 145.3,360.2 145.8,359.0 146.4,357.8 146.9,356.6 147.6,355.3 148.3,354.0 149,352.7 149.7,351.5 150.5,350.4 151.3,349.3 152.1,348.2 153,347.2 153.9,346.3 154.8,345.4 156.1,344.5 157.4,343.6 158.8,342.9 160.2,342.3 161.6,341.8 163.1,341.4 164.7,341.1 166.3,340.8 167.7,340.6 169.2,340.4 170.7,340.2 172.3,340.1 173.8,339.9 175.3,339.8 176.8,339.7 178.3,339.7 179.8,339.6 181.3,339.6 182.8,339.6 184.2,339.6 185.7,339.6 187.1,339.6 188.6,339.6 190,339.7 191.5,339.7 193.2,339.8 194.6,339.9 196.2,340.0 197.9,340.1 199.6,340.2 201.3,340.4 202.9,340.6 204.5,340.8 206,341.1 207.4,341.5 208.8,342.0 210.1,342.5 211.3,343.2 212.4,343.8 213.4,344.6 214.4,345.4 215.5,346.4 216.5,347.5 217.4,348.7 218.3,349.9 219.1,351.2 219.8,352.4 220.5,353.7 221.1,355.1 221.6,356.4 222.2,357.9 222.7,359.3 223.1,360.7 223.6,362.1 224,363.5 224.3,365.0 224.7,366.5 225,368.0 225.3,369.7 225.6,371.1 225.8,372.5 226,374.0 226.2,375.5 226.3,377.1 226.5,378.7 226.6,380.3 226.8,381.9 227,383.5 227.1,385.2 227.3,386.6 227.4,388.0 227.5,389.4 227.7,390.9 227.8,392.4 227.9,393.9 228.1,395.4 228.2,396.9 228.3,398.4 228.4,399.9 228.5,401.4 228.7,402.9 228.8,404.4 228.9,405.9 229,407.5 229.1,409.1 229.2,410.7 229.3,412.3 229.4,413.9 229.5,415.5 229.6,417.1 229.7,418.7 229.8,420.3 229.9,421.9 230,423.5 230.1,425.1 230.2,426.7 230.3,428.3 230.4,429.9 230.5,431.4 230.6,433.0 230.7,434.6 230.8,436.2 230.9,437.8 231.1,439.4 231.2,441.0 231.3,442.6 231.4,444.2 231.5,445.8 231.6,447.4 231.7,449.0 231.8,450.6 231.9,452.2 232,453.8 232.1,455.4 232.2,457.0 232.3,458.6 232.4,460.2 232.5,461.8 232.6,463.4 232.7,465.0 232.8,466.6 232.9,468.1 233,469.7 233.1,471.3 233.2,472.9 233.3,474.4 233.4,476.0 233.5,477.5 233.6,479.1 233.7,480.6 233.8,482.1 234,483.7 234.1,485.2 234.2,486.8 234.4,488.4 234.6,489.9 234.7,491.5 234.9,493.1 235.1,494.7 235.3,496.3 235.4,497.9 235.7,499.5 235.9,501.0 236.1,502.5 236.4,504.0 236.7,505.4 237,507.1 237.4,508.7 237.8,510.2 238.2,511.8 238.6,513.3 239,514.8 239.5,516.2 240,517.6 240.4,518.9 241,520.5 241.6,522.0 242.2,523.4 242.9,524.8 243.6,526.1 244.3,527.4 245.1,528.6 246,529.8 246.8,531.0 247.8,532.1 248.7,533.1 249.7,534.0 250.7,534.9 251.8,535.7 253,536.4 254.2,537.0 255.5,537.6 256.8,538.1 258.2,538.6 259.7,539.1 261.2,539.5 262.8,539.9 264.4,540.3 265.7,540.6 267,540.8 268.4,541.1 269.8,541.3 271.2,541.5 272.7,541.8 274.2,542.0 275.7,542.2 277.3,542.3 278.7,542.5 280.1,542.6 281.6,542.8 283.1,542.9 284.6,543.0 286.1,543.1 287.7,543.2 289.2,543.3 290.8,543.3 292.4,543.4 293.9,543.5 295.5,543.6 297,543.7 298.4,543.7 299.9,543.8 301.4,543.9 302.9,543.9 304.4,544.0 305.9,544.0 307.4,544.1 308.9,544.1 310.4,544.2 311.9,544.2 313.4,544.3 314.9,544.4 316.4,544.4" fill="none" stroke="#0000FF" stroke-width="1.6" stroke-linejoin="round" stroke-dasharray="2.6,2.2"/>
<path d="M6.7,544.0 8.2,543.9 9.7,543.7 11.3,543.6 12.8,543.5 14.4,543.3 16,543.2 17.5,543.1 19.1,542.9 20.6,542.8 22.2,542.6 23.7,542.5 25.2,542.4 26.7,542.3 28.2,542.1 29.7,542.0 31.1,541.9 32.7,541.8 34.3,541.7 35.9,541.6 37.5,541.5 39.1,541.4 40.6,541.3 42.2,541.3 43.7,541.2 45.2,541.1 46.6,541.0 48,540.9 49.4,540.8 50.7,540.7 52.5,540.5 54.1,540.4 55.7,540.2 57.2,540.0 58.7,539.9 60.3,539.7 61.8,539.4 63.3,539.2 64.8,539.0 66.4,538.7 67.9,538.4 69.4,538.1 70.9,537.8 72.4,537.5 73.9,537.2 75.4,536.8 76.9,536.5 78.4,536.1 79.9,535.8 81.3,535.4 82.7,534.9 84.1,534.5 85.5,533.9 86.9,533.3 88.3,532.7 89.6,532.0 90.9,531.3 92.1,530.5 93.4,529.7 94.6,528.8 95.8,527.8 96.9,526.8 97.9,525.8 98.8,524.7 99.6,523.7 100.3,522.6 101,521.4 101.7,520.2 102.4,518.9 103,517.6 103.5,516.2 104.1,514.7 104.6,513.2 105.1,511.7 105.5,510.1 105.9,508.5 106.2,507.2 106.5,505.7 106.8,504.3 107.1,502.9 107.3,501.4 107.5,499.9 107.7,498.3 107.9,496.7 108.1,495.1 108.3,493.7 108.5,492.4 108.6,490.9 108.7,489.5 108.9,488.0 109,486.5 109.1,485.0 109.2,483.5 109.4,481.9 109.5,480.4 109.6,478.9 109.7,477.3 109.8,475.8 109.9,474.3 110,472.8 110.1,471.2 110.3,469.6 110.4,468.0 110.5,466.4 110.6,464.8 110.7,463.2 110.8,461.7 110.9,460.1 111,458.5 111.1,456.9 111.2,455.2 111.3,453.6 111.3,452.1 111.4,450.6 111.5,449.1 111.6,447.6 111.7,446.1 111.8,444.6 111.9,443.0 112,441.5 112.1,440.0 112.1,438.5 112.2,436.9 112.3,435.4 112.4,433.9 112.5,432.3 112.6,430.8 112.7,429.3 112.8,427.8 112.8,426.2 112.9,424.7 113,423.1 113.1,421.6 113.2,420.0 113.3,418.5 113.4,417.0 113.4,415.4 113.5,413.9 113.6,412.4 113.7,410.9 113.8,409.5 113.9,408.0 114,406.4 114.2,404.8 114.3,403.2 114.4,401.6 114.5,400.0 114.7,398.4 114.8,396.9 114.9,395.4 115.1,393.8 115.2,392.3 115.3,390.8 115.5,389.4 115.6,387.8 115.8,386.2 115.9,384.6 116.1,383.0 116.2,381.5 116.4,380.0 116.6,378.5 116.8,377.0 117,375.6 117.3,374.2 117.6,372.7 117.9,371.2 118.3,369.7 118.7,368.3 119.1,366.9 119.6,365.6 120,364.3 120.5,362.7 121,361.3 121.5,359.9 122.1,358.5 122.7,357.2 123.5,355.9 124.3,354.6 125.2,353.4 126.2,352.2 127.3,351.2 128.4,350.2 129.6,349.3 130.8,348.5 131.9,347.9 133,347.3 134.2,346.8 135.4,346.2 136.7,345.6 138.1,344.9 139.5,344.3 141,343.7 142.5,343.1 144,342.7 145.5,342.3 147,342.0 148.6,341.7 150.2,341.5 151.7,341.2 153.2,341.0 154.7,340.8 156.3,340.6 157.9,340.4 159.2,340.3 160.6,340.2 162,340.1 163.4,340.0 164.8,339.9 166.3,339.9 167.9,339.8 169.2,339.8 170.6,339.7 172.1,339.7 173.5,339.7 175,339.6 176.5,339.6 178.1,339.6 179.6,339.6 181.2,339.6 182.7,339.6 184.2,339.6 185.8,339.6 187.3,339.6 188.9,339.6 190.4,339.5 192,339.5 193.6,339.5 195.2,339.5 196.8,339.5 198.3,339.6 199.9,339.6 201.4,339.7 202.9,339.8 204.5,340.0 206.1,340.2 207.7,340.4 209.3,340.6 210.9,340.9 212.4,341.2 213.9,341.5 215.4,341.8 216.9,342.0 218.3,342.3 219.9,342.6 221.5,342.8 223,343.1 224.5,343.3 226,343.6 227.4,343.9 228.7,344.2 230,344.6 231.3,345.0 232.6,345.5 233.8,346.0 234.9,346.6 236.1,347.3 237.2,348.0 238.4,348.8 239.5,349.7 240.5,350.6 241.5,351.6 242.4,352.6 243.2,353.7 244,354.8 244.7,356.0 245.4,357.2 246.1,358.5 246.8,359.9 247.4,361.4 248,362.8 248.5,364.3 249,365.7 249.5,367.2 250,368.7 250.4,370.3 250.8,371.9 251.1,373.2 251.3,374.6 251.5,376.0 251.7,377.5 251.9,379.0 252.1,380.5 252.2,382.1 252.4,383.6 252.6,385.2 252.7,386.6 252.9,388.1 253,389.5 253.1,391.0 253.2,392.5 253.4,394.0 253.5,395.5 253.6,397.1 253.7,398.6 253.8,400.2 253.9,401.8 254,403.3 254.1,404.9 254.2,406.4 254.3,408.0 254.4,409.6 254.4,411.2 254.5,412.8 254.6,414.4 254.7,416.1 254.8,417.7 254.8,419.3 254.9,420.9 255,422.5 255.1,424.1 255.2,425.7 255.3,427.3 255.4,428.9 255.5,430.5 255.6,432.1 255.7,433.7 255.8,435.3 255.9,436.9 256,438.5 256.1,440.1 256.3,441.7 256.4,443.2 256.5,444.9 256.6,446.5 256.7,448.1 256.8,449.7 256.9,451.3 257,453.0 257.1,454.6 257.2,456.2 257.3,457.8 257.4,459.4 257.5,460.9 257.6,462.5 257.7,464.0 257.8,465.6 257.9,467.1 258,468.6 258.1,470.1 258.2,471.6 258.4,473.1 258.5,474.5 258.6,476.0 258.7,477.5 258.9,479.0 259,480.6 259.2,482.1 259.3,483.6 259.5,485.2 259.6,486.8 259.8,488.4 260,489.9 260.2,491.5 260.4,493.1 260.6,494.7 260.8,496.2 261,497.7 261.3,499.2 261.5,500.9 261.8,502.5 262.1,504.1 262.4,505.7 262.8,507.3 263.1,508.9 263.5,510.4 263.9,511.9 264.3,513.4 264.8,514.8 265.4,516.2 265.9,517.7 266.6,519.1 267.2,520.5 267.9,521.8 268.6,523.0 269.4,524.2 270.2,525.3 271.1,526.6 272.2,527.7 273.3,528.8 274.4,529.8 275.6,530.7 276.8,531.6 278.1,532.3 279.3,533.0 280.6,533.7 281.9,534.2 283.4,534.8 284.8,535.3 286.1,535.7 287.5,536.1 288.8,536.4 290.3,536.8 291.7,537.1 293.2,537.4 294.7,537.6 296.2,537.9 297.8,538.2 299.1,538.4 300.5,538.6 301.9,538.9 303.3,539.0 304.8,539.2 306.2,539.4 307.7,539.6 309.2,539.8 310.7,539.9 312.2,540.1 313.8,540.3 315.2,540.4 316.7,540.6 318.2,540.7 319.7,540.9 321.3,541.1 322.8,541.2 324.4,541.4 326,541.5 327.6,541.7 329.2,541.8 330.8,541.9 332.4,542.1 334,542.2 335.6,542.3 337.1,542.5 338.6,542.6 340.1,542.7 341.6,542.8 343.1,542.8 344.7,542.9 346.2,543.0 347.7,543.1 349.3,543.2 350.8,543.3 352.4,543.4 353.9,543.4 355.5,543.5 357,543.6 358.5,543.7 360.1,543.8" fill="none" stroke="#FF00FF" stroke-width="1.6" stroke-linejoin="round"/>
<path d="M6.7,544.0 8.2,543.9 9.7,543.7 11.3,543.6 12.8,543.5 14.4,543.3 16,543.2 17.5,543.1 19.1,542.9 20.6,542.8 22.2,542.6 23.7,542.5 25.2,542.4 26.7,542.3 28.2,542.1 29.7,542.0 31.1,541.9 32.7,541.8 34.3,541.7 35.9,541.6 37.5,541.5 39.1,541.4 40.6,541.3 42.2,541.3 43.7,541.2 45.2,541.1 46.6,541.0 48,540.9 49.4,540.8 50.7,540.7 52.5,540.5 54.1,540.4 55.7,540.2 57.2,540.0 58.7,539.9 60.3,539.7 61.8,539.4 63.3,539.2 64.8,539.0 66.4,538.7 67.9,538.4 69.4,538.1 70.9,537.8 72.4,537.5 73.9,537.2 75.4,536.8 76.9,536.5 78.4,536.1 79.9,535.8 81.3,535.4 82.7,534.9 84.1,534.5 85.5,533.9 86.9,533.3 88.3,532.7 89.6,532.0 90.9,531.3 92.1,530.5 93.4,529.7 94.6,528.8 95.8,527.8 96.9,526.8 97.9,525.8 98.8,524.7 99.6,523.7 100.4,522.6 101.2,521.4 101.9,520.2 102.6,518.9 103.2,517.6 103.8,516.2 104.4,514.7 105,513.2 105.5,511.7 106,510.1 106.4,508.5 106.8,507.2 107.1,505.8 107.4,504.3 107.7,502.9 107.9,501.4 108.2,499.9 108.4,498.3 108.6,496.7 108.8,495.1 109,493.7 109.2,492.4 109.3,490.9 109.5,489.5 109.6,488.0 109.7,486.5 109.8,485.0 110,483.5 110.1,481.9 110.2,480.4 110.3,478.9 110.4,477.3 110.5,475.8 110.6,474.3 110.7,472.8 110.8,471.2 111,469.6 111.1,468.0 111.2,466.4 111.3,464.8 111.4,463.2 111.5,461.7 111.6,460.1 111.7,458.5 111.8,456.9 111.9,455.2 112,453.6 112,452.1 112.1,450.6 112.2,449.1 112.3,447.6 112.4,446.1 112.5,444.6 112.6,443.0 112.7,441.5 112.8,440.0 112.8,438.5 112.9,436.9 113,435.4 113.1,433.9 113.2,432.3 113.3,430.8 113.4,429.3 113.5,427.8 113.5,426.2 113.6,424.7 113.7,423.1 113.8,421.6 113.9,420.0 114,418.5 114.1,417.0 114.1,415.4 114.2,413.9 114.3,412.4 114.4,410.9 114.5,409.5 114.6,408.0 114.7,406.4 114.9,404.8 115,403.2 115.1,401.6 115.2,400.0 115.4,398.4 115.5,396.9 115.6,395.4 115.8,393.8 115.9,392.3 116,390.8 116.2,389.4 116.3,387.8 116.5,386.2 116.6,384.6 116.8,383.0 116.9,381.5 117.1,380.0 117.3,378.5 117.5,377.0 117.7,375.6 118,374.2 118.3,372.7 118.6,371.2 119,369.7 119.4,368.3 119.8,366.9 120.3,365.6 120.7,364.3 121.2,362.7 121.7,361.3 122.2,359.9 122.8,358.5 123.4,357.2 124.1,355.9 124.9,354.6 125.8,353.4 126.7,352.2 127.7,351.2 128.8,350.2 129.9,349.3 131.1,348.5 132.1,347.9 133.2,347.3 134.3,346.8 135.5,346.2 136.8,345.6 138.1,344.9 139.6,344.3 141,343.7 142.5,343.1 144,342.7 145.5,342.3 147,342.0 148.6,341.7 150.2,341.5 151.7,341.2 153.2,341.0 154.7,340.8 156.3,340.6 157.9,340.4 159.2,340.3 160.6,340.2 162,340.1 163.4,340.0 164.8,339.9 166.3,339.9 167.9,339.8 169.2,339.8 170.6,339.7 172.1,339.7 173.5,339.7 175,339.6 176.5,339.6 178.1,339.6 179.6,339.6 181.2,339.6 182.7,339.6 184.2,339.6 185.8,339.6 187.3,339.6 188.9,339.6 190.4,339.5 192,339.5 193.6,339.5 195.2,339.5 196.8,339.5 198.3,339.6 199.9,339.6 201.4,339.7 202.9,339.8 204.5,340.0 206.1,340.2 207.7,340.4 209.3,340.6 210.9,340.9 212.4,341.2 213.9,341.5 215.4,341.8 216.9,342.0 218.3,342.3 219.9,342.6 221.5,342.8 223,343.1 224.5,343.3 226,343.6 227.4,343.9 228.7,344.2 230,344.6 231.3,345.0 232.5,345.5 233.7,346.0 234.8,346.6 235.8,347.3 236.9,348.0 238,348.8 239,349.7 240,350.6 240.9,351.6 241.7,352.6 242.5,353.7 243.2,354.9 243.9,356.0 244.5,357.2 245.2,358.6 245.9,359.9 246.5,361.4 247.1,362.8 247.6,364.3 248.1,365.7 248.6,367.2 249.1,368.7 249.5,370.3 249.9,371.9 250.2,373.2 250.4,374.6 250.6,376.0 250.8,377.5 251,379.0 251.2,380.5 251.3,382.1 251.5,383.6 251.7,385.2 251.8,386.6 252,388.1 252.1,389.5 252.2,391.0 252.3,392.5 252.5,394.0 252.6,395.5 252.7,397.1 252.8,398.6 252.9,400.2 253,401.8 253.1,403.3 253.2,404.9 253.3,406.4 253.4,408.0 253.5,409.6 253.5,411.2 253.6,412.8 253.7,414.4 253.8,416.1 253.9,417.7 253.9,419.3 254,420.9 254.1,422.5 254.2,424.1 254.3,425.7 254.4,427.3 254.5,428.9 254.6,430.5 254.7,432.1 254.8,433.7 254.9,435.3 255,436.9 255.1,438.5 255.2,440.1 255.4,441.7 255.5,443.2 255.6,444.9 255.7,446.5 255.8,448.1 255.9,449.7 256,451.3 256.1,453.0 256.2,454.6 256.3,456.2 256.4,457.8 256.5,459.4 256.6,460.9 256.7,462.5 256.8,464.0 256.9,465.6 257,467.1 257.1,468.6 257.2,470.1 257.3,471.6 257.5,473.1 257.6,474.5 257.7,476.0 257.8,477.5 258,479.0 258.1,480.6 258.3,482.1 258.4,483.6 258.6,485.2 258.7,486.8 258.9,488.4 259,489.9 259.2,491.5 259.4,493.1 259.6,494.7 259.8,496.2 260.1,497.7 260.4,499.2 260.6,500.7 260.9,502.2 261.2,503.7 261.6,505.1 261.9,506.6 262.3,508.0 262.6,509.4 263,510.8 263.5,512.2 263.9,513.5 264.4,514.8 265,516.2 265.6,517.7 266.3,519.1 267,520.5 267.7,521.8 268.5,523.0 269.3,524.2 270.1,525.3 271.1,526.6 272.2,527.7 273.3,528.8 274.4,529.8 275.6,530.7 276.8,531.6 278.1,532.3 279.3,533.0 280.6,533.6 282,534.2 283.4,534.8 284.8,535.3 286.1,535.7 287.5,536.1 288.8,536.4 290.3,536.8 291.7,537.1 293.2,537.4 294.7,537.6 296.2,537.9 297.8,538.2 299.1,538.4 300.5,538.6 301.9,538.9 303.3,539.0 304.8,539.2 306.2,539.4 307.7,539.6 309.2,539.8 310.7,539.9 312.2,540.1 313.8,540.3 315.2,540.4 316.7,540.6 318.2,540.7 319.7,540.9 321.3,541.1 322.8,541.2 324.4,541.4 326,541.5 327.6,541.7 329.2,541.8 330.8,541.9 332.4,542.1 334,542.2 335.6,542.3 337.1,542.5 338.6,542.6 340.1,542.7 341.6,542.8 343.1,542.8 344.7,542.9 346.2,543.0 347.7,543.1 349.3,543.2 350.8,543.3 352.4,543.4 353.9,543.4 355.5,543.5 357,543.6 358.5,543.7 360.1,543.8" fill="none" stroke="#FF00FF" stroke-width="1.6" stroke-linejoin="round" stroke-dasharray="2.6,2.2"/>
<text transform="translate(84.1 354.9) scale(1.06 1.05)" font-size="9.3" fill="#FF00FF" stroke="#FF00FF" stroke-width="0.22" text-anchor="start">3x3</text>
<line x1="101" y1="351.6" x2="120.9" y2="358.4" stroke="#FF00FF" stroke-width="0.7"/>
<path d="M117.26,358.53 L120.9,358.4 L118.1,356.07" fill="none" stroke="#FF00FF" stroke-width="0.8"/>
<text transform="translate(84.6 382.9) scale(1.06 1.05)" font-size="9.3" fill="#0000FF" stroke="#0000FF" stroke-width="0.22" text-anchor="start">2x2</text>
<line x1="101.3" y1="380.5" x2="137.2" y2="397.4" stroke="#0000FF" stroke-width="0.7"/>
<path d="M133.57,397.13 L137.2,397.4 L134.68,394.78" fill="none" stroke="#0000FF" stroke-width="0.8"/>
<text transform="translate(85.2 409.2) scale(1.06 1.05)" font-size="9.3" fill="#000000" stroke="#000000" stroke-width="0.22" text-anchor="start">1x1</text>
<line x1="101.3" y1="407.4" x2="159.9" y2="431.1" stroke="#000000" stroke-width="0.7"/>
<path d="M156.26,431.03 L159.9,431.1 L157.24,428.62" fill="none" stroke="#000000" stroke-width="0.8"/>
<line x1="580.25" y1="546.75" x2="580.25" y2="321.98" stroke="#000" stroke-width="1.5"/>
<line x1="580.25" y1="525.68" x2="583.5" y2="525.68" stroke="#000" stroke-width="1.2"/>
<line x1="580.25" y1="505.36" x2="585" y2="505.36" stroke="#000" stroke-width="1.2"/>
<line x1="580.25" y1="485.04" x2="583.5" y2="485.04" stroke="#000" stroke-width="1.2"/>
<line x1="580.25" y1="464.72" x2="585" y2="464.72" stroke="#000" stroke-width="1.2"/>
<line x1="580.25" y1="444.4" x2="583.5" y2="444.4" stroke="#000" stroke-width="1.2"/>
<line x1="580.25" y1="424.08" x2="585" y2="424.08" stroke="#000" stroke-width="1.2"/>
<line x1="580.25" y1="403.76" x2="583.5" y2="403.76" stroke="#000" stroke-width="1.2"/>
<line x1="580.25" y1="383.44" x2="585" y2="383.44" stroke="#000" stroke-width="1.2"/>
<line x1="580.25" y1="363.12" x2="583.5" y2="363.12" stroke="#000" stroke-width="1.2"/>
<line x1="580.25" y1="342.8" x2="585" y2="342.8" stroke="#000" stroke-width="1.2"/>
<line x1="580.25" y1="322.48" x2="583.5" y2="322.48" stroke="#000" stroke-width="1.2"/>
<text transform="translate(576 507.96) scale(1.1 1.05)" font-size="7.2" fill="#000" stroke="#000" stroke-width="0.08" text-anchor="end">20</text>
<text transform="translate(576 467.32) scale(1.1 1.05)" font-size="7.2" fill="#000" stroke="#000" stroke-width="0.08" text-anchor="end">40</text>
<text transform="translate(576 426.68) scale(1.1 1.05)" font-size="7.2" fill="#000" stroke="#000" stroke-width="0.08" text-anchor="end">60</text>
<text transform="translate(576 386.04) scale(1.1 1.05)" font-size="7.2" fill="#000" stroke="#000" stroke-width="0.08" text-anchor="end">80</text>
<text transform="translate(576 345.4) scale(1.1 1.05)" font-size="7.2" fill="#000" stroke="#000" stroke-width="0.08" text-anchor="end">100</text>
<line x1="401.3" y1="546.75" x2="759.7" y2="546.75" stroke="#000" stroke-width="1.5"/>
<line x1="401.3" y1="546.75" x2="401.3" y2="542.2" stroke="#000" stroke-width="1.2"/>
<line x1="446.1" y1="546.75" x2="446.1" y2="542.2" stroke="#000" stroke-width="1.2"/>
<line x1="490.9" y1="546.75" x2="490.9" y2="542.2" stroke="#000" stroke-width="1.2"/>
<line x1="535.7" y1="546.75" x2="535.7" y2="542.2" stroke="#000" stroke-width="1.2"/>
<line x1="625.3" y1="546.75" x2="625.3" y2="542.2" stroke="#000" stroke-width="1.2"/>
<line x1="670.1" y1="546.75" x2="670.1" y2="542.2" stroke="#000" stroke-width="1.2"/>
<line x1="714.9" y1="546.75" x2="714.9" y2="542.2" stroke="#000" stroke-width="1.2"/>
<line x1="759.7" y1="546.75" x2="759.7" y2="542.2" stroke="#000" stroke-width="1.2"/>
<line x1="423.7" y1="546.75" x2="423.7" y2="543.7" stroke="#000" stroke-width="1.2"/>
<line x1="468.5" y1="546.75" x2="468.5" y2="543.7" stroke="#000" stroke-width="1.2"/>
<line x1="513.3" y1="546.75" x2="513.3" y2="543.7" stroke="#000" stroke-width="1.2"/>
<line x1="558.1" y1="546.75" x2="558.1" y2="543.7" stroke="#000" stroke-width="1.2"/>
<line x1="602.9" y1="546.75" x2="602.9" y2="543.7" stroke="#000" stroke-width="1.2"/>
<line x1="647.7" y1="546.75" x2="647.7" y2="543.7" stroke="#000" stroke-width="1.2"/>
<line x1="692.5" y1="546.75" x2="692.5" y2="543.7" stroke="#000" stroke-width="1.2"/>
<line x1="737.3" y1="546.75" x2="737.3" y2="543.7" stroke="#000" stroke-width="1.2"/>
<text transform="translate(401.3 557.7) scale(1.1 1.05)" font-size="7.4" fill="#000" stroke="#000" stroke-width="0.08" text-anchor="middle">-40</text>
<text transform="translate(446.1 557.7) scale(1.1 1.05)" font-size="7.4" fill="#000" stroke="#000" stroke-width="0.08" text-anchor="middle">-30</text>
<text transform="translate(490.9 557.7) scale(1.1 1.05)" font-size="7.4" fill="#000" stroke="#000" stroke-width="0.08" text-anchor="middle">-20</text>
<text transform="translate(535.7 557.7) scale(1.1 1.05)" font-size="7.4" fill="#000" stroke="#000" stroke-width="0.08" text-anchor="middle">-10</text>
<text transform="translate(580.5 557.7) scale(1.1 1.05)" font-size="7.4" fill="#000" stroke="#000" stroke-width="0.08" text-anchor="middle">0</text>
<text transform="translate(625.3 557.7) scale(1.1 1.05)" font-size="7.4" fill="#000" stroke="#000" stroke-width="0.08" text-anchor="middle">10</text>
<text transform="translate(670.1 557.7) scale(1.1 1.05)" font-size="7.4" fill="#000" stroke="#000" stroke-width="0.08" text-anchor="middle">20</text>
<text transform="translate(714.9 557.7) scale(1.1 1.05)" font-size="7.4" fill="#000" stroke="#000" stroke-width="0.08" text-anchor="middle">30</text>
<text transform="translate(759.7 557.7) scale(1.1 1.05)" font-size="7.4" fill="#000" stroke="#000" stroke-width="0.08" text-anchor="middle">40</text>
<text transform="translate(580.7 315.6) scale(1 1.05)" font-size="9.5" fill="#000" stroke="#000" stroke-width="0.22" text-anchor="middle">(%)</text>
<text transform="translate(582.2 569.4) scale(1 1.05)" font-size="9.85" fill="#000" stroke="#000" stroke-width="0.22" text-anchor="middle">Crossplane(mm)</text>
<text transform="translate(402.1 334.3) scale(1 1.05)" font-size="9.85" fill="#000" stroke="#000" stroke-width="0.22" text-anchor="start">10 MV FFF</text>
<line x1="662.5" y1="329.2" x2="685.6" y2="329.2" stroke="#000" stroke-width="1.4" stroke-dasharray="3.6,2.8"/>
<text transform="translate(687.9 333.1) scale(1 1.05)" font-size="9.75" fill="#000" stroke="#000" stroke-width="0.22" text-anchor="start">Measured</text>
<line x1="662.5" y1="341.2" x2="685.6" y2="341.2" stroke="#000" stroke-width="1.4"/>
<text transform="translate(687.9 345.1) scale(1 1.05)" font-size="9.75" fill="#000" stroke="#000" stroke-width="0.22" text-anchor="start">Simulated</text>
<path d="M487.3,545.6 488.8,545.5 490.3,545.4 491.8,545.4 493.4,545.3 494.9,545.2 496.4,545.2 497.9,545.1 499.3,545.0 500.7,544.9 502.1,544.8 503.7,544.6 505.2,544.5 506.6,544.4 508.1,544.2 509.5,544.0 510.9,543.8 512.4,543.6 513.9,543.3 515.5,543.0 517,542.7 518.6,542.3 520.1,542.0 521.6,541.6 523.2,541.1 524.7,540.6 526.2,540.2 527.8,539.6 529.3,539.1 530.7,538.4 532.1,537.8 533.5,537.1 534.7,536.3 536,535.4 537.1,534.5 538.2,533.5 539.2,532.5 540.2,531.4 541,530.2 541.8,529.0 542.6,527.7 543.2,526.3 543.9,524.9 544.5,523.5 545.1,522.0 545.6,520.7 546.2,519.3 546.6,517.8 547.1,516.4 547.5,514.9 547.9,513.4 548.3,511.9 548.7,510.4 549,509.0 549.4,507.6 549.7,506.1 550,504.7 550.3,503.2 550.6,501.7 550.9,500.2 551.1,498.7 551.4,497.2 551.6,495.7 551.9,494.1 552.1,492.5 552.3,491.0 552.5,489.4 552.6,487.8 552.8,486.2 553,484.6 553.2,483.0 553.3,481.4 553.5,479.9 553.7,478.4 553.8,476.8 554,475.3 554.1,473.7 554.2,472.1 554.4,470.5 554.5,468.8 554.6,467.3 554.7,465.9 554.9,464.3 555,462.8 555.1,461.2 555.2,459.6 555.3,458.1 555.4,456.4 555.5,454.8 555.6,453.2 555.7,451.6 555.8,450.0 555.9,448.5 555.9,446.9 556,445.3 556.1,443.8 556.2,442.2 556.2,440.6 556.3,439.0 556.4,437.5 556.4,435.9 556.5,434.3 556.6,432.8 556.6,431.2 556.7,429.7 556.8,428.1 556.8,426.6 556.9,425.0 557,423.5 557,422.0 557.1,420.5 557.2,418.9 557.3,417.4 557.3,415.9 557.4,414.4 557.5,412.9 557.6,411.4 557.7,409.9 557.7,408.3 557.8,406.8 557.9,405.2 558,403.7 558,402.1 558.1,400.6 558.2,399.1 558.3,397.5 558.4,396.0 558.5,394.5 558.6,393.0 558.8,391.6 558.9,390.0 559.1,388.4 559.2,386.9 559.4,385.3 559.6,383.8 559.8,382.3 560,380.8 560.2,379.4 560.5,377.9 560.7,376.5 561,375.0 561.3,373.5 561.6,372.0 561.9,370.5 562.2,369.1 562.6,367.7 563,366.3 563.4,364.9 563.8,363.6 564.3,362.3 564.8,360.9 565.3,359.7 565.9,358.4 566.4,357.2 567,356.0 567.7,354.7 568.4,353.5 569.2,352.2 570,351.1 570.7,349.9 571.5,348.9 572.4,347.7 573.2,346.6 574.1,345.7 575,344.8 576.1,344.1 577.2,343.4 578.3,343.0 579.3,342.8 580.5,342.8 581.6,343.0 582.9,343.3 584.2,343.8 585.4,344.4 586.4,345.3 587.4,346.3 588.2,347.4 589.1,348.7 589.9,349.9 590.6,351.0 591.4,352.2 592,353.4 592.7,354.7 593.3,355.9 593.9,357.2 594.5,358.6 595.1,360.1 595.6,361.6 596.1,363.1 596.6,364.6 597.1,366.2 597.5,367.6 597.8,369.0 598.1,370.4 598.5,371.9 598.7,373.3 599,374.8 599.3,376.3 599.6,377.8 599.8,379.3 600.1,380.8 600.3,382.3 600.5,383.9 600.7,385.4 600.9,387.0 601.1,388.5 601.3,390.0 601.4,391.4 601.5,392.8 601.7,394.2 601.8,395.7 601.9,397.1 602,398.6 602.1,400.2 602.2,401.7 602.3,403.1 602.4,404.6 602.5,406.0 602.6,407.5 602.6,409.0 602.7,410.5 602.8,412.1 602.8,413.6 602.9,415.2 603,416.8 603,418.4 603.1,420.0 603.2,421.5 603.3,422.9 603.3,424.4 603.4,425.9 603.5,427.5 603.5,429.1 603.6,430.6 603.7,432.2 603.7,433.8 603.8,435.4 603.9,436.9 603.9,438.5 604,440.0 604.1,441.5 604.2,443.0 604.2,444.4 604.3,446.0 604.4,447.6 604.5,449.2 604.6,450.7 604.7,452.2 604.8,453.7 604.9,455.2 605,456.7 605,458.2 605.1,459.7 605.3,461.2 605.4,462.7 605.5,464.2 605.6,465.7 605.7,467.3 605.8,468.8 606,470.4 606.1,471.9 606.2,473.4 606.4,475.0 606.5,476.5 606.6,478.0 606.8,479.5 606.9,481.0 607.1,482.5 607.2,484.0 607.4,485.5 607.5,487.0 607.7,488.5 607.8,490.0 608,491.5 608.2,493.0 608.4,494.4 608.5,495.8 608.7,497.2 608.9,498.8 609.2,500.3 609.4,501.8 609.6,503.3 609.9,504.8 610.1,506.2 610.4,507.7 610.7,509.1 611,510.4 611.3,512.0 611.6,513.5 612,515.0 612.4,516.5 612.8,517.9 613.2,519.3 613.7,520.6 614.2,521.9 614.8,523.2 615.4,524.4 616.1,525.5 616.8,526.7 617.5,528.0 618.3,529.2 619.1,530.5 619.9,531.7 620.8,532.8 621.8,533.8 622.8,534.8 623.9,535.8 625,536.6 626.2,537.5 627.4,538.2 628.7,538.9 630,539.5 631.4,540.1 632.8,540.6 634.3,541.1 635.6,541.5 636.9,541.9 638.3,542.2 639.7,542.5 641.2,542.8 642.6,543.1 644,543.3 645.5,543.6 646.9,543.8 648.2,544.0 649.6,544.1 651,544.3 652.4,544.4 653.8,544.5 655.2,544.7 656.7,544.8 658.1,544.9 659.6,545.0 661.2,545.1 662.7,545.1 664.2,545.2 665.7,545.3 667.2,545.3 668.8,545.4" fill="none" stroke="#000000" stroke-width="1.6" stroke-linejoin="round"/>
<path d="M487.3,545.6 488.8,545.5 490.3,545.4 491.8,545.4 493.4,545.3 494.9,545.2 496.4,545.2 497.9,545.1 499.3,545.0 500.7,544.9 502.1,544.8 503.7,544.6 505.2,544.5 506.6,544.4 508.1,544.2 509.5,544.0 510.9,543.8 512.4,543.6 513.9,543.3 515.5,543.0 517,542.7 518.6,542.3 520.1,542.0 521.6,541.6 523.2,541.1 524.7,540.6 526.2,540.2 527.8,539.6 529.3,539.1 530.7,538.4 532.1,537.8 533.5,537.1 534.7,536.3 535.9,535.4 537.1,534.5 538.2,533.5 539.2,532.5 540.2,531.4 541,530.2 541.8,529.0 542.6,527.7 543.3,526.3 544,524.9 544.6,523.5 545.2,522.0 545.8,520.7 546.4,519.3 546.9,517.8 547.4,516.4 547.9,514.9 548.4,513.4 548.8,511.9 549.3,510.4 549.7,509.0 550,507.6 550.4,506.1 550.8,504.7 551.1,503.2 551.4,501.7 551.7,500.2 552,498.7 552.3,497.2 552.5,495.7 552.8,494.1 553,492.5 553.2,491.0 553.4,489.4 553.6,487.8 553.7,486.2 553.9,484.6 554.1,483.0 554.2,481.4 554.4,479.9 554.6,478.4 554.7,476.8 554.9,475.3 555,473.7 555.1,472.1 555.3,470.5 555.4,468.8 555.5,467.3 555.6,465.9 555.8,464.3 555.9,462.8 556,461.2 556.1,459.6 556.2,458.1 556.3,456.4 556.4,454.8 556.5,453.2 556.6,451.6 556.7,450.0 556.8,448.5 556.8,446.9 556.9,445.3 557,443.8 557.1,442.2 557.1,440.6 557.2,439.0 557.3,437.5 557.3,435.9 557.4,434.3 557.5,432.8 557.5,431.2 557.6,429.7 557.7,428.1 557.7,426.6 557.8,425.0 557.9,423.5 557.9,422.0 558,420.5 558.1,418.9 558.2,417.4 558.2,415.9 558.3,414.4 558.4,412.9 558.5,411.4 558.6,409.9 558.6,408.3 558.7,406.8 558.8,405.2 558.9,403.7 558.9,402.1 559,400.6 559.1,399.1 559.2,397.5 559.3,396.0 559.4,394.5 559.5,393.0 559.7,391.6 559.8,390.0 560,388.4 560.1,386.9 560.3,385.3 560.5,383.8 560.7,382.3 560.9,380.8 561.1,379.4 561.4,377.9 561.6,376.5 561.9,375.0 562.2,373.5 562.5,372.0 562.8,370.5 563.1,369.1 563.5,367.7 563.9,366.3 564.3,364.9 564.8,363.4 565.3,361.8 565.9,360.3 566.5,358.8 567.1,357.4 567.7,356.0 568.3,354.7 569,353.5 569.6,352.2 570.2,351.1 570.9,349.9 571.6,348.9 572.4,347.7 573.2,346.6 574.1,345.7 575,344.8 576.1,344.0 577.2,343.4 578.3,343.0 579.3,342.8 580.5,342.8 581.6,343.0 582.9,343.3 584.2,343.8 585.4,344.4 586.4,345.3 587.3,346.3 588.1,347.4 588.8,348.7 589.5,349.9 590.2,351.3 590.7,352.7 591.2,354.2 591.7,355.7 592.2,357.2 592.7,358.7 593.2,360.1 593.7,361.6 594.2,363.1 594.7,364.6 595.2,366.2 595.5,367.6 595.9,369.0 596.2,370.4 596.5,371.9 596.8,373.3 597.1,374.8 597.4,376.3 597.7,377.8 597.9,379.3 598.2,380.8 598.4,382.3 598.6,383.9 598.8,385.4 599,387.0 599.2,388.5 599.4,390.0 599.5,391.4 599.6,392.8 599.8,394.2 599.9,395.7 600,397.1 600.1,398.6 600.2,400.2 600.3,401.7 600.4,403.1 600.5,404.6 600.6,406.0 600.7,407.5 600.7,409.0 600.8,410.5 600.9,412.1 600.9,413.6 601,415.2 601.1,416.8 601.1,418.4 601.2,420.0 601.3,421.5 601.4,422.9 601.4,424.4 601.5,425.9 601.6,427.5 601.6,429.1 601.7,430.6 601.8,432.2 601.8,433.8 601.9,435.4 602,436.9 602,438.5 602.1,440.0 602.2,441.5 602.3,443.0 602.3,444.4 602.4,446.0 602.5,447.6 602.6,449.2 602.7,450.7 602.8,452.2 602.9,453.7 603,455.2 603.1,456.7 603.1,458.2 603.2,459.7 603.4,461.2 603.5,462.7 603.6,464.2 603.7,465.7 603.8,467.3 603.9,468.8 604.1,470.4 604.2,471.9 604.3,473.4 604.5,475.0 604.6,476.5 604.7,478.0 604.9,479.5 605,481.0 605.2,482.5 605.3,484.0 605.5,485.5 605.6,487.0 605.7,488.5 605.9,490.0 606,491.5 606.2,493.0 606.4,494.4 606.6,495.8 606.8,497.2 607.1,498.8 607.4,500.3 607.7,501.8 608,503.3 608.3,504.8 608.7,506.2 609,507.7 609.4,509.1 609.8,510.4 610.2,512.0 610.7,513.5 611.2,515.1 611.7,516.5 612.2,518.0 612.7,519.3 613.3,520.6 613.9,521.9 614.6,523.2 615.3,524.4 616,525.5 616.8,526.7 617.5,527.9 618.3,529.2 619.1,530.5 619.9,531.7 620.8,532.8 621.8,533.8 622.8,534.8 623.9,535.8 625,536.6 626.2,537.5 627.4,538.2 628.7,538.9 630,539.5 631.4,540.1 632.8,540.6 634.3,541.1 635.6,541.5 636.9,541.9 638.3,542.2 639.7,542.5 641.2,542.8 642.6,543.1 644,543.3 645.5,543.6 646.9,543.8 648.2,544.0 649.6,544.1 651,544.3 652.4,544.4 653.8,544.5 655.2,544.7 656.7,544.8 658.1,544.9 659.6,545.0 661.2,545.1 662.7,545.1 664.2,545.2 665.7,545.3 667.2,545.3 668.8,545.4" fill="none" stroke="#000000" stroke-width="1.6" stroke-linejoin="round" stroke-dasharray="2.6,2.2"/>
<path d="M442.5,545.0 444.1,544.9 445.7,544.7 447.3,544.6 448.9,544.5 450.5,544.3 452.1,544.2 453.7,544.1 455.3,543.9 456.9,543.8 458.4,543.7 460,543.6 461.6,543.4 463.1,543.3 464.7,543.2 466.2,543.1 467.7,543.0 469.2,542.9 470.8,542.7 472.3,542.6 473.7,542.5 475.2,542.3 476.8,542.2 478.3,542.0 479.8,541.9 481.4,541.7 482.9,541.5 484.4,541.3 485.8,541.1 487.3,540.9 488.7,540.7 490.2,540.5 491.6,540.2 493.1,539.9 494.5,539.7 495.9,539.4 497.2,539.0 498.5,538.7 499.9,538.3 501.2,537.9 502.5,537.5 503.7,537.0 504.9,536.4 506.1,535.8 507.3,535.1 508.5,534.4 509.7,533.5 510.8,532.6 511.8,531.7 512.9,530.8 514,529.6 515,528.4 516,527.2 516.9,525.8 517.8,524.5 518.4,523.3 519.1,522.1 519.7,520.9 520.2,519.6 520.8,518.3 521.3,516.9 521.8,515.5 522.2,514.2 522.6,512.8 523,511.4 523.4,510.0 523.7,508.5 524,507.0 524.3,505.5 524.6,504.0 524.9,502.5 525.3,501.0 525.5,499.5 525.8,498.0 526.1,496.4 526.4,494.9 526.7,493.3 526.9,491.7 527.2,490.2 527.4,488.6 527.6,487.1 527.9,485.6 528.1,484.1 528.2,482.6 528.4,481.1 528.6,479.7 528.8,478.2 528.9,476.7 529.1,475.2 529.3,473.6 529.4,472.0 529.6,470.6 529.7,469.2 529.9,467.7 530,466.3 530.2,464.8 530.3,463.3 530.4,461.8 530.6,460.2 530.7,458.7 530.8,457.2 531,455.6 531.1,454.1 531.2,452.5 531.3,451.0 531.4,449.4 531.5,447.8 531.6,446.2 531.7,444.6 531.8,443.0 531.9,441.4 532,439.8 532.1,438.1 532.2,436.5 532.3,434.9 532.4,433.3 532.5,431.7 532.6,430.2 532.7,428.6 532.8,427.0 532.9,425.4 532.9,423.8 533,422.3 533.1,420.7 533.2,419.1 533.3,417.6 533.4,416.0 533.5,414.5 533.7,412.9 533.8,411.4 533.9,409.9 534,408.3 534.2,406.8 534.3,405.3 534.4,403.8 534.6,402.2 534.7,400.7 534.9,399.2 535,397.7 535.2,396.2 535.4,394.8 535.5,393.3 535.7,391.9 535.9,390.6 536.2,388.9 536.5,387.2 536.7,385.6 537,384.0 537.3,382.4 537.7,380.9 538,379.4 538.3,377.9 538.7,376.5 539.2,374.9 539.6,373.4 540.1,371.9 540.6,370.5 541.2,369.0 541.8,367.6 542.3,366.3 542.9,365.0 543.5,363.6 544.2,362.3 544.8,361.1 545.6,359.8 546.3,358.6 547.2,357.4 548.2,356.2 549.2,355.1 550.3,354.0 551.4,352.9 552.6,351.9 553.8,351.0 555.1,350.1 556.5,349.3 557.9,348.5 559.3,347.7 560.7,347.1 562.2,346.5 563.7,345.9 565.2,345.4 566.8,345.0 568.3,344.6 569.7,344.2 571,343.9 572.4,343.6 573.6,343.4 574.8,343.2 576,343.0 577.5,342.9 579,342.8 580.5,342.8 581.7,342.8 583.1,342.8 584.4,342.9 585.8,343.0 587.2,343.2 588.7,343.5 590.2,343.9 591.7,344.3 593.2,344.8 594.7,345.3 596.2,345.8 597.5,346.4 598.8,347.0 600.1,347.7 601.4,348.4 602.6,349.1 603.8,349.9 605,350.7 606.2,351.6 607.3,352.5 608.5,353.5 609.5,354.5 610.5,355.6 611.5,356.8 612.4,358.1 613.2,359.4 614,360.7 614.7,362.1 615.4,363.5 616,364.8 616.6,366.0 617.1,367.3 617.6,368.6 618.1,369.9 618.6,371.3 619,372.7 619.5,374.1 619.9,375.5 620.3,376.9 620.7,378.4 621.1,379.9 621.5,381.4 621.8,382.9 622.2,384.5 622.5,385.9 622.7,387.3 623,388.7 623.2,390.1 623.5,391.6 623.7,393.1 623.9,394.6 624.2,396.1 624.4,397.7 624.6,399.1 624.8,400.5 625,402.0 625.2,403.6 625.4,405.1 625.6,406.7 625.8,408.3 625.9,409.8 626.1,411.4 626.3,412.9 626.5,414.5 626.6,416.0 626.8,417.5 627,419.0 627.2,420.4 627.3,421.9 627.5,423.4 627.7,424.8 627.8,426.3 628,427.7 628.1,429.2 628.3,430.7 628.4,432.2 628.6,433.7 628.7,435.1 628.8,436.6 628.9,438.1 629,439.6 629.1,441.1 629.2,442.6 629.4,444.1 629.5,445.6 629.6,447.1 629.7,448.6 629.8,450.1 629.9,451.6 630,453.2 630.1,454.7 630.2,456.3 630.3,457.8 630.4,459.4 630.5,460.9 630.7,462.5 630.8,464.0 630.9,465.6 631,467.2 631.1,468.8 631.2,470.3 631.4,471.9 631.5,473.5 631.6,475.1 631.7,476.6 631.9,478.2 632,479.8 632.1,481.4 632.3,483.0 632.4,484.6 632.6,486.1 632.7,487.6 632.9,489.1 633.1,490.7 633.3,492.2 633.5,493.8 633.8,495.3 634,496.8 634.2,498.3 634.5,499.8 634.8,501.2 635,502.6 635.3,504.0 635.6,505.4 635.9,506.9 636.3,508.4 636.6,509.8 637,511.2 637.4,512.6 637.8,513.9 638.3,515.2 638.7,516.5 639.3,517.9 639.9,519.2 640.5,520.5 641.1,521.8 641.8,523.0 642.5,524.2 643.2,525.3 644.1,526.5 645,527.6 646,528.6 647,529.6 648.1,530.6 649.3,531.5 650.5,532.3 651.7,533.2 653,534.0 654.4,534.7 655.8,535.4 657,536.0 658.3,536.6 659.6,537.1 661,537.6 662.4,538.1 663.7,538.5 665.2,538.9 666.6,539.2 668,539.5 669.4,539.8 670.9,540.1 672.3,540.3 673.8,540.5 675.3,540.7 676.8,540.9 678.2,541.1 679.7,541.3 681.1,541.5 682.6,541.6 684,541.8 685.5,541.9 687,542.0 688.4,542.2 689.8,542.3 691.3,542.5 692.8,542.7 694.2,542.8 695.6,543.0 697.1,543.1 698.5,543.3 700,543.4 701.5,543.6 703,543.7 704.6,543.8 706.1,543.9 707.7,544.0 709.3,544.1 710.9,544.2 712.4,544.3 714,544.4" fill="none" stroke="#0000FF" stroke-width="1.6" stroke-linejoin="round"/>
<path d="M442.5,545.0 444.1,544.9 445.7,544.7 447.3,544.6 448.9,544.5 450.5,544.3 452.1,544.2 453.7,544.1 455.3,543.9 456.9,543.8 458.4,543.7 460,543.6 461.6,543.4 463.1,543.3 464.7,543.2 466.2,543.1 467.7,543.0 469.2,542.9 470.8,542.7 472.3,542.6 473.7,542.5 475.2,542.3 476.8,542.2 478.3,542.0 479.8,541.9 481.4,541.7 482.9,541.5 484.4,541.3 485.8,541.1 487.3,540.9 488.7,540.7 490.2,540.5 491.6,540.2 493.1,539.9 494.5,539.7 495.9,539.4 497.2,539.0 498.5,538.7 499.9,538.3 501.2,537.9 502.5,537.5 503.7,537.0 504.9,536.4 506.1,535.8 507.3,535.1 508.5,534.4 509.7,533.5 510.8,532.6 511.8,531.7 512.9,530.8 513.8,529.8 514.7,528.8 515.5,527.8 516.3,526.7 517.1,525.6 517.8,524.5 518.5,523.3 519.2,522.1 519.8,520.9 520.4,519.6 521,518.3 521.6,516.9 522.1,515.5 522.6,514.2 523,512.8 523.4,511.4 523.8,510.0 524.2,508.5 524.6,507.0 524.9,505.5 525.3,504.0 525.6,502.5 525.9,501.0 526.2,499.5 526.5,498.0 526.8,496.4 527.1,494.9 527.4,493.3 527.6,491.7 527.9,490.2 528.1,488.6 528.3,487.1 528.6,485.6 528.8,484.1 528.9,482.6 529.1,481.1 529.3,479.7 529.5,478.2 529.6,476.7 529.8,475.2 530,473.6 530.1,472.0 530.3,470.6 530.4,469.2 530.6,467.7 530.7,466.3 530.9,464.8 531,463.3 531.1,461.8 531.3,460.2 531.4,458.7 531.5,457.2 531.7,455.6 531.8,454.1 531.9,452.5 532,451.0 532.1,449.4 532.2,447.8 532.3,446.2 532.4,444.6 532.5,443.0 532.6,441.4 532.7,439.8 532.8,438.1 532.9,436.5 533,434.9 533.1,433.3 533.2,431.7 533.3,430.2 533.4,428.6 533.5,427.0 533.6,425.4 533.6,423.8 533.7,422.3 533.8,420.7 533.9,419.1 534,417.6 534.1,416.0 534.2,414.5 534.4,412.9 534.5,411.4 534.6,409.9 534.7,408.3 534.9,406.8 535,405.3 535.1,403.8 535.3,402.2 535.4,400.7 535.6,399.2 535.7,397.7 535.9,396.2 536.1,394.8 536.2,393.3 536.4,391.9 536.6,390.6 536.9,388.9 537.2,387.2 537.4,385.6 537.7,384.0 538,382.4 538.4,380.9 538.7,379.4 539,377.9 539.4,376.5 539.9,374.9 540.3,373.4 540.8,371.9 541.3,370.5 541.9,369.0 542.5,367.6 543.1,366.3 543.6,365.0 544.2,363.6 544.9,362.3 545.6,361.1 546.3,359.8 547,358.6 547.9,357.4 548.8,356.2 549.7,355.1 550.7,354.0 551.8,352.9 552.9,351.9 554.1,351.0 555.3,350.1 556.6,349.3 557.9,348.5 559.3,347.7 560.7,347.1 562.2,346.5 563.7,345.9 565.2,345.4 566.8,345.0 568.3,344.6 569.7,344.2 571,343.9 572.4,343.6 573.6,343.4 574.8,343.2 576,343.0 577.5,342.9 579,342.8 580.5,342.8 581.7,342.8 583.1,342.8 584.4,342.9 585.8,343.0 587.2,343.2 588.7,343.5 590.2,343.9 591.7,344.3 593.2,344.8 594.7,345.3 596.2,345.8 597.5,346.4 598.7,347.0 600,347.7 601.2,348.4 602.4,349.1 603.5,349.9 604.5,350.7 605.6,351.6 606.6,352.5 607.5,353.5 608.4,354.5 609.3,355.6 610.2,356.8 611,358.1 611.7,359.4 612.5,360.7 613.2,362.1 613.8,363.5 614.4,364.8 615,366.0 615.5,367.3 616,368.6 616.5,369.9 617,371.3 617.4,372.7 617.9,374.1 618.3,375.5 618.7,376.9 619.1,378.4 619.5,379.9 619.9,381.4 620.2,382.9 620.6,384.5 620.9,385.9 621.1,387.3 621.4,388.7 621.6,390.1 621.9,391.6 622.1,393.1 622.3,394.6 622.6,396.1 622.8,397.7 623,399.1 623.2,400.5 623.4,402.0 623.6,403.6 623.8,405.1 624,406.7 624.2,408.3 624.3,409.8 624.5,411.4 624.7,412.9 624.9,414.5 625,416.0 625.2,417.5 625.4,419.0 625.6,420.4 625.7,421.9 625.9,423.4 626.1,424.8 626.2,426.3 626.4,427.7 626.5,429.2 626.7,430.7 626.8,432.2 627,433.7 627.1,435.1 627.2,436.6 627.3,438.1 627.4,439.6 627.5,441.1 627.6,442.6 627.8,444.1 627.9,445.6 628,447.1 628.1,448.6 628.2,450.1 628.3,451.6 628.4,453.2 628.5,454.7 628.6,456.3 628.7,457.8 628.8,459.4 628.9,460.9 629.1,462.5 629.2,464.0 629.3,465.6 629.4,467.2 629.5,468.8 629.6,470.3 629.8,471.9 629.9,473.5 630,475.1 630.1,476.6 630.2,478.2 630.4,479.8 630.5,481.4 630.6,483.0 630.8,484.6 630.9,486.1 631.1,487.6 631.3,489.1 631.5,490.7 631.8,492.2 632,493.8 632.2,495.3 632.5,496.8 632.7,498.3 633,499.8 633.3,501.2 633.6,502.6 633.9,504.0 634.3,505.4 634.7,506.9 635.1,508.4 635.6,509.8 636,511.2 636.5,512.6 637,513.9 637.6,515.2 638.1,516.5 638.8,517.9 639.5,519.2 640.2,520.5 640.9,521.8 641.6,523.0 642.4,524.2 643.2,525.3 644.1,526.5 645,527.6 646,528.6 647,529.6 648.1,530.6 649.3,531.5 650.5,532.3 651.7,533.2 653,534.0 654.4,534.7 655.8,535.4 657,536.0 658.3,536.6 659.6,537.1 661,537.6 662.4,538.1 663.7,538.5 665.2,538.9 666.6,539.2 668,539.5 669.4,539.8 670.9,540.1 672.3,540.3 673.8,540.5 675.3,540.7 676.8,540.9 678.2,541.1 679.7,541.3 681.1,541.5 682.6,541.6 684,541.8 685.5,541.9 687,542.0 688.4,542.2 689.8,542.3 691.3,542.5 692.8,542.7 694.2,542.8 695.6,543.0 697.1,543.1 698.5,543.3 700,543.4 701.5,543.6 703,543.7 704.6,543.8 706.1,543.9 707.7,544.0 709.3,544.1 710.9,544.2 712.4,544.3 714,544.4" fill="none" stroke="#0000FF" stroke-width="1.6" stroke-linejoin="round" stroke-dasharray="2.6,2.2"/>
<path d="M401.3,544.4 402.8,544.3 404.3,544.2 405.8,544.1 407.3,544.0 408.8,543.9 410.3,543.8 411.8,543.7 413.3,543.6 414.8,543.5 416.3,543.4 417.7,543.3 419.2,543.2 420.7,543.1 422.2,543.0 423.7,543.0 425.3,542.9 426.9,542.8 428.5,542.7 430.1,542.6 431.8,542.5 433.4,542.4 435,542.3 436.6,542.2 438.2,542.1 439.7,542.0 441.3,541.9 442.8,541.8 444.2,541.7 445.7,541.5 447.2,541.4 448.7,541.2 450.2,541.0 451.7,540.8 453.1,540.6 454.5,540.4 455.9,540.2 457.3,540.0 458.6,539.7 460,539.5 461.6,539.2 463.1,538.9 464.7,538.6 466.2,538.2 467.7,537.8 469.2,537.5 470.6,537.1 472.1,536.7 473.6,536.2 475.1,535.7 476.5,535.2 478,534.7 479.4,534.2 480.7,533.6 481.9,533.0 483.3,532.2 484.6,531.4 485.9,530.5 487.1,529.6 488.2,528.5 489.2,527.5 490.1,526.4 491.1,525.3 491.9,524.1 492.8,522.9 493.6,521.6 494.3,520.4 495,519.1 495.7,517.8 496.3,516.5 496.9,515.1 497.5,513.7 498.1,512.3 498.5,510.9 498.9,509.6 499.3,508.2 499.7,506.8 500,505.3 500.3,503.8 500.6,502.3 500.9,500.8 501.2,499.3 501.5,497.9 501.7,496.5 501.9,495.0 502.1,493.6 502.3,492.1 502.5,490.7 502.7,489.2 502.9,487.7 503.1,486.1 503.3,484.6 503.4,483.0 503.6,481.6 503.7,480.1 503.9,478.6 504,477.1 504.1,475.5 504.3,474.0 504.4,472.4 504.5,470.8 504.6,469.3 504.7,467.7 504.9,466.1 505,464.6 505.1,463.0 505.2,461.5 505.4,459.9 505.5,458.4 505.6,456.9 505.7,455.4 505.9,453.8 506,452.3 506.1,450.8 506.2,449.3 506.4,447.8 506.5,446.3 506.6,444.8 506.8,443.3 506.9,441.8 507,440.3 507.2,438.8 507.3,437.2 507.5,435.7 507.6,434.1 507.8,432.6 507.9,431.1 508.1,429.6 508.2,428.1 508.4,426.6 508.5,425.1 508.7,423.6 508.8,422.0 509,420.5 509.1,419.0 509.2,417.4 509.4,415.9 509.5,414.4 509.7,412.8 509.8,411.3 510,409.8 510.1,408.3 510.3,406.7 510.4,405.2 510.6,403.8 510.8,402.2 511,400.7 511.2,399.2 511.4,397.6 511.6,396.1 511.9,394.6 512.1,393.1 512.3,391.7 512.6,390.2 512.8,388.9 513.1,387.5 513.4,386.0 513.7,384.6 514,383.2 514.3,381.8 514.7,380.5 515,379.2 515.4,377.8 515.8,376.5 516.3,375.1 516.7,373.6 517.2,372.2 517.7,370.8 518.2,369.4 518.8,368.1 519.4,366.8 520.1,365.5 520.7,364.2 521.5,363.0 522.2,361.9 523.1,360.8 523.9,359.7 524.8,358.6 525.8,357.5 526.8,356.5 527.9,355.5 529,354.6 530.2,353.8 531.4,353.0 532.7,352.2 534.1,351.6 535.4,350.9 536.8,350.3 538.2,349.7 539.7,349.1 541.1,348.5 542.6,348.0 544.1,347.4 545.7,346.9 547.2,346.5 548.6,346.1 550,345.7 551.4,345.4 552.8,345.1 554.2,344.8 555.7,344.5 557.1,344.2 558.6,344.0 560.1,343.7 561.7,343.5 563.2,343.3 564.7,343.2 566.3,343.0 567.9,342.9 569.4,342.8 571,342.8 572.5,342.7 574.1,342.7 575.6,342.7 577.2,342.8 578.9,342.8 580.5,342.8 582,342.8 583.6,342.8 585.2,342.9 586.8,342.9 588.4,342.9 590,343.0 591.6,343.0 593.2,343.1 594.7,343.3 596.2,343.4 597.7,343.6 599.1,343.8 600.6,344.1 602,344.4 603.3,344.7 604.7,345.0 606,345.3 607.4,345.6 608.8,346.0 610.2,346.3 611.5,346.6 612.9,346.9 614.2,347.2 615.5,347.6 616.8,348.1 618.1,348.6 619.3,349.2 620.6,349.8 621.8,350.5 623,351.1 624.2,351.8 625.3,352.6 626.7,353.5 627.9,354.4 629.2,355.3 630.4,356.4 631.6,357.4 632.6,358.4 633.6,359.5 634.6,360.6 635.6,361.8 636.5,362.9 637.4,364.1 638.3,365.4 639.2,366.7 640,368.0 640.8,369.4 641.6,370.8 642.3,372.3 642.9,373.5 643.4,374.9 643.9,376.3 644.3,377.7 644.8,379.1 645.2,380.5 645.5,382.0 645.9,383.4 646.3,384.9 646.6,386.4 646.9,387.9 647.2,389.4 647.4,390.9 647.7,392.4 647.9,394.0 648.1,395.6 648.3,397.0 648.5,398.4 648.7,399.9 648.9,401.3 649,402.8 649.2,404.3 649.3,405.8 649.5,407.3 649.6,408.8 649.8,410.4 649.9,411.9 650.1,413.4 650.2,414.9 650.4,416.4 650.5,417.9 650.7,419.4 650.8,420.9 651,422.4 651.1,424.0 651.3,425.5 651.4,427.1 651.6,428.6 651.7,430.2 651.9,431.7 652,433.2 652.2,434.8 652.3,436.3 652.4,437.9 652.6,439.5 652.7,441.1 652.8,442.6 653,444.2 653.1,445.8 653.2,447.4 653.4,448.9 653.5,450.5 653.7,452.1 653.8,453.6 653.9,455.2 654.1,456.7 654.2,458.3 654.3,459.9 654.5,461.4 654.6,463.0 654.7,464.6 654.9,466.1 655,467.7 655.2,469.3 655.3,470.8 655.5,472.4 655.6,474.0 655.8,475.5 655.9,477.1 656.1,478.7 656.3,480.3 656.4,481.9 656.6,483.4 656.8,485.0 656.9,486.6 657.1,488.1 657.3,489.6 657.6,491.1 657.8,492.8 658,494.4 658.3,496.1 658.5,497.7 658.8,499.3 659.1,500.9 659.4,502.5 659.7,504.0 660,505.5 660.3,507.0 660.7,508.4 661.1,510.0 661.6,511.4 662,512.9 662.5,514.3 663,515.7 663.5,517.0 664.1,518.3 664.7,519.6 665.4,520.9 666.1,522.1 666.8,523.3 667.6,524.5 668.4,525.6 669.2,526.7 670.1,527.7 671.2,528.8 672.3,529.7 673.4,530.6 674.7,531.5 675.9,532.3 677.3,533.0 678.6,533.6 679.9,534.2 681.3,534.7 682.7,535.2 684.2,535.6 685.6,536.0 687.1,536.4 688.6,536.8 690,537.2 691.5,537.6 693,537.9 694.5,538.2 696.1,538.5 697.6,538.8 699.2,539.1 700.6,539.3 702,539.6 703.4,539.8 704.9,540.0 706.3,540.2 707.8,540.4 709.3,540.6 710.8,540.8 712.4,541.0 714,541.1 715.4,541.3 716.8,541.4 718.3,541.5 719.9,541.6 721.4,541.8 723,541.9 724.6,542.0 726.2,542.1 727.8,542.2 729.4,542.3 731,542.4 732.6,542.5 734.2,542.6 735.8,542.7 737.3,542.7 738.9,542.8 740.5,542.9 742,543.0 743.6,543.1 745.2,543.2 746.8,543.2 748.3,543.3 749.9,543.4 751.4,543.4 753,543.5 754.6,543.6 756.1,543.6 757.7,543.7 759.3,543.8" fill="none" stroke="#FF00FF" stroke-width="1.6" stroke-linejoin="round"/>
<path d="M401.3,544.4 402.8,544.3 404.3,544.2 405.8,544.1 407.3,544.0 408.8,543.9 410.3,543.8 411.8,543.7 413.3,543.6 414.8,543.5 416.3,543.4 417.7,543.3 419.2,543.2 420.7,543.1 422.2,543.0 423.7,543.0 425.3,542.9 426.9,542.8 428.5,542.7 430.1,542.6 431.8,542.5 433.4,542.4 435,542.3 436.6,542.2 438.2,542.1 439.7,542.0 441.3,541.9 442.8,541.8 444.2,541.7 445.7,541.5 447.2,541.4 448.7,541.2 450.2,541.0 451.7,540.8 453.1,540.6 454.5,540.4 455.9,540.2 457.3,540.0 458.6,539.7 460,539.5 461.6,539.2 463.1,538.9 464.7,538.6 466.2,538.2 467.7,537.8 469.2,537.5 470.6,537.1 472.1,536.7 473.6,536.2 475.1,535.7 476.5,535.2 478,534.7 479.4,534.2 480.7,533.6 481.9,533.0 483.3,532.2 484.6,531.4 485.9,530.5 487.1,529.6 488.2,528.5 489.2,527.5 490.2,526.4 491.1,525.3 492,524.1 492.9,522.9 493.7,521.6 494.4,520.4 495.2,519.1 495.9,517.8 496.6,516.5 497.2,515.1 497.8,513.7 498.4,512.3 498.9,510.9 499.3,509.6 499.7,508.2 500.1,506.8 500.5,505.3 500.8,503.8 501.2,502.3 501.5,500.8 501.8,499.3 502.1,497.9 502.3,496.5 502.5,495.0 502.8,493.6 503,492.1 503.2,490.7 503.3,489.2 503.5,487.7 503.7,486.1 503.9,484.6 504,483.0 504.2,481.6 504.3,480.1 504.5,478.6 504.6,477.1 504.7,475.5 504.9,474.0 505,472.4 505.1,470.8 505.2,469.3 505.3,467.7 505.5,466.1 505.6,464.6 505.7,463.0 505.8,461.5 506,459.9 506.1,458.4 506.2,456.9 506.3,455.4 506.5,453.8 506.6,452.3 506.7,450.8 506.8,449.3 507,447.8 507.1,446.3 507.2,444.8 507.4,443.3 507.5,441.8 507.6,440.3 507.8,438.8 507.9,437.2 508.1,435.7 508.2,434.1 508.4,432.6 508.5,431.1 508.7,429.6 508.8,428.1 509,426.6 509.1,425.1 509.3,423.6 509.4,422.0 509.6,420.5 509.7,419.0 509.8,417.4 510,415.9 510.1,414.4 510.3,412.8 510.4,411.3 510.6,409.8 510.7,408.3 510.9,406.7 511,405.2 511.2,403.8 511.4,402.2 511.6,400.7 511.8,399.2 512,397.6 512.2,396.1 512.5,394.6 512.7,393.1 512.9,391.7 513.2,390.2 513.4,388.9 513.7,387.5 514,386.0 514.3,384.6 514.6,383.2 514.9,381.8 515.3,380.5 515.6,379.2 516,377.8 516.4,376.5 516.9,375.1 517.3,373.6 517.8,372.2 518.3,370.8 518.8,369.4 519.4,368.1 520,366.8 520.7,365.5 521.4,364.2 522.1,363.0 522.9,361.9 523.7,360.8 524.5,359.7 525.4,358.6 526.4,357.5 527.3,356.5 528.4,355.6 529.4,354.6 530.5,353.8 531.7,353.0 533,352.2 534.3,351.6 535.6,350.9 537,350.3 538.3,349.7 539.7,349.1 541.2,348.5 542.7,348.0 544.2,347.4 545.7,346.9 547.2,346.5 548.6,346.1 550,345.7 551.4,345.4 552.8,345.1 554.2,344.8 555.7,344.5 557.1,344.2 558.6,344.0 560.1,343.7 561.7,343.5 563.2,343.3 564.7,343.2 566.3,343.0 567.9,342.9 569.4,342.8 571,342.8 572.5,342.7 574.1,342.7 575.6,342.7 577.2,342.8 578.9,342.8 580.5,342.8 582,342.8 583.6,342.8 585.2,342.9 586.8,342.9 588.4,342.9 590,343.0 591.6,343.0 593.2,343.1 594.7,343.3 596.2,343.4 597.7,343.6 599.1,343.8 600.6,344.1 602,344.4 603.3,344.7 604.7,345.0 606,345.3 607.4,345.6 608.8,346.0 610.2,346.2 611.5,346.5 612.9,346.9 614.2,347.2 615.5,347.6 616.8,348.1 618.1,348.7 619.5,349.4 620.8,350.1 622.1,350.9 623.4,351.7 624.6,352.6 625.8,353.5 626.9,354.4 628,355.4 629,356.4 630.1,357.4 631.1,358.5 632,359.5 633,360.6 634,361.8 634.9,362.9 635.8,364.1 636.7,365.4 637.6,366.7 638.4,368.0 639.2,369.4 640,370.8 640.7,372.3 641.3,373.5 641.8,374.9 642.3,376.3 642.7,377.7 643.2,379.1 643.6,380.5 643.9,382.0 644.3,383.4 644.7,384.9 645,386.4 645.3,387.9 645.6,389.4 645.8,390.9 646.1,392.4 646.3,394.0 646.5,395.6 646.7,397.0 646.9,398.4 647.1,399.9 647.3,401.3 647.4,402.8 647.6,404.3 647.7,405.8 647.9,407.3 648,408.8 648.2,410.4 648.3,411.9 648.5,413.4 648.6,414.9 648.8,416.4 648.9,417.9 649.1,419.4 649.2,420.9 649.4,422.4 649.5,424.0 649.7,425.5 649.8,427.1 650,428.6 650.1,430.2 650.3,431.7 650.4,433.2 650.6,434.8 650.7,436.3 650.8,437.9 651,439.5 651.1,441.1 651.2,442.6 651.4,444.2 651.5,445.8 651.6,447.4 651.8,448.9 651.9,450.5 652.1,452.1 652.2,453.6 652.3,455.2 652.5,456.7 652.6,458.3 652.7,459.9 652.9,461.4 653,463.0 653.1,464.6 653.3,466.1 653.4,467.7 653.6,469.3 653.7,470.8 653.9,472.4 654,474.0 654.2,475.5 654.3,477.1 654.5,478.7 654.6,480.3 654.8,481.9 655,483.5 655.1,485.0 655.3,486.6 655.5,488.1 655.7,489.6 656,491.1 656.2,492.6 656.4,494.2 656.7,495.7 657,497.2 657.2,498.7 657.5,500.1 657.8,501.6 658.1,503.0 658.5,504.4 658.8,505.8 659.2,507.1 659.6,508.4 660.1,510.0 660.6,511.5 661.2,512.9 661.7,514.3 662.3,515.7 663,517.0 663.6,518.3 664.3,519.6 665.1,520.9 665.8,522.1 666.6,523.3 667.4,524.5 668.3,525.6 669.2,526.7 670.1,527.7 671.2,528.8 672.3,529.7 673.5,530.6 674.7,531.5 675.9,532.3 677.3,533.0 678.6,533.6 679.9,534.2 681.3,534.7 682.7,535.2 684.2,535.6 685.6,536.0 687.1,536.4 688.6,536.8 690,537.2 691.5,537.6 693,537.9 694.5,538.2 696.1,538.5 697.6,538.8 699.2,539.1 700.6,539.3 702,539.6 703.4,539.8 704.9,540.0 706.3,540.2 707.8,540.4 709.3,540.6 710.8,540.8 712.4,541.0 714,541.1 715.4,541.3 716.8,541.4 718.3,541.5 719.9,541.6 721.4,541.8 723,541.9 724.6,542.0 726.2,542.1 727.8,542.2 729.4,542.3 731,542.4 732.6,542.5 734.2,542.6 735.8,542.7 737.3,542.7 738.9,542.8 740.5,542.9 742,543.0 743.6,543.1 745.2,543.2 746.8,543.2 748.3,543.3 749.9,543.4 751.4,543.4 753,543.5 754.6,543.6 756.1,543.6 757.7,543.7 759.3,543.8" fill="none" stroke="#FF00FF" stroke-width="1.6" stroke-linejoin="round" stroke-dasharray="2.6,2.2"/>
<text transform="translate(474.5 356) scale(1.06 1.05)" font-size="9.3" fill="#FF00FF" stroke="#FF00FF" stroke-width="0.22" text-anchor="start">3x3</text>
<line x1="490.8" y1="354.1" x2="518.8" y2="364.3" stroke="#FF00FF" stroke-width="0.7"/>
<path d="M515.16,364.36 L518.8,364.3 L516.05,361.91" fill="none" stroke="#FF00FF" stroke-width="0.8"/>
<text transform="translate(473.9 383) scale(1.06 1.05)" font-size="9.3" fill="#0000FF" stroke="#0000FF" stroke-width="0.22" text-anchor="start">2x2</text>
<line x1="490.8" y1="381.1" x2="534.2" y2="394.2" stroke="#0000FF" stroke-width="0.7"/>
<path d="M530.57,394.46 L534.2,394.2 L531.32,391.97" fill="none" stroke="#0000FF" stroke-width="0.8"/>
<text transform="translate(475 409) scale(1.06 1.05)" font-size="9.3" fill="#000000" stroke="#000000" stroke-width="0.22" text-anchor="start">1x1</text>
<line x1="491.2" y1="408" x2="554.4" y2="425.4" stroke="#000000" stroke-width="0.7"/>
<path d="M550.78,425.75 L554.4,425.4 L551.47,423.24" fill="none" stroke="#000000" stroke-width="0.8"/>
</svg>
</body></html>
